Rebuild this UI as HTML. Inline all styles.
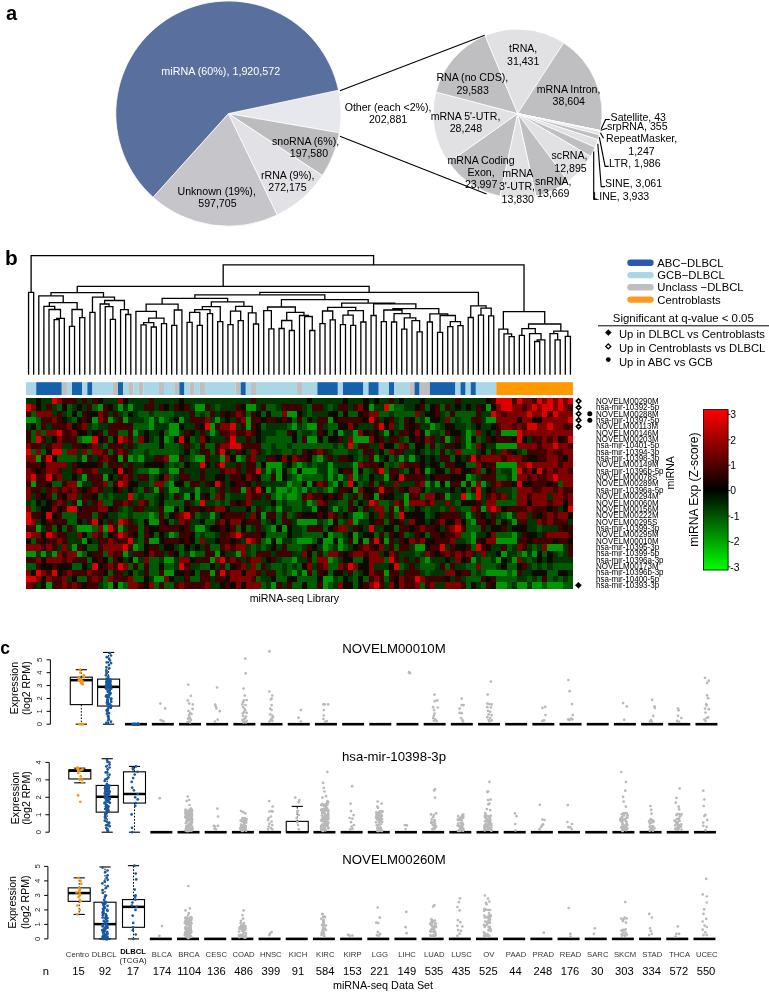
<!DOCTYPE html>
<html><head><meta charset="utf-8"><style>html,body{margin:0;padding:0;background:#fff;width:769px;height:992px;overflow:hidden}svg{display:block}</style></head><body>
<svg width="769" height="992" viewBox="0 0 769 992" font-family="Liberation Sans, Arial, Helvetica, sans-serif">
<rect width="769" height="992" fill="#fff"/>
<path d="M228.40,113.60 L338.54,90.19 A112.6,112.6 0 0 1 339.36,132.77 Z" fill="#e7e7ee" stroke="#fff" stroke-width="0.8" stroke-linejoin="round"/>
<path d="M228.40,113.60 L339.36,132.77 A112.6,112.6 0 0 1 322.40,175.58 Z" fill="#bcbcbe" stroke="#fff" stroke-width="0.8" stroke-linejoin="round"/>
<path d="M228.40,113.60 L322.40,175.58 A112.6,112.6 0 0 1 277.23,215.06 Z" fill="#e2e2e6" stroke="#fff" stroke-width="0.8" stroke-linejoin="round"/>
<path d="M228.40,113.60 L277.23,215.06 A112.6,112.6 0 0 1 153.06,197.28 Z" fill="#c6c6ca" stroke="#fff" stroke-width="0.8" stroke-linejoin="round"/>
<path d="M228.40,113.60 L153.06,197.28 A112.6,112.6 0 1 1 338.54,90.19 Z" fill="#59709f" stroke="#fff" stroke-width="0.8" stroke-linejoin="round"/>
<path d="M517.60,113.60 L484.99,35.65 A84.5,84.5 0 0 1 563.71,42.79 Z" fill="#e1e1e3" stroke="#fff" stroke-width="0.8" stroke-linejoin="round"/>
<path d="M517.60,113.60 L563.71,42.79 A84.5,84.5 0 0 1 600.38,130.55 Z" fill="#bfbfc1" stroke="#fff" stroke-width="0.8" stroke-linejoin="round"/>
<path d="M517.60,113.60 L600.38,130.55 A84.5,84.5 0 0 1 600.36,130.66 Z" fill="#e1e1e3" stroke="#fff" stroke-width="0.8" stroke-linejoin="round"/>
<path d="M517.60,113.60 L600.36,130.66 A84.5,84.5 0 0 1 600.17,131.57 Z" fill="#bfbfc1" stroke="#fff" stroke-width="0.8" stroke-linejoin="round"/>
<path d="M517.60,113.60 L600.17,131.57 A84.5,84.5 0 0 1 599.41,134.74 Z" fill="#e1e1e3" stroke="#fff" stroke-width="0.8" stroke-linejoin="round"/>
<path d="M517.60,113.60 L599.41,134.74 A84.5,84.5 0 0 1 597.96,139.73 Z" fill="#bfbfc1" stroke="#fff" stroke-width="0.8" stroke-linejoin="round"/>
<path d="M517.60,113.60 L597.96,139.73 A84.5,84.5 0 0 1 595.12,147.22 Z" fill="#e1e1e3" stroke="#fff" stroke-width="0.8" stroke-linejoin="round"/>
<path d="M517.60,113.60 L595.12,147.22 A84.5,84.5 0 0 1 590.46,156.39 Z" fill="#bfbfc1" stroke="#fff" stroke-width="0.8" stroke-linejoin="round"/>
<path d="M517.60,113.60 L590.46,156.39 A84.5,84.5 0 0 1 568.09,181.36 Z" fill="#e1e1e3" stroke="#fff" stroke-width="0.8" stroke-linejoin="round"/>
<path d="M517.60,113.60 L568.09,181.36 A84.5,84.5 0 0 1 535.80,196.12 Z" fill="#bfbfc1" stroke="#fff" stroke-width="0.8" stroke-linejoin="round"/>
<path d="M517.60,113.60 L535.80,196.12 A84.5,84.5 0 0 1 499.88,196.22 Z" fill="#e1e1e3" stroke="#fff" stroke-width="0.8" stroke-linejoin="round"/>
<path d="M517.60,113.60 L499.88,196.22 A84.5,84.5 0 0 1 448.65,162.45 Z" fill="#bfbfc1" stroke="#fff" stroke-width="0.8" stroke-linejoin="round"/>
<path d="M517.60,113.60 L448.65,162.45 A84.5,84.5 0 0 1 435.91,92.00 Z" fill="#e1e1e3" stroke="#fff" stroke-width="0.8" stroke-linejoin="round"/>
<path d="M517.60,113.60 L435.91,92.00 A84.5,84.5 0 0 1 484.99,35.65 Z" fill="#bfbfc1" stroke="#fff" stroke-width="0.8" stroke-linejoin="round"/>
<line x1="339.9" y1="90.7" x2="484.7" y2="35.3" stroke="#000" stroke-width="1.1"/>
<line x1="339.9" y1="136.3" x2="486.5" y2="194.0" stroke="#000" stroke-width="1.1"/>
<text x="6" y="20" font-size="20" text-anchor="start" fill="#000" font-weight="bold" >a</text>
<text x="220.8" y="74.8" font-size="10.75" text-anchor="middle" fill="#fff" font-weight="normal" >miRNA (60%), 1,920,572</text>
<text x="216.7" y="194.9" font-size="10.6" text-anchor="middle" fill="#000" font-weight="normal" >Unknown (19%),</text>
<text x="217.4" y="206.7" font-size="10.6" text-anchor="middle" fill="#000" font-weight="normal" >597,705</text>
<text x="287.8" y="179.3" font-size="10.6" text-anchor="middle" fill="#000" font-weight="normal" >rRNA (9%),</text>
<text x="287.5" y="191.3" font-size="10.6" text-anchor="middle" fill="#000" font-weight="normal" >272,175</text>
<text x="305.6" y="144.6" font-size="10.6" text-anchor="middle" fill="#000" font-weight="normal" >snoRNA (6%),</text>
<text x="308.9" y="156.8" font-size="10.6" text-anchor="middle" fill="#000" font-weight="normal" >197,580</text>
<text x="388.1" y="110.5" font-size="10.6" text-anchor="middle" fill="#000" font-weight="normal" >Other (each &lt;2%),</text>
<text x="388.1" y="123.1" font-size="10.6" text-anchor="middle" fill="#000" font-weight="normal" >202,881</text>
<text x="523.2" y="52.4" font-size="10.6" text-anchor="middle" fill="#000" font-weight="normal" >tRNA,</text>
<text x="523.2" y="64.7" font-size="10.6" text-anchor="middle" fill="#000" font-weight="normal" >31,431</text>
<text x="568.6" y="92.6" font-size="10.6" text-anchor="middle" fill="#000" font-weight="normal" >mRNA Intron,</text>
<text x="568.8" y="105.1" font-size="10.6" text-anchor="middle" fill="#000" font-weight="normal" >38,604</text>
<text x="472.3" y="81.1" font-size="10.6" text-anchor="middle" fill="#000" font-weight="normal" >RNA (no CDS),</text>
<text x="472.6" y="93.6" font-size="10.6" text-anchor="middle" fill="#000" font-weight="normal" >29,583</text>
<text x="465.5" y="119.6" font-size="10.6" text-anchor="middle" fill="#000" font-weight="normal" >mRNA 5'-UTR,</text>
<text x="465.9" y="131.8" font-size="10.6" text-anchor="middle" fill="#000" font-weight="normal" >28,248</text>
<text x="481.1" y="164.4" font-size="10.6" text-anchor="middle" fill="#000" font-weight="normal" >mRNA Coding</text>
<text x="481.1" y="175.7" font-size="10.6" text-anchor="middle" fill="#000" font-weight="normal" >Exon,</text>
<text x="481.1" y="188.1" font-size="10.6" text-anchor="middle" fill="#000" font-weight="normal" >23,997</text>
<text x="517.8" y="177.4" font-size="10.6" text-anchor="middle" fill="#000" font-weight="normal" >mRNA</text>
<text x="517.0" y="189.8" font-size="10.6" text-anchor="middle" fill="#000" font-weight="normal" >3'-UTR,</text>
<text x="517.8" y="202.9" font-size="10.6" text-anchor="middle" fill="#000" font-weight="normal" >13,830</text>
<text x="553.3" y="185.2" font-size="10.6" text-anchor="middle" fill="#000" font-weight="normal" >snRNA,</text>
<text x="553.3" y="197.3" font-size="10.6" text-anchor="middle" fill="#000" font-weight="normal" >13,669</text>
<text x="569.5" y="158.6" font-size="10.6" text-anchor="middle" fill="#000" font-weight="normal" >scRNA,</text>
<text x="570.5" y="171.6" font-size="10.6" text-anchor="middle" fill="#000" font-weight="normal" >12,895</text>
<text x="610.6" y="120.8" font-size="10.6" text-anchor="start" fill="#000" font-weight="normal" >Satellite, 43</text>
<text x="607" y="129.7" font-size="10.6" text-anchor="start" fill="#000" font-weight="normal" >srpRNA, 355</text>
<text x="606" y="142.2" font-size="10.6" text-anchor="start" fill="#000" font-weight="normal" >RepeatMasker,</text>
<text x="609" y="166.6" font-size="10.6" text-anchor="start" fill="#000" font-weight="normal" >LTR, 1,986</text>
<text x="605" y="187.4" font-size="10.6" text-anchor="start" fill="#000" font-weight="normal" >SINE, 3,061</text>
<text x="593.3" y="199.8" font-size="10.6" text-anchor="start" fill="#000" font-weight="normal" >LINE, 3,933</text>
<text x="641.5" y="154.6" font-size="10.6" text-anchor="middle" fill="#000" font-weight="normal" >1,247</text>
<polyline points="601.2,128.9 605.6,119.5 609.8,119.5" fill="none" stroke="#000" stroke-width="1.15"/>
<polyline points="600.7,130.2 607.1,128.3" fill="none" stroke="#000" stroke-width="1.15"/>
<polyline points="600.4,132.8 603.6,138.2" fill="none" stroke="#000" stroke-width="1.15"/>
<polyline points="599.3,137.1 605.1,166.3 608.7,166.3" fill="none" stroke="#000" stroke-width="1.15"/>
<polyline points="597.8,143.7 601.2,186.6 605.1,186.6" fill="none" stroke="#000" stroke-width="1.15"/>
<polyline points="593.7,151.5 593.7,199.1 596.8,199.1" fill="none" stroke="#000" stroke-width="1.15"/>
<path d="M28.56,374.00V292.30H33.67V374.00M54.12,374.00V319.60H59.23V374.00M56.67,319.60V318.30H64.34V374.00M49.00,374.00V309.50H60.51V318.30M43.89,374.00V306.30H54.76V309.50M69.45,374.00V326.40H74.56V374.00M79.68,374.00V317.60H84.79V374.00M72.01,326.40V309.50H82.23V317.60M49.32,306.30V302.70H77.12V309.50M38.78,374.00V295.90H63.22V302.70M89.90,374.00V312.40H95.01V374.00M110.35,374.00V319.30H115.46V374.00M105.24,374.00V306.60H112.90V319.30M100.12,374.00V304.00H109.07V306.60M125.68,374.00V314.50H130.80V374.00M120.57,374.00V309.70H128.24V314.50M104.60,304.00V300.50H124.41V309.70M92.46,312.40V297.20H114.50V300.50M51.00,295.90V292.60H103.48V297.20M141.02,374.00V324.90H146.13V374.00M151.24,374.00V327.00H156.36V374.00M143.58,324.90V322.70H153.80V327.00M161.47,374.00V323.60H166.58V374.00M148.69,322.70V318.10H164.02V323.60M135.91,374.00V311.30H156.36V318.10M171.69,374.00V325.30H176.80V374.00M174.25,325.30V310.00H181.92V374.00M146.13,311.30V304.10H178.08V310.00M187.03,374.00V322.30H192.14V374.00M197.25,374.00V325.30H202.36V374.00M189.58,322.30V312.30H199.81V325.30M207.48,374.00V313.60H212.59V374.00M194.70,312.30V309.70H210.03V313.60M217.70,374.00V321.60H222.81V374.00M202.36,309.70V306.70H220.26V321.60M227.92,374.00V324.60H233.04V374.00M238.15,374.00V320.70H243.26V374.00M230.48,324.60V311.20H240.70V320.70M253.48,374.00V324.00H258.60V374.00M248.37,374.00V312.90H256.04V324.00M235.59,311.20V306.40H252.21V312.90M211.31,306.70V301.90H243.90V306.40M162.11,304.10V298.30H227.60V301.90M268.82,374.00V328.80H273.93V374.00M263.71,374.00V310.60H271.38V328.80M279.04,374.00V328.50H284.16V374.00M289.27,374.00V330.50H294.38V374.00M281.60,328.50V320.50H291.82V330.50M309.72,374.00V330.50H314.83V374.00M304.60,374.00V316.50H312.27V330.50M299.49,374.00V315.50H308.44V316.50M286.71,320.50V312.30H303.97V315.50M267.54,310.60V307.00H295.34V312.30M319.94,374.00V323.60H325.05V374.00M330.16,374.00V319.80H335.28V374.00M322.50,323.60V311.00H332.72V319.80M340.39,374.00V324.60H345.50V374.00M350.61,374.00V325.30H355.72V374.00M342.94,324.60V315.20H353.17V325.30M360.84,374.00V322.00H365.95V374.00M348.06,315.20V310.60H363.39V322.00M327.61,311.00V307.40H355.72V310.60M371.06,374.00V315.50H376.17V374.00M381.28,374.00V321.60H386.40V374.00M391.51,374.00V322.00H396.62V374.00M401.73,374.00V329.20H406.84V374.00M417.07,374.00V331.80H422.18V374.00M411.96,374.00V320.70H419.62V331.80M404.29,329.20V317.80H415.79V320.70M394.06,322.00V313.60H410.04V317.80M383.84,321.60V310.00H402.05V313.60M427.29,374.00V322.00H432.40V374.00M437.52,374.00V332.40H442.63V374.00M447.74,374.00V326.60H452.85V374.00M457.96,374.00V325.70H463.08V374.00M450.30,326.60V321.60H460.52V325.70M440.07,332.40V315.50H455.41V321.60M429.85,322.00V313.80H447.74V315.50M392.95,310.00V308.70H438.79V313.80M373.62,315.50V303.80H415.87V308.70M341.67,307.40V303.20H394.74V303.80M281.44,307.00V299.60H368.20V303.20M194.86,298.30V294.90H324.82V299.60M468.19,374.00V317.50H473.30V374.00M478.41,374.00V315.20H483.52V374.00M488.64,374.00V315.80H493.75V374.00M480.97,315.20V308.10H491.19V315.80M470.74,317.50V305.80H486.08V308.10M259.84,294.90V292.40H478.41V305.80M77.24,292.60V286.40H369.13V292.40M509.08,374.00V336.60H514.20V374.00M503.97,374.00V333.90H511.64V336.60M498.86,374.00V329.20H507.81V333.90M519.31,374.00V335.40H524.42V374.00M534.64,374.00V341.50H539.76V374.00M537.20,341.50V339.80H544.87V374.00M529.53,374.00V333.60H541.03V339.80M521.86,335.40V328.60H535.28V333.60M555.09,374.00V339.80H560.20V374.00M549.98,374.00V333.60H557.65V339.80M565.32,374.00V336.30H570.43V374.00M553.81,333.60V331.20H567.87V336.30M528.57,328.60V324.00H560.84V331.20M503.33,329.20V311.70H544.71V324.00M223.18,286.40V264.80H524.02V311.70M31.11,292.30V255.60H373.60V264.80" fill="none" stroke="#000" stroke-width="1.3" stroke-linecap="square"/>
<rect x="26.00" y="382.2" width="10.22" height="12.8" fill="#a9d7e6"/>
<rect x="36.22" y="382.2" width="25.56" height="12.8" fill="#1561aa"/>
<rect x="61.78" y="382.2" width="5.11" height="12.8" fill="#bebebe"/>
<rect x="66.90" y="382.2" width="5.11" height="12.8" fill="#a9d7e6"/>
<rect x="72.01" y="382.2" width="10.22" height="12.8" fill="#1561aa"/>
<rect x="82.23" y="382.2" width="5.11" height="12.8" fill="#a9d7e6"/>
<rect x="87.34" y="382.2" width="5.11" height="12.8" fill="#1561aa"/>
<rect x="92.46" y="382.2" width="20.45" height="12.8" fill="#a9d7e6"/>
<rect x="112.90" y="382.2" width="5.11" height="12.8" fill="#bebebe"/>
<rect x="118.02" y="382.2" width="5.11" height="12.8" fill="#1561aa"/>
<rect x="123.13" y="382.2" width="5.11" height="12.8" fill="#a9d7e6"/>
<rect x="128.24" y="382.2" width="5.11" height="12.8" fill="#bebebe"/>
<rect x="133.35" y="382.2" width="5.11" height="12.8" fill="#a9d7e6"/>
<rect x="138.46" y="382.2" width="5.11" height="12.8" fill="#bebebe"/>
<rect x="143.58" y="382.2" width="15.34" height="12.8" fill="#a9d7e6"/>
<rect x="158.91" y="382.2" width="5.11" height="12.8" fill="#bebebe"/>
<rect x="164.02" y="382.2" width="10.22" height="12.8" fill="#a9d7e6"/>
<rect x="174.25" y="382.2" width="5.11" height="12.8" fill="#bebebe"/>
<rect x="179.36" y="382.2" width="5.11" height="12.8" fill="#1561aa"/>
<rect x="184.47" y="382.2" width="5.11" height="12.8" fill="#a9d7e6"/>
<rect x="189.58" y="382.2" width="5.11" height="12.8" fill="#bebebe"/>
<rect x="194.70" y="382.2" width="5.11" height="12.8" fill="#a9d7e6"/>
<rect x="199.81" y="382.2" width="5.11" height="12.8" fill="#bebebe"/>
<rect x="204.92" y="382.2" width="30.67" height="12.8" fill="#a9d7e6"/>
<rect x="235.59" y="382.2" width="5.11" height="12.8" fill="#bebebe"/>
<rect x="240.70" y="382.2" width="5.11" height="12.8" fill="#1561aa"/>
<rect x="245.82" y="382.2" width="5.11" height="12.8" fill="#a9d7e6"/>
<rect x="250.93" y="382.2" width="5.11" height="12.8" fill="#bebebe"/>
<rect x="256.04" y="382.2" width="40.90" height="12.8" fill="#a9d7e6"/>
<rect x="296.94" y="382.2" width="5.11" height="12.8" fill="#bebebe"/>
<rect x="302.05" y="382.2" width="15.34" height="12.8" fill="#a9d7e6"/>
<rect x="317.38" y="382.2" width="20.45" height="12.8" fill="#1561aa"/>
<rect x="337.83" y="382.2" width="5.11" height="12.8" fill="#a9d7e6"/>
<rect x="342.94" y="382.2" width="20.45" height="12.8" fill="#1561aa"/>
<rect x="363.39" y="382.2" width="5.11" height="12.8" fill="#a9d7e6"/>
<rect x="368.50" y="382.2" width="10.22" height="12.8" fill="#1561aa"/>
<rect x="378.73" y="382.2" width="10.22" height="12.8" fill="#a9d7e6"/>
<rect x="388.95" y="382.2" width="5.11" height="12.8" fill="#1561aa"/>
<rect x="394.06" y="382.2" width="15.34" height="12.8" fill="#a9d7e6"/>
<rect x="409.40" y="382.2" width="5.11" height="12.8" fill="#bebebe"/>
<rect x="414.51" y="382.2" width="5.11" height="12.8" fill="#1561aa"/>
<rect x="419.62" y="382.2" width="10.22" height="12.8" fill="#bebebe"/>
<rect x="429.85" y="382.2" width="25.56" height="12.8" fill="#1561aa"/>
<rect x="455.41" y="382.2" width="5.11" height="12.8" fill="#a9d7e6"/>
<rect x="460.52" y="382.2" width="5.11" height="12.8" fill="#1561aa"/>
<rect x="465.63" y="382.2" width="5.11" height="12.8" fill="#a9d7e6"/>
<rect x="470.74" y="382.2" width="5.11" height="12.8" fill="#1561aa"/>
<rect x="475.86" y="382.2" width="20.45" height="12.8" fill="#a9d7e6"/>
<rect x="496.30" y="382.2" width="76.68" height="12.8" fill="#ff9900"/>
<style>.R{fill:rgb(222,0,0)}.r{fill:rgb(128,0,0)}.d{fill:rgb(64,0,0)}.k{fill:rgb(14,8,0)}.h{fill:rgb(0,52,0)}.g{fill:rgb(0,90,0)}.G{fill:rgb(0,150,0)}</style>
<g shape-rendering="crispEdges"><rect x="26.00" y="398.00" width="10.27" height="6.41" class="h"/><rect x="36.22" y="398.00" width="5.16" height="6.41" class="k"/><rect x="41.34" y="398.00" width="10.27" height="6.41" class="h"/><rect x="51.56" y="398.00" width="5.16" height="6.41" class="R"/><rect x="56.67" y="398.00" width="5.16" height="6.41" class="r"/><rect x="61.78" y="398.00" width="15.39" height="6.41" class="d"/><rect x="77.12" y="398.00" width="5.16" height="6.41" class="h"/><rect x="82.23" y="398.00" width="5.16" height="6.41" class="d"/><rect x="87.34" y="398.00" width="5.16" height="6.41" class="h"/><rect x="92.46" y="398.00" width="5.16" height="6.41" class="d"/><rect x="97.57" y="398.00" width="5.16" height="6.41" class="k"/><rect x="102.68" y="398.00" width="15.39" height="6.41" class="h"/><rect x="118.02" y="398.00" width="5.16" height="6.41" class="r"/><rect x="123.13" y="398.00" width="5.16" height="6.41" class="k"/><rect x="128.24" y="398.00" width="20.50" height="6.41" class="h"/><rect x="148.69" y="398.00" width="5.16" height="6.41" class="d"/><rect x="153.80" y="398.00" width="25.61" height="6.41" class="h"/><rect x="179.36" y="398.00" width="5.16" height="6.41" class="k"/><rect x="184.47" y="398.00" width="66.51" height="6.41" class="h"/><rect x="250.93" y="398.00" width="5.16" height="6.41" class="d"/><rect x="256.04" y="398.00" width="51.17" height="6.41" class="h"/><rect x="307.16" y="398.00" width="5.16" height="6.41" class="k"/><rect x="312.27" y="398.00" width="30.72" height="6.41" class="h"/><rect x="342.94" y="398.00" width="5.16" height="6.41" class="k"/><rect x="348.06" y="398.00" width="15.39" height="6.41" class="h"/><rect x="363.39" y="398.00" width="5.16" height="6.41" class="k"/><rect x="368.50" y="398.00" width="5.16" height="6.41" class="h"/><rect x="373.62" y="398.00" width="5.16" height="6.41" class="k"/><rect x="378.73" y="398.00" width="10.27" height="6.41" class="h"/><rect x="388.95" y="398.00" width="5.16" height="6.41" class="d"/><rect x="394.06" y="398.00" width="5.16" height="6.41" class="h"/><rect x="399.18" y="398.00" width="5.16" height="6.41" class="k"/><rect x="404.29" y="398.00" width="15.39" height="6.41" class="h"/><rect x="419.62" y="398.00" width="5.16" height="6.41" class="k"/><rect x="424.74" y="398.00" width="30.72" height="6.41" class="h"/><rect x="455.41" y="398.00" width="5.16" height="6.41" class="d"/><rect x="460.52" y="398.00" width="25.61" height="6.41" class="h"/><rect x="486.08" y="398.00" width="5.16" height="6.41" class="k"/><rect x="491.19" y="398.00" width="5.16" height="6.41" class="d"/><rect x="496.30" y="398.00" width="15.39" height="6.41" class="R"/><rect x="511.64" y="398.00" width="5.16" height="6.41" class="d"/><rect x="516.75" y="398.00" width="5.16" height="6.41" class="R"/><rect x="521.86" y="398.00" width="10.27" height="6.41" class="r"/><rect x="532.09" y="398.00" width="5.16" height="6.41" class="d"/><rect x="537.20" y="398.00" width="5.16" height="6.41" class="R"/><rect x="542.31" y="398.00" width="5.16" height="6.41" class="r"/><rect x="547.42" y="398.00" width="5.16" height="6.41" class="R"/><rect x="552.54" y="398.00" width="5.16" height="6.41" class="r"/><rect x="557.65" y="398.00" width="5.16" height="6.41" class="R"/><rect x="562.76" y="398.00" width="5.16" height="6.41" class="r"/><rect x="567.87" y="398.00" width="5.16" height="6.41" class="R"/><rect x="26.00" y="404.36" width="5.16" height="6.41" class="R"/><rect x="31.11" y="404.36" width="5.16" height="6.41" class="r"/><rect x="36.22" y="404.36" width="5.16" height="6.41" class="k"/><rect x="41.34" y="404.36" width="5.16" height="6.41" class="h"/><rect x="46.45" y="404.36" width="5.16" height="6.41" class="d"/><rect x="51.56" y="404.36" width="5.16" height="6.41" class="h"/><rect x="56.67" y="404.36" width="5.16" height="6.41" class="g"/><rect x="61.78" y="404.36" width="5.16" height="6.41" class="k"/><rect x="66.90" y="404.36" width="5.16" height="6.41" class="g"/><rect x="72.01" y="404.36" width="5.16" height="6.41" class="h"/><rect x="77.12" y="404.36" width="5.16" height="6.41" class="k"/><rect x="82.23" y="404.36" width="5.16" height="6.41" class="h"/><rect x="87.34" y="404.36" width="5.16" height="6.41" class="d"/><rect x="92.46" y="404.36" width="5.16" height="6.41" class="g"/><rect x="97.57" y="404.36" width="5.16" height="6.41" class="G"/><rect x="102.68" y="404.36" width="5.16" height="6.41" class="d"/><rect x="107.79" y="404.36" width="5.16" height="6.41" class="k"/><rect x="112.90" y="404.36" width="5.16" height="6.41" class="h"/><rect x="118.02" y="404.36" width="5.16" height="6.41" class="G"/><rect x="123.13" y="404.36" width="5.16" height="6.41" class="h"/><rect x="128.24" y="404.36" width="5.16" height="6.41" class="G"/><rect x="133.35" y="404.36" width="10.27" height="6.41" class="h"/><rect x="143.58" y="404.36" width="10.27" height="6.41" class="d"/><rect x="153.80" y="404.36" width="5.16" height="6.41" class="h"/><rect x="158.91" y="404.36" width="5.16" height="6.41" class="d"/><rect x="164.02" y="404.36" width="5.16" height="6.41" class="k"/><rect x="169.14" y="404.36" width="5.16" height="6.41" class="h"/><rect x="174.25" y="404.36" width="5.16" height="6.41" class="d"/><rect x="179.36" y="404.36" width="5.16" height="6.41" class="k"/><rect x="184.47" y="404.36" width="5.16" height="6.41" class="d"/><rect x="189.58" y="404.36" width="5.16" height="6.41" class="h"/><rect x="194.70" y="404.36" width="10.27" height="6.41" class="G"/><rect x="204.92" y="404.36" width="5.16" height="6.41" class="d"/><rect x="210.03" y="404.36" width="5.16" height="6.41" class="h"/><rect x="215.14" y="404.36" width="5.16" height="6.41" class="g"/><rect x="220.26" y="404.36" width="15.39" height="6.41" class="h"/><rect x="235.59" y="404.36" width="5.16" height="6.41" class="d"/><rect x="240.70" y="404.36" width="5.16" height="6.41" class="k"/><rect x="245.82" y="404.36" width="10.27" height="6.41" class="G"/><rect x="256.04" y="404.36" width="5.16" height="6.41" class="h"/><rect x="261.15" y="404.36" width="5.16" height="6.41" class="d"/><rect x="266.26" y="404.36" width="10.27" height="6.41" class="g"/><rect x="276.49" y="404.36" width="5.16" height="6.41" class="h"/><rect x="281.60" y="404.36" width="20.50" height="6.41" class="d"/><rect x="302.05" y="404.36" width="5.16" height="6.41" class="h"/><rect x="307.16" y="404.36" width="5.16" height="6.41" class="g"/><rect x="312.27" y="404.36" width="10.27" height="6.41" class="d"/><rect x="322.50" y="404.36" width="5.16" height="6.41" class="h"/><rect x="327.61" y="404.36" width="5.16" height="6.41" class="g"/><rect x="332.72" y="404.36" width="5.16" height="6.41" class="h"/><rect x="337.83" y="404.36" width="10.27" height="6.41" class="d"/><rect x="348.06" y="404.36" width="5.16" height="6.41" class="h"/><rect x="353.17" y="404.36" width="5.16" height="6.41" class="d"/><rect x="358.28" y="404.36" width="5.16" height="6.41" class="r"/><rect x="363.39" y="404.36" width="5.16" height="6.41" class="k"/><rect x="368.50" y="404.36" width="5.16" height="6.41" class="G"/><rect x="373.62" y="404.36" width="10.27" height="6.41" class="h"/><rect x="383.84" y="404.36" width="5.16" height="6.41" class="R"/><rect x="388.95" y="404.36" width="5.16" height="6.41" class="G"/><rect x="394.06" y="404.36" width="10.27" height="6.41" class="g"/><rect x="404.29" y="404.36" width="10.27" height="6.41" class="h"/><rect x="414.51" y="404.36" width="5.16" height="6.41" class="k"/><rect x="419.62" y="404.36" width="5.16" height="6.41" class="d"/><rect x="424.74" y="404.36" width="5.16" height="6.41" class="g"/><rect x="429.85" y="404.36" width="5.16" height="6.41" class="k"/><rect x="434.96" y="404.36" width="5.16" height="6.41" class="d"/><rect x="440.07" y="404.36" width="5.16" height="6.41" class="g"/><rect x="445.18" y="404.36" width="5.16" height="6.41" class="d"/><rect x="450.30" y="404.36" width="5.16" height="6.41" class="h"/><rect x="455.41" y="404.36" width="5.16" height="6.41" class="k"/><rect x="460.52" y="404.36" width="5.16" height="6.41" class="h"/><rect x="465.63" y="404.36" width="5.16" height="6.41" class="k"/><rect x="470.74" y="404.36" width="5.16" height="6.41" class="h"/><rect x="475.86" y="404.36" width="5.16" height="6.41" class="d"/><rect x="480.97" y="404.36" width="5.16" height="6.41" class="k"/><rect x="486.08" y="404.36" width="5.16" height="6.41" class="G"/><rect x="491.19" y="404.36" width="5.16" height="6.41" class="k"/><rect x="496.30" y="404.36" width="5.16" height="6.41" class="r"/><rect x="501.42" y="404.36" width="10.27" height="6.41" class="R"/><rect x="511.64" y="404.36" width="10.27" height="6.41" class="r"/><rect x="521.86" y="404.36" width="5.16" height="6.41" class="d"/><rect x="526.98" y="404.36" width="5.16" height="6.41" class="r"/><rect x="532.09" y="404.36" width="5.16" height="6.41" class="R"/><rect x="537.20" y="404.36" width="5.16" height="6.41" class="r"/><rect x="542.31" y="404.36" width="10.27" height="6.41" class="R"/><rect x="552.54" y="404.36" width="5.16" height="6.41" class="r"/><rect x="557.65" y="404.36" width="5.16" height="6.41" class="R"/><rect x="562.76" y="404.36" width="5.16" height="6.41" class="r"/><rect x="567.87" y="404.36" width="5.16" height="6.41" class="d"/><rect x="26.00" y="410.72" width="5.16" height="6.41" class="d"/><rect x="31.11" y="410.72" width="5.16" height="6.41" class="g"/><rect x="36.22" y="410.72" width="15.39" height="6.41" class="r"/><rect x="51.56" y="410.72" width="5.16" height="6.41" class="h"/><rect x="56.67" y="410.72" width="5.16" height="6.41" class="d"/><rect x="61.78" y="410.72" width="5.16" height="6.41" class="h"/><rect x="66.90" y="410.72" width="5.16" height="6.41" class="g"/><rect x="72.01" y="410.72" width="5.16" height="6.41" class="k"/><rect x="77.12" y="410.72" width="5.16" height="6.41" class="g"/><rect x="82.23" y="410.72" width="5.16" height="6.41" class="d"/><rect x="87.34" y="410.72" width="10.27" height="6.41" class="k"/><rect x="97.57" y="410.72" width="5.16" height="6.41" class="r"/><rect x="102.68" y="410.72" width="5.16" height="6.41" class="d"/><rect x="107.79" y="410.72" width="5.16" height="6.41" class="h"/><rect x="112.90" y="410.72" width="5.16" height="6.41" class="d"/><rect x="118.02" y="410.72" width="5.16" height="6.41" class="h"/><rect x="123.13" y="410.72" width="5.16" height="6.41" class="g"/><rect x="128.24" y="410.72" width="5.16" height="6.41" class="k"/><rect x="133.35" y="410.72" width="5.16" height="6.41" class="h"/><rect x="138.46" y="410.72" width="10.27" height="6.41" class="g"/><rect x="148.69" y="410.72" width="5.16" height="6.41" class="h"/><rect x="153.80" y="410.72" width="20.50" height="6.41" class="g"/><rect x="174.25" y="410.72" width="15.39" height="6.41" class="h"/><rect x="189.58" y="410.72" width="5.16" height="6.41" class="d"/><rect x="194.70" y="410.72" width="5.16" height="6.41" class="g"/><rect x="199.81" y="410.72" width="5.16" height="6.41" class="h"/><rect x="204.92" y="410.72" width="5.16" height="6.41" class="g"/><rect x="210.03" y="410.72" width="5.16" height="6.41" class="d"/><rect x="215.14" y="410.72" width="5.16" height="6.41" class="h"/><rect x="220.26" y="410.72" width="5.16" height="6.41" class="d"/><rect x="225.37" y="410.72" width="5.16" height="6.41" class="k"/><rect x="230.48" y="410.72" width="5.16" height="6.41" class="d"/><rect x="235.59" y="410.72" width="5.16" height="6.41" class="r"/><rect x="240.70" y="410.72" width="5.16" height="6.41" class="d"/><rect x="245.82" y="410.72" width="5.16" height="6.41" class="g"/><rect x="250.93" y="410.72" width="5.16" height="6.41" class="d"/><rect x="256.04" y="410.72" width="5.16" height="6.41" class="k"/><rect x="261.15" y="410.72" width="5.16" height="6.41" class="g"/><rect x="266.26" y="410.72" width="5.16" height="6.41" class="k"/><rect x="271.38" y="410.72" width="10.27" height="6.41" class="g"/><rect x="281.60" y="410.72" width="5.16" height="6.41" class="r"/><rect x="286.71" y="410.72" width="10.27" height="6.41" class="G"/><rect x="296.94" y="410.72" width="5.16" height="6.41" class="k"/><rect x="302.05" y="410.72" width="5.16" height="6.41" class="h"/><rect x="307.16" y="410.72" width="5.16" height="6.41" class="g"/><rect x="312.27" y="410.72" width="15.39" height="6.41" class="h"/><rect x="327.61" y="410.72" width="10.27" height="6.41" class="k"/><rect x="337.83" y="410.72" width="5.16" height="6.41" class="g"/><rect x="342.94" y="410.72" width="5.16" height="6.41" class="k"/><rect x="348.06" y="410.72" width="10.27" height="6.41" class="g"/><rect x="358.28" y="410.72" width="5.16" height="6.41" class="k"/><rect x="363.39" y="410.72" width="5.16" height="6.41" class="d"/><rect x="368.50" y="410.72" width="10.27" height="6.41" class="r"/><rect x="378.73" y="410.72" width="10.27" height="6.41" class="g"/><rect x="388.95" y="410.72" width="5.16" height="6.41" class="h"/><rect x="394.06" y="410.72" width="20.50" height="6.41" class="g"/><rect x="414.51" y="410.72" width="5.16" height="6.41" class="r"/><rect x="419.62" y="410.72" width="5.16" height="6.41" class="h"/><rect x="424.74" y="410.72" width="10.27" height="6.41" class="k"/><rect x="434.96" y="410.72" width="5.16" height="6.41" class="d"/><rect x="440.07" y="410.72" width="5.16" height="6.41" class="h"/><rect x="445.18" y="410.72" width="5.16" height="6.41" class="g"/><rect x="450.30" y="410.72" width="5.16" height="6.41" class="d"/><rect x="455.41" y="410.72" width="20.50" height="6.41" class="g"/><rect x="475.86" y="410.72" width="5.16" height="6.41" class="d"/><rect x="480.97" y="410.72" width="10.27" height="6.41" class="h"/><rect x="491.19" y="410.72" width="5.16" height="6.41" class="R"/><rect x="496.30" y="410.72" width="5.16" height="6.41" class="r"/><rect x="501.42" y="410.72" width="5.16" height="6.41" class="d"/><rect x="506.53" y="410.72" width="20.50" height="6.41" class="r"/><rect x="526.98" y="410.72" width="5.16" height="6.41" class="R"/><rect x="532.09" y="410.72" width="10.27" height="6.41" class="r"/><rect x="542.31" y="410.72" width="5.16" height="6.41" class="R"/><rect x="547.42" y="410.72" width="5.16" height="6.41" class="d"/><rect x="552.54" y="410.72" width="5.16" height="6.41" class="R"/><rect x="557.65" y="410.72" width="15.39" height="6.41" class="r"/><rect x="26.00" y="417.08" width="10.27" height="6.41" class="G"/><rect x="36.22" y="417.08" width="5.16" height="6.41" class="g"/><rect x="41.34" y="417.08" width="10.27" height="6.41" class="d"/><rect x="51.56" y="417.08" width="5.16" height="6.41" class="r"/><rect x="56.67" y="417.08" width="5.16" height="6.41" class="d"/><rect x="61.78" y="417.08" width="5.16" height="6.41" class="k"/><rect x="66.90" y="417.08" width="5.16" height="6.41" class="h"/><rect x="72.01" y="417.08" width="5.16" height="6.41" class="g"/><rect x="77.12" y="417.08" width="5.16" height="6.41" class="k"/><rect x="82.23" y="417.08" width="5.16" height="6.41" class="d"/><rect x="87.34" y="417.08" width="5.16" height="6.41" class="k"/><rect x="92.46" y="417.08" width="5.16" height="6.41" class="G"/><rect x="97.57" y="417.08" width="5.16" height="6.41" class="r"/><rect x="102.68" y="417.08" width="5.16" height="6.41" class="d"/><rect x="107.79" y="417.08" width="5.16" height="6.41" class="G"/><rect x="112.90" y="417.08" width="5.16" height="6.41" class="h"/><rect x="118.02" y="417.08" width="5.16" height="6.41" class="d"/><rect x="123.13" y="417.08" width="5.16" height="6.41" class="G"/><rect x="128.24" y="417.08" width="15.39" height="6.41" class="h"/><rect x="143.58" y="417.08" width="5.16" height="6.41" class="g"/><rect x="148.69" y="417.08" width="5.16" height="6.41" class="G"/><rect x="153.80" y="417.08" width="5.16" height="6.41" class="h"/><rect x="158.91" y="417.08" width="5.16" height="6.41" class="G"/><rect x="164.02" y="417.08" width="5.16" height="6.41" class="g"/><rect x="169.14" y="417.08" width="5.16" height="6.41" class="h"/><rect x="174.25" y="417.08" width="5.16" height="6.41" class="k"/><rect x="179.36" y="417.08" width="5.16" height="6.41" class="G"/><rect x="184.47" y="417.08" width="5.16" height="6.41" class="h"/><rect x="189.58" y="417.08" width="15.39" height="6.41" class="d"/><rect x="204.92" y="417.08" width="5.16" height="6.41" class="r"/><rect x="210.03" y="417.08" width="5.16" height="6.41" class="h"/><rect x="215.14" y="417.08" width="5.16" height="6.41" class="G"/><rect x="220.26" y="417.08" width="5.16" height="6.41" class="h"/><rect x="225.37" y="417.08" width="5.16" height="6.41" class="k"/><rect x="230.48" y="417.08" width="5.16" height="6.41" class="h"/><rect x="235.59" y="417.08" width="5.16" height="6.41" class="d"/><rect x="240.70" y="417.08" width="5.16" height="6.41" class="r"/><rect x="245.82" y="417.08" width="5.16" height="6.41" class="G"/><rect x="250.93" y="417.08" width="10.27" height="6.41" class="d"/><rect x="261.15" y="417.08" width="5.16" height="6.41" class="k"/><rect x="266.26" y="417.08" width="10.27" height="6.41" class="d"/><rect x="276.49" y="417.08" width="5.16" height="6.41" class="k"/><rect x="281.60" y="417.08" width="5.16" height="6.41" class="d"/><rect x="286.71" y="417.08" width="5.16" height="6.41" class="k"/><rect x="291.82" y="417.08" width="5.16" height="6.41" class="g"/><rect x="296.94" y="417.08" width="5.16" height="6.41" class="d"/><rect x="302.05" y="417.08" width="5.16" height="6.41" class="g"/><rect x="307.16" y="417.08" width="5.16" height="6.41" class="k"/><rect x="312.27" y="417.08" width="5.16" height="6.41" class="h"/><rect x="317.38" y="417.08" width="10.27" height="6.41" class="d"/><rect x="327.61" y="417.08" width="5.16" height="6.41" class="G"/><rect x="332.72" y="417.08" width="5.16" height="6.41" class="k"/><rect x="337.83" y="417.08" width="25.61" height="6.41" class="d"/><rect x="363.39" y="417.08" width="5.16" height="6.41" class="k"/><rect x="368.50" y="417.08" width="5.16" height="6.41" class="R"/><rect x="373.62" y="417.08" width="5.16" height="6.41" class="d"/><rect x="378.73" y="417.08" width="5.16" height="6.41" class="h"/><rect x="383.84" y="417.08" width="5.16" height="6.41" class="k"/><rect x="388.95" y="417.08" width="5.16" height="6.41" class="d"/><rect x="394.06" y="417.08" width="5.16" height="6.41" class="h"/><rect x="399.18" y="417.08" width="5.16" height="6.41" class="g"/><rect x="404.29" y="417.08" width="5.16" height="6.41" class="d"/><rect x="409.40" y="417.08" width="5.16" height="6.41" class="k"/><rect x="414.51" y="417.08" width="5.16" height="6.41" class="g"/><rect x="419.62" y="417.08" width="5.16" height="6.41" class="h"/><rect x="424.74" y="417.08" width="5.16" height="6.41" class="G"/><rect x="429.85" y="417.08" width="10.27" height="6.41" class="k"/><rect x="440.07" y="417.08" width="5.16" height="6.41" class="h"/><rect x="445.18" y="417.08" width="5.16" height="6.41" class="r"/><rect x="450.30" y="417.08" width="5.16" height="6.41" class="g"/><rect x="455.41" y="417.08" width="5.16" height="6.41" class="h"/><rect x="460.52" y="417.08" width="10.27" height="6.41" class="g"/><rect x="470.74" y="417.08" width="10.27" height="6.41" class="d"/><rect x="480.97" y="417.08" width="5.16" height="6.41" class="h"/><rect x="486.08" y="417.08" width="10.27" height="6.41" class="G"/><rect x="496.30" y="417.08" width="20.50" height="6.41" class="r"/><rect x="516.75" y="417.08" width="5.16" height="6.41" class="k"/><rect x="521.86" y="417.08" width="10.27" height="6.41" class="r"/><rect x="532.09" y="417.08" width="10.27" height="6.41" class="k"/><rect x="542.31" y="417.08" width="25.61" height="6.41" class="r"/><rect x="567.87" y="417.08" width="5.16" height="6.41" class="R"/><rect x="26.00" y="423.44" width="5.16" height="6.41" class="h"/><rect x="31.11" y="423.44" width="5.16" height="6.41" class="k"/><rect x="36.22" y="423.44" width="5.16" height="6.41" class="g"/><rect x="41.34" y="423.44" width="5.16" height="6.41" class="d"/><rect x="46.45" y="423.44" width="5.16" height="6.41" class="h"/><rect x="51.56" y="423.44" width="15.39" height="6.41" class="d"/><rect x="66.90" y="423.44" width="5.16" height="6.41" class="r"/><rect x="72.01" y="423.44" width="5.16" height="6.41" class="k"/><rect x="77.12" y="423.44" width="5.16" height="6.41" class="d"/><rect x="82.23" y="423.44" width="5.16" height="6.41" class="r"/><rect x="87.34" y="423.44" width="5.16" height="6.41" class="h"/><rect x="92.46" y="423.44" width="5.16" height="6.41" class="g"/><rect x="97.57" y="423.44" width="10.27" height="6.41" class="h"/><rect x="107.79" y="423.44" width="25.61" height="6.41" class="d"/><rect x="133.35" y="423.44" width="15.39" height="6.41" class="g"/><rect x="148.69" y="423.44" width="5.16" height="6.41" class="G"/><rect x="153.80" y="423.44" width="15.39" height="6.41" class="h"/><rect x="169.14" y="423.44" width="10.27" height="6.41" class="G"/><rect x="179.36" y="423.44" width="5.16" height="6.41" class="k"/><rect x="184.47" y="423.44" width="10.27" height="6.41" class="h"/><rect x="194.70" y="423.44" width="5.16" height="6.41" class="d"/><rect x="199.81" y="423.44" width="5.16" height="6.41" class="k"/><rect x="204.92" y="423.44" width="5.16" height="6.41" class="R"/><rect x="210.03" y="423.44" width="5.16" height="6.41" class="G"/><rect x="215.14" y="423.44" width="5.16" height="6.41" class="d"/><rect x="220.26" y="423.44" width="10.27" height="6.41" class="r"/><rect x="230.48" y="423.44" width="5.16" height="6.41" class="R"/><rect x="235.59" y="423.44" width="5.16" height="6.41" class="h"/><rect x="240.70" y="423.44" width="5.16" height="6.41" class="d"/><rect x="245.82" y="423.44" width="5.16" height="6.41" class="G"/><rect x="250.93" y="423.44" width="5.16" height="6.41" class="d"/><rect x="256.04" y="423.44" width="5.16" height="6.41" class="k"/><rect x="261.15" y="423.44" width="5.16" height="6.41" class="g"/><rect x="266.26" y="423.44" width="20.50" height="6.41" class="h"/><rect x="286.71" y="423.44" width="5.16" height="6.41" class="g"/><rect x="291.82" y="423.44" width="5.16" height="6.41" class="G"/><rect x="296.94" y="423.44" width="5.16" height="6.41" class="h"/><rect x="302.05" y="423.44" width="5.16" height="6.41" class="g"/><rect x="307.16" y="423.44" width="10.27" height="6.41" class="G"/><rect x="317.38" y="423.44" width="5.16" height="6.41" class="d"/><rect x="322.50" y="423.44" width="5.16" height="6.41" class="h"/><rect x="327.61" y="423.44" width="10.27" height="6.41" class="g"/><rect x="337.83" y="423.44" width="10.27" height="6.41" class="k"/><rect x="348.06" y="423.44" width="5.16" height="6.41" class="r"/><rect x="353.17" y="423.44" width="5.16" height="6.41" class="k"/><rect x="358.28" y="423.44" width="15.39" height="6.41" class="h"/><rect x="373.62" y="423.44" width="5.16" height="6.41" class="d"/><rect x="378.73" y="423.44" width="5.16" height="6.41" class="R"/><rect x="383.84" y="423.44" width="5.16" height="6.41" class="k"/><rect x="388.95" y="423.44" width="5.16" height="6.41" class="r"/><rect x="394.06" y="423.44" width="5.16" height="6.41" class="h"/><rect x="399.18" y="423.44" width="5.16" height="6.41" class="g"/><rect x="404.29" y="423.44" width="5.16" height="6.41" class="d"/><rect x="409.40" y="423.44" width="5.16" height="6.41" class="k"/><rect x="414.51" y="423.44" width="5.16" height="6.41" class="d"/><rect x="419.62" y="423.44" width="10.27" height="6.41" class="h"/><rect x="429.85" y="423.44" width="5.16" height="6.41" class="G"/><rect x="434.96" y="423.44" width="5.16" height="6.41" class="g"/><rect x="440.07" y="423.44" width="5.16" height="6.41" class="h"/><rect x="445.18" y="423.44" width="10.27" height="6.41" class="k"/><rect x="455.41" y="423.44" width="10.27" height="6.41" class="h"/><rect x="465.63" y="423.44" width="5.16" height="6.41" class="g"/><rect x="470.74" y="423.44" width="5.16" height="6.41" class="h"/><rect x="475.86" y="423.44" width="5.16" height="6.41" class="k"/><rect x="480.97" y="423.44" width="10.27" height="6.41" class="h"/><rect x="491.19" y="423.44" width="5.16" height="6.41" class="k"/><rect x="496.30" y="423.44" width="5.16" height="6.41" class="d"/><rect x="501.42" y="423.44" width="10.27" height="6.41" class="r"/><rect x="511.64" y="423.44" width="5.16" height="6.41" class="d"/><rect x="516.75" y="423.44" width="5.16" height="6.41" class="r"/><rect x="521.86" y="423.44" width="5.16" height="6.41" class="d"/><rect x="526.98" y="423.44" width="10.27" height="6.41" class="R"/><rect x="537.20" y="423.44" width="10.27" height="6.41" class="r"/><rect x="547.42" y="423.44" width="5.16" height="6.41" class="R"/><rect x="552.54" y="423.44" width="10.27" height="6.41" class="r"/><rect x="562.76" y="423.44" width="10.27" height="6.41" class="d"/><rect x="26.00" y="429.80" width="5.16" height="6.41" class="d"/><rect x="31.11" y="429.80" width="5.16" height="6.41" class="g"/><rect x="36.22" y="429.80" width="5.16" height="6.41" class="r"/><rect x="41.34" y="429.80" width="5.16" height="6.41" class="g"/><rect x="46.45" y="429.80" width="10.27" height="6.41" class="r"/><rect x="56.67" y="429.80" width="5.16" height="6.41" class="R"/><rect x="61.78" y="429.80" width="10.27" height="6.41" class="d"/><rect x="72.01" y="429.80" width="5.16" height="6.41" class="r"/><rect x="77.12" y="429.80" width="10.27" height="6.41" class="k"/><rect x="87.34" y="429.80" width="5.16" height="6.41" class="h"/><rect x="92.46" y="429.80" width="5.16" height="6.41" class="k"/><rect x="97.57" y="429.80" width="5.16" height="6.41" class="d"/><rect x="102.68" y="429.80" width="5.16" height="6.41" class="g"/><rect x="107.79" y="429.80" width="10.27" height="6.41" class="d"/><rect x="118.02" y="429.80" width="10.27" height="6.41" class="g"/><rect x="128.24" y="429.80" width="5.16" height="6.41" class="d"/><rect x="133.35" y="429.80" width="5.16" height="6.41" class="G"/><rect x="138.46" y="429.80" width="5.16" height="6.41" class="h"/><rect x="143.58" y="429.80" width="5.16" height="6.41" class="k"/><rect x="148.69" y="429.80" width="10.27" height="6.41" class="h"/><rect x="158.91" y="429.80" width="5.16" height="6.41" class="k"/><rect x="164.02" y="429.80" width="5.16" height="6.41" class="g"/><rect x="169.14" y="429.80" width="10.27" height="6.41" class="G"/><rect x="179.36" y="429.80" width="5.16" height="6.41" class="h"/><rect x="184.47" y="429.80" width="5.16" height="6.41" class="d"/><rect x="189.58" y="429.80" width="5.16" height="6.41" class="k"/><rect x="194.70" y="429.80" width="5.16" height="6.41" class="h"/><rect x="199.81" y="429.80" width="5.16" height="6.41" class="d"/><rect x="204.92" y="429.80" width="5.16" height="6.41" class="h"/><rect x="210.03" y="429.80" width="5.16" height="6.41" class="G"/><rect x="215.14" y="429.80" width="5.16" height="6.41" class="h"/><rect x="220.26" y="429.80" width="10.27" height="6.41" class="d"/><rect x="230.48" y="429.80" width="5.16" height="6.41" class="r"/><rect x="235.59" y="429.80" width="10.27" height="6.41" class="d"/><rect x="245.82" y="429.80" width="5.16" height="6.41" class="r"/><rect x="250.93" y="429.80" width="5.16" height="6.41" class="d"/><rect x="256.04" y="429.80" width="5.16" height="6.41" class="k"/><rect x="261.15" y="429.80" width="15.39" height="6.41" class="h"/><rect x="276.49" y="429.80" width="10.27" height="6.41" class="g"/><rect x="286.71" y="429.80" width="5.16" height="6.41" class="d"/><rect x="291.82" y="429.80" width="5.16" height="6.41" class="k"/><rect x="296.94" y="429.80" width="5.16" height="6.41" class="g"/><rect x="302.05" y="429.80" width="10.27" height="6.41" class="h"/><rect x="312.27" y="429.80" width="5.16" height="6.41" class="g"/><rect x="317.38" y="429.80" width="5.16" height="6.41" class="d"/><rect x="322.50" y="429.80" width="5.16" height="6.41" class="k"/><rect x="327.61" y="429.80" width="5.16" height="6.41" class="g"/><rect x="332.72" y="429.80" width="5.16" height="6.41" class="k"/><rect x="337.83" y="429.80" width="5.16" height="6.41" class="G"/><rect x="342.94" y="429.80" width="10.27" height="6.41" class="h"/><rect x="353.17" y="429.80" width="5.16" height="6.41" class="G"/><rect x="358.28" y="429.80" width="5.16" height="6.41" class="r"/><rect x="363.39" y="429.80" width="5.16" height="6.41" class="k"/><rect x="368.50" y="429.80" width="5.16" height="6.41" class="d"/><rect x="373.62" y="429.80" width="5.16" height="6.41" class="k"/><rect x="378.73" y="429.80" width="5.16" height="6.41" class="h"/><rect x="383.84" y="429.80" width="5.16" height="6.41" class="G"/><rect x="388.95" y="429.80" width="5.16" height="6.41" class="k"/><rect x="394.06" y="429.80" width="5.16" height="6.41" class="h"/><rect x="399.18" y="429.80" width="10.27" height="6.41" class="d"/><rect x="409.40" y="429.80" width="5.16" height="6.41" class="k"/><rect x="414.51" y="429.80" width="5.16" height="6.41" class="r"/><rect x="419.62" y="429.80" width="5.16" height="6.41" class="k"/><rect x="424.74" y="429.80" width="5.16" height="6.41" class="G"/><rect x="429.85" y="429.80" width="10.27" height="6.41" class="h"/><rect x="440.07" y="429.80" width="5.16" height="6.41" class="g"/><rect x="445.18" y="429.80" width="5.16" height="6.41" class="d"/><rect x="450.30" y="429.80" width="10.27" height="6.41" class="k"/><rect x="460.52" y="429.80" width="5.16" height="6.41" class="h"/><rect x="465.63" y="429.80" width="5.16" height="6.41" class="G"/><rect x="470.74" y="429.80" width="5.16" height="6.41" class="g"/><rect x="475.86" y="429.80" width="5.16" height="6.41" class="r"/><rect x="480.97" y="429.80" width="5.16" height="6.41" class="h"/><rect x="486.08" y="429.80" width="5.16" height="6.41" class="k"/><rect x="491.19" y="429.80" width="5.16" height="6.41" class="h"/><rect x="496.30" y="429.80" width="5.16" height="6.41" class="d"/><rect x="501.42" y="429.80" width="15.39" height="6.41" class="G"/><rect x="516.75" y="429.80" width="5.16" height="6.41" class="R"/><rect x="521.86" y="429.80" width="51.17" height="6.41" class="r"/><rect x="26.00" y="436.16" width="5.16" height="6.41" class="d"/><rect x="31.11" y="436.16" width="5.16" height="6.41" class="g"/><rect x="36.22" y="436.16" width="5.16" height="6.41" class="R"/><rect x="41.34" y="436.16" width="5.16" height="6.41" class="d"/><rect x="46.45" y="436.16" width="5.16" height="6.41" class="h"/><rect x="51.56" y="436.16" width="5.16" height="6.41" class="k"/><rect x="56.67" y="436.16" width="5.16" height="6.41" class="r"/><rect x="61.78" y="436.16" width="15.39" height="6.41" class="d"/><rect x="77.12" y="436.16" width="5.16" height="6.41" class="g"/><rect x="82.23" y="436.16" width="10.27" height="6.41" class="G"/><rect x="92.46" y="436.16" width="5.16" height="6.41" class="R"/><rect x="97.57" y="436.16" width="5.16" height="6.41" class="k"/><rect x="102.68" y="436.16" width="5.16" height="6.41" class="d"/><rect x="107.79" y="436.16" width="5.16" height="6.41" class="g"/><rect x="112.90" y="436.16" width="5.16" height="6.41" class="k"/><rect x="118.02" y="436.16" width="5.16" height="6.41" class="R"/><rect x="123.13" y="436.16" width="5.16" height="6.41" class="r"/><rect x="128.24" y="436.16" width="5.16" height="6.41" class="d"/><rect x="133.35" y="436.16" width="5.16" height="6.41" class="g"/><rect x="138.46" y="436.16" width="5.16" height="6.41" class="r"/><rect x="143.58" y="436.16" width="5.16" height="6.41" class="k"/><rect x="148.69" y="436.16" width="5.16" height="6.41" class="h"/><rect x="153.80" y="436.16" width="5.16" height="6.41" class="g"/><rect x="158.91" y="436.16" width="5.16" height="6.41" class="k"/><rect x="164.02" y="436.16" width="5.16" height="6.41" class="G"/><rect x="169.14" y="436.16" width="5.16" height="6.41" class="g"/><rect x="174.25" y="436.16" width="5.16" height="6.41" class="k"/><rect x="179.36" y="436.16" width="5.16" height="6.41" class="R"/><rect x="184.47" y="436.16" width="5.16" height="6.41" class="k"/><rect x="189.58" y="436.16" width="5.16" height="6.41" class="g"/><rect x="194.70" y="436.16" width="5.16" height="6.41" class="h"/><rect x="199.81" y="436.16" width="5.16" height="6.41" class="r"/><rect x="204.92" y="436.16" width="5.16" height="6.41" class="k"/><rect x="210.03" y="436.16" width="15.39" height="6.41" class="h"/><rect x="225.37" y="436.16" width="5.16" height="6.41" class="d"/><rect x="230.48" y="436.16" width="5.16" height="6.41" class="R"/><rect x="235.59" y="436.16" width="10.27" height="6.41" class="h"/><rect x="245.82" y="436.16" width="5.16" height="6.41" class="d"/><rect x="250.93" y="436.16" width="5.16" height="6.41" class="h"/><rect x="256.04" y="436.16" width="5.16" height="6.41" class="k"/><rect x="261.15" y="436.16" width="5.16" height="6.41" class="h"/><rect x="266.26" y="436.16" width="25.61" height="6.41" class="g"/><rect x="291.82" y="436.16" width="5.16" height="6.41" class="k"/><rect x="296.94" y="436.16" width="5.16" height="6.41" class="g"/><rect x="302.05" y="436.16" width="5.16" height="6.41" class="d"/><rect x="307.16" y="436.16" width="10.27" height="6.41" class="G"/><rect x="317.38" y="436.16" width="5.16" height="6.41" class="k"/><rect x="322.50" y="436.16" width="5.16" height="6.41" class="g"/><rect x="327.61" y="436.16" width="10.27" height="6.41" class="k"/><rect x="337.83" y="436.16" width="5.16" height="6.41" class="d"/><rect x="342.94" y="436.16" width="5.16" height="6.41" class="h"/><rect x="348.06" y="436.16" width="5.16" height="6.41" class="r"/><rect x="353.17" y="436.16" width="15.39" height="6.41" class="G"/><rect x="368.50" y="436.16" width="5.16" height="6.41" class="r"/><rect x="373.62" y="436.16" width="5.16" height="6.41" class="k"/><rect x="378.73" y="436.16" width="5.16" height="6.41" class="d"/><rect x="383.84" y="436.16" width="5.16" height="6.41" class="h"/><rect x="388.95" y="436.16" width="10.27" height="6.41" class="d"/><rect x="399.18" y="436.16" width="5.16" height="6.41" class="h"/><rect x="404.29" y="436.16" width="5.16" height="6.41" class="g"/><rect x="409.40" y="436.16" width="5.16" height="6.41" class="k"/><rect x="414.51" y="436.16" width="5.16" height="6.41" class="d"/><rect x="419.62" y="436.16" width="5.16" height="6.41" class="k"/><rect x="424.74" y="436.16" width="5.16" height="6.41" class="r"/><rect x="429.85" y="436.16" width="5.16" height="6.41" class="d"/><rect x="434.96" y="436.16" width="5.16" height="6.41" class="h"/><rect x="440.07" y="436.16" width="5.16" height="6.41" class="d"/><rect x="445.18" y="436.16" width="5.16" height="6.41" class="G"/><rect x="450.30" y="436.16" width="5.16" height="6.41" class="h"/><rect x="455.41" y="436.16" width="5.16" height="6.41" class="d"/><rect x="460.52" y="436.16" width="5.16" height="6.41" class="h"/><rect x="465.63" y="436.16" width="5.16" height="6.41" class="G"/><rect x="470.74" y="436.16" width="5.16" height="6.41" class="k"/><rect x="475.86" y="436.16" width="5.16" height="6.41" class="g"/><rect x="480.97" y="436.16" width="5.16" height="6.41" class="h"/><rect x="486.08" y="436.16" width="5.16" height="6.41" class="d"/><rect x="491.19" y="436.16" width="5.16" height="6.41" class="k"/><rect x="496.30" y="436.16" width="15.39" height="6.41" class="d"/><rect x="511.64" y="436.16" width="5.16" height="6.41" class="k"/><rect x="516.75" y="436.16" width="5.16" height="6.41" class="R"/><rect x="521.86" y="436.16" width="5.16" height="6.41" class="k"/><rect x="526.98" y="436.16" width="5.16" height="6.41" class="h"/><rect x="532.09" y="436.16" width="10.27" height="6.41" class="d"/><rect x="542.31" y="436.16" width="5.16" height="6.41" class="r"/><rect x="547.42" y="436.16" width="5.16" height="6.41" class="d"/><rect x="552.54" y="436.16" width="5.16" height="6.41" class="r"/><rect x="557.65" y="436.16" width="5.16" height="6.41" class="k"/><rect x="562.76" y="436.16" width="5.16" height="6.41" class="d"/><rect x="567.87" y="436.16" width="5.16" height="6.41" class="R"/><rect x="26.00" y="442.52" width="5.16" height="6.41" class="r"/><rect x="31.11" y="442.52" width="10.27" height="6.41" class="d"/><rect x="41.34" y="442.52" width="5.16" height="6.41" class="h"/><rect x="46.45" y="442.52" width="5.16" height="6.41" class="d"/><rect x="51.56" y="442.52" width="10.27" height="6.41" class="r"/><rect x="61.78" y="442.52" width="10.27" height="6.41" class="h"/><rect x="72.01" y="442.52" width="10.27" height="6.41" class="d"/><rect x="82.23" y="442.52" width="5.16" height="6.41" class="k"/><rect x="87.34" y="442.52" width="5.16" height="6.41" class="d"/><rect x="92.46" y="442.52" width="5.16" height="6.41" class="r"/><rect x="97.57" y="442.52" width="5.16" height="6.41" class="h"/><rect x="102.68" y="442.52" width="5.16" height="6.41" class="g"/><rect x="107.79" y="442.52" width="15.39" height="6.41" class="d"/><rect x="123.13" y="442.52" width="5.16" height="6.41" class="h"/><rect x="128.24" y="442.52" width="5.16" height="6.41" class="d"/><rect x="133.35" y="442.52" width="5.16" height="6.41" class="h"/><rect x="138.46" y="442.52" width="20.50" height="6.41" class="g"/><rect x="158.91" y="442.52" width="5.16" height="6.41" class="k"/><rect x="164.02" y="442.52" width="15.39" height="6.41" class="g"/><rect x="179.36" y="442.52" width="5.16" height="6.41" class="h"/><rect x="184.47" y="442.52" width="5.16" height="6.41" class="d"/><rect x="189.58" y="442.52" width="5.16" height="6.41" class="h"/><rect x="194.70" y="442.52" width="5.16" height="6.41" class="g"/><rect x="199.81" y="442.52" width="5.16" height="6.41" class="d"/><rect x="204.92" y="442.52" width="10.27" height="6.41" class="g"/><rect x="215.14" y="442.52" width="5.16" height="6.41" class="d"/><rect x="220.26" y="442.52" width="10.27" height="6.41" class="r"/><rect x="230.48" y="442.52" width="10.27" height="6.41" class="R"/><rect x="240.70" y="442.52" width="20.50" height="6.41" class="d"/><rect x="261.15" y="442.52" width="10.27" height="6.41" class="g"/><rect x="271.38" y="442.52" width="5.16" height="6.41" class="h"/><rect x="276.49" y="442.52" width="10.27" height="6.41" class="g"/><rect x="286.71" y="442.52" width="5.16" height="6.41" class="h"/><rect x="291.82" y="442.52" width="40.95" height="6.41" class="g"/><rect x="332.72" y="442.52" width="5.16" height="6.41" class="h"/><rect x="337.83" y="442.52" width="5.16" height="6.41" class="g"/><rect x="342.94" y="442.52" width="5.16" height="6.41" class="h"/><rect x="348.06" y="442.52" width="5.16" height="6.41" class="R"/><rect x="353.17" y="442.52" width="5.16" height="6.41" class="g"/><rect x="358.28" y="442.52" width="10.27" height="6.41" class="d"/><rect x="368.50" y="442.52" width="10.27" height="6.41" class="h"/><rect x="378.73" y="442.52" width="5.16" height="6.41" class="r"/><rect x="383.84" y="442.52" width="10.27" height="6.41" class="k"/><rect x="394.06" y="442.52" width="5.16" height="6.41" class="g"/><rect x="399.18" y="442.52" width="5.16" height="6.41" class="r"/><rect x="404.29" y="442.52" width="5.16" height="6.41" class="d"/><rect x="409.40" y="442.52" width="5.16" height="6.41" class="g"/><rect x="414.51" y="442.52" width="10.27" height="6.41" class="k"/><rect x="424.74" y="442.52" width="5.16" height="6.41" class="g"/><rect x="429.85" y="442.52" width="5.16" height="6.41" class="d"/><rect x="434.96" y="442.52" width="5.16" height="6.41" class="g"/><rect x="440.07" y="442.52" width="5.16" height="6.41" class="h"/><rect x="445.18" y="442.52" width="10.27" height="6.41" class="d"/><rect x="455.41" y="442.52" width="5.16" height="6.41" class="k"/><rect x="460.52" y="442.52" width="5.16" height="6.41" class="h"/><rect x="465.63" y="442.52" width="5.16" height="6.41" class="G"/><rect x="470.74" y="442.52" width="5.16" height="6.41" class="g"/><rect x="475.86" y="442.52" width="5.16" height="6.41" class="r"/><rect x="480.97" y="442.52" width="5.16" height="6.41" class="k"/><rect x="486.08" y="442.52" width="10.27" height="6.41" class="h"/><rect x="496.30" y="442.52" width="20.50" height="6.41" class="G"/><rect x="516.75" y="442.52" width="20.50" height="6.41" class="r"/><rect x="537.20" y="442.52" width="5.16" height="6.41" class="d"/><rect x="542.31" y="442.52" width="10.27" height="6.41" class="r"/><rect x="552.54" y="442.52" width="5.16" height="6.41" class="R"/><rect x="557.65" y="442.52" width="10.27" height="6.41" class="r"/><rect x="567.87" y="442.52" width="5.16" height="6.41" class="d"/><rect x="26.00" y="448.88" width="5.16" height="6.41" class="R"/><rect x="31.11" y="448.88" width="5.16" height="6.41" class="g"/><rect x="36.22" y="448.88" width="5.16" height="6.41" class="r"/><rect x="41.34" y="448.88" width="5.16" height="6.41" class="g"/><rect x="46.45" y="448.88" width="5.16" height="6.41" class="k"/><rect x="51.56" y="448.88" width="10.27" height="6.41" class="R"/><rect x="61.78" y="448.88" width="5.16" height="6.41" class="g"/><rect x="66.90" y="448.88" width="10.27" height="6.41" class="r"/><rect x="77.12" y="448.88" width="5.16" height="6.41" class="h"/><rect x="82.23" y="448.88" width="5.16" height="6.41" class="r"/><rect x="87.34" y="448.88" width="5.16" height="6.41" class="g"/><rect x="92.46" y="448.88" width="10.27" height="6.41" class="r"/><rect x="102.68" y="448.88" width="5.16" height="6.41" class="d"/><rect x="107.79" y="448.88" width="5.16" height="6.41" class="g"/><rect x="112.90" y="448.88" width="5.16" height="6.41" class="d"/><rect x="118.02" y="448.88" width="5.16" height="6.41" class="r"/><rect x="123.13" y="448.88" width="5.16" height="6.41" class="d"/><rect x="128.24" y="448.88" width="5.16" height="6.41" class="h"/><rect x="133.35" y="448.88" width="10.27" height="6.41" class="g"/><rect x="143.58" y="448.88" width="5.16" height="6.41" class="h"/><rect x="148.69" y="448.88" width="30.72" height="6.41" class="g"/><rect x="179.36" y="448.88" width="5.16" height="6.41" class="h"/><rect x="184.47" y="448.88" width="5.16" height="6.41" class="k"/><rect x="189.58" y="448.88" width="5.16" height="6.41" class="g"/><rect x="194.70" y="448.88" width="5.16" height="6.41" class="h"/><rect x="199.81" y="448.88" width="10.27" height="6.41" class="d"/><rect x="210.03" y="448.88" width="5.16" height="6.41" class="g"/><rect x="215.14" y="448.88" width="5.16" height="6.41" class="d"/><rect x="220.26" y="448.88" width="5.16" height="6.41" class="R"/><rect x="225.37" y="448.88" width="5.16" height="6.41" class="k"/><rect x="230.48" y="448.88" width="5.16" height="6.41" class="h"/><rect x="235.59" y="448.88" width="5.16" height="6.41" class="d"/><rect x="240.70" y="448.88" width="5.16" height="6.41" class="k"/><rect x="245.82" y="448.88" width="5.16" height="6.41" class="h"/><rect x="250.93" y="448.88" width="5.16" height="6.41" class="r"/><rect x="256.04" y="448.88" width="5.16" height="6.41" class="d"/><rect x="261.15" y="448.88" width="5.16" height="6.41" class="h"/><rect x="266.26" y="448.88" width="5.16" height="6.41" class="g"/><rect x="271.38" y="448.88" width="10.27" height="6.41" class="h"/><rect x="281.60" y="448.88" width="10.27" height="6.41" class="g"/><rect x="291.82" y="448.88" width="5.16" height="6.41" class="h"/><rect x="296.94" y="448.88" width="5.16" height="6.41" class="g"/><rect x="302.05" y="448.88" width="5.16" height="6.41" class="d"/><rect x="307.16" y="448.88" width="5.16" height="6.41" class="k"/><rect x="312.27" y="448.88" width="5.16" height="6.41" class="d"/><rect x="317.38" y="448.88" width="5.16" height="6.41" class="r"/><rect x="322.50" y="448.88" width="5.16" height="6.41" class="d"/><rect x="327.61" y="448.88" width="5.16" height="6.41" class="h"/><rect x="332.72" y="448.88" width="15.39" height="6.41" class="g"/><rect x="348.06" y="448.88" width="10.27" height="6.41" class="h"/><rect x="358.28" y="448.88" width="5.16" height="6.41" class="g"/><rect x="363.39" y="448.88" width="10.27" height="6.41" class="d"/><rect x="373.62" y="448.88" width="5.16" height="6.41" class="h"/><rect x="378.73" y="448.88" width="5.16" height="6.41" class="k"/><rect x="383.84" y="448.88" width="5.16" height="6.41" class="g"/><rect x="388.95" y="448.88" width="5.16" height="6.41" class="r"/><rect x="394.06" y="448.88" width="10.27" height="6.41" class="d"/><rect x="404.29" y="448.88" width="10.27" height="6.41" class="h"/><rect x="414.51" y="448.88" width="5.16" height="6.41" class="k"/><rect x="419.62" y="448.88" width="5.16" height="6.41" class="h"/><rect x="424.74" y="448.88" width="5.16" height="6.41" class="g"/><rect x="429.85" y="448.88" width="5.16" height="6.41" class="h"/><rect x="434.96" y="448.88" width="5.16" height="6.41" class="g"/><rect x="440.07" y="448.88" width="5.16" height="6.41" class="d"/><rect x="445.18" y="448.88" width="5.16" height="6.41" class="g"/><rect x="450.30" y="448.88" width="5.16" height="6.41" class="h"/><rect x="455.41" y="448.88" width="5.16" height="6.41" class="r"/><rect x="460.52" y="448.88" width="15.39" height="6.41" class="g"/><rect x="475.86" y="448.88" width="5.16" height="6.41" class="h"/><rect x="480.97" y="448.88" width="5.16" height="6.41" class="k"/><rect x="486.08" y="448.88" width="5.16" height="6.41" class="g"/><rect x="491.19" y="448.88" width="5.16" height="6.41" class="d"/><rect x="496.30" y="448.88" width="5.16" height="6.41" class="h"/><rect x="501.42" y="448.88" width="5.16" height="6.41" class="r"/><rect x="506.53" y="448.88" width="5.16" height="6.41" class="d"/><rect x="511.64" y="448.88" width="5.16" height="6.41" class="k"/><rect x="516.75" y="448.88" width="5.16" height="6.41" class="h"/><rect x="521.86" y="448.88" width="5.16" height="6.41" class="g"/><rect x="526.98" y="448.88" width="20.50" height="6.41" class="d"/><rect x="547.42" y="448.88" width="5.16" height="6.41" class="r"/><rect x="552.54" y="448.88" width="10.27" height="6.41" class="d"/><rect x="562.76" y="448.88" width="10.27" height="6.41" class="r"/><rect x="26.00" y="455.24" width="10.27" height="6.41" class="r"/><rect x="36.22" y="455.24" width="5.16" height="6.41" class="G"/><rect x="41.34" y="455.24" width="5.16" height="6.41" class="d"/><rect x="46.45" y="455.24" width="5.16" height="6.41" class="R"/><rect x="51.56" y="455.24" width="5.16" height="6.41" class="k"/><rect x="56.67" y="455.24" width="20.50" height="6.41" class="g"/><rect x="77.12" y="455.24" width="5.16" height="6.41" class="h"/><rect x="82.23" y="455.24" width="5.16" height="6.41" class="G"/><rect x="87.34" y="455.24" width="5.16" height="6.41" class="d"/><rect x="92.46" y="455.24" width="5.16" height="6.41" class="h"/><rect x="97.57" y="455.24" width="5.16" height="6.41" class="d"/><rect x="102.68" y="455.24" width="5.16" height="6.41" class="r"/><rect x="107.79" y="455.24" width="5.16" height="6.41" class="d"/><rect x="112.90" y="455.24" width="5.16" height="6.41" class="k"/><rect x="118.02" y="455.24" width="5.16" height="6.41" class="G"/><rect x="123.13" y="455.24" width="5.16" height="6.41" class="d"/><rect x="128.24" y="455.24" width="5.16" height="6.41" class="G"/><rect x="133.35" y="455.24" width="5.16" height="6.41" class="g"/><rect x="138.46" y="455.24" width="5.16" height="6.41" class="G"/><rect x="143.58" y="455.24" width="10.27" height="6.41" class="h"/><rect x="153.80" y="455.24" width="10.27" height="6.41" class="d"/><rect x="164.02" y="455.24" width="5.16" height="6.41" class="r"/><rect x="169.14" y="455.24" width="10.27" height="6.41" class="G"/><rect x="179.36" y="455.24" width="5.16" height="6.41" class="d"/><rect x="184.47" y="455.24" width="5.16" height="6.41" class="h"/><rect x="189.58" y="455.24" width="5.16" height="6.41" class="g"/><rect x="194.70" y="455.24" width="10.27" height="6.41" class="G"/><rect x="204.92" y="455.24" width="5.16" height="6.41" class="d"/><rect x="210.03" y="455.24" width="10.27" height="6.41" class="h"/><rect x="220.26" y="455.24" width="5.16" height="6.41" class="G"/><rect x="225.37" y="455.24" width="5.16" height="6.41" class="r"/><rect x="230.48" y="455.24" width="5.16" height="6.41" class="k"/><rect x="235.59" y="455.24" width="5.16" height="6.41" class="G"/><rect x="240.70" y="455.24" width="5.16" height="6.41" class="g"/><rect x="245.82" y="455.24" width="5.16" height="6.41" class="d"/><rect x="250.93" y="455.24" width="5.16" height="6.41" class="r"/><rect x="256.04" y="455.24" width="10.27" height="6.41" class="h"/><rect x="266.26" y="455.24" width="10.27" height="6.41" class="d"/><rect x="276.49" y="455.24" width="5.16" height="6.41" class="k"/><rect x="281.60" y="455.24" width="5.16" height="6.41" class="r"/><rect x="286.71" y="455.24" width="5.16" height="6.41" class="k"/><rect x="291.82" y="455.24" width="5.16" height="6.41" class="r"/><rect x="296.94" y="455.24" width="10.27" height="6.41" class="d"/><rect x="307.16" y="455.24" width="5.16" height="6.41" class="k"/><rect x="312.27" y="455.24" width="5.16" height="6.41" class="g"/><rect x="317.38" y="455.24" width="5.16" height="6.41" class="G"/><rect x="322.50" y="455.24" width="5.16" height="6.41" class="h"/><rect x="327.61" y="455.24" width="5.16" height="6.41" class="d"/><rect x="332.72" y="455.24" width="5.16" height="6.41" class="h"/><rect x="337.83" y="455.24" width="10.27" height="6.41" class="d"/><rect x="348.06" y="455.24" width="5.16" height="6.41" class="k"/><rect x="353.17" y="455.24" width="5.16" height="6.41" class="h"/><rect x="358.28" y="455.24" width="5.16" height="6.41" class="g"/><rect x="363.39" y="455.24" width="5.16" height="6.41" class="h"/><rect x="368.50" y="455.24" width="5.16" height="6.41" class="d"/><rect x="373.62" y="455.24" width="5.16" height="6.41" class="G"/><rect x="378.73" y="455.24" width="5.16" height="6.41" class="h"/><rect x="383.84" y="455.24" width="5.16" height="6.41" class="k"/><rect x="388.95" y="455.24" width="5.16" height="6.41" class="g"/><rect x="394.06" y="455.24" width="5.16" height="6.41" class="h"/><rect x="399.18" y="455.24" width="5.16" height="6.41" class="G"/><rect x="404.29" y="455.24" width="5.16" height="6.41" class="h"/><rect x="409.40" y="455.24" width="5.16" height="6.41" class="G"/><rect x="414.51" y="455.24" width="5.16" height="6.41" class="h"/><rect x="419.62" y="455.24" width="5.16" height="6.41" class="k"/><rect x="424.74" y="455.24" width="5.16" height="6.41" class="h"/><rect x="429.85" y="455.24" width="5.16" height="6.41" class="k"/><rect x="434.96" y="455.24" width="5.16" height="6.41" class="h"/><rect x="440.07" y="455.24" width="10.27" height="6.41" class="d"/><rect x="450.30" y="455.24" width="5.16" height="6.41" class="g"/><rect x="455.41" y="455.24" width="5.16" height="6.41" class="k"/><rect x="460.52" y="455.24" width="5.16" height="6.41" class="h"/><rect x="465.63" y="455.24" width="5.16" height="6.41" class="d"/><rect x="470.74" y="455.24" width="5.16" height="6.41" class="R"/><rect x="475.86" y="455.24" width="5.16" height="6.41" class="d"/><rect x="480.97" y="455.24" width="20.50" height="6.41" class="r"/><rect x="501.42" y="455.24" width="5.16" height="6.41" class="d"/><rect x="506.53" y="455.24" width="15.39" height="6.41" class="r"/><rect x="521.86" y="455.24" width="5.16" height="6.41" class="d"/><rect x="526.98" y="455.24" width="10.27" height="6.41" class="k"/><rect x="537.20" y="455.24" width="10.27" height="6.41" class="d"/><rect x="547.42" y="455.24" width="10.27" height="6.41" class="r"/><rect x="557.65" y="455.24" width="5.16" height="6.41" class="d"/><rect x="562.76" y="455.24" width="5.16" height="6.41" class="k"/><rect x="567.87" y="455.24" width="5.16" height="6.41" class="r"/><rect x="26.00" y="461.60" width="15.39" height="6.41" class="d"/><rect x="41.34" y="461.60" width="5.16" height="6.41" class="k"/><rect x="46.45" y="461.60" width="20.50" height="6.41" class="r"/><rect x="66.90" y="461.60" width="5.16" height="6.41" class="h"/><rect x="72.01" y="461.60" width="5.16" height="6.41" class="d"/><rect x="77.12" y="461.60" width="20.50" height="6.41" class="k"/><rect x="97.57" y="461.60" width="5.16" height="6.41" class="d"/><rect x="102.68" y="461.60" width="5.16" height="6.41" class="g"/><rect x="107.79" y="461.60" width="15.39" height="6.41" class="d"/><rect x="123.13" y="461.60" width="5.16" height="6.41" class="h"/><rect x="128.24" y="461.60" width="5.16" height="6.41" class="d"/><rect x="133.35" y="461.60" width="10.27" height="6.41" class="h"/><rect x="143.58" y="461.60" width="20.50" height="6.41" class="k"/><rect x="164.02" y="461.60" width="5.16" height="6.41" class="h"/><rect x="169.14" y="461.60" width="5.16" height="6.41" class="g"/><rect x="174.25" y="461.60" width="5.16" height="6.41" class="h"/><rect x="179.36" y="461.60" width="5.16" height="6.41" class="g"/><rect x="184.47" y="461.60" width="5.16" height="6.41" class="k"/><rect x="189.58" y="461.60" width="10.27" height="6.41" class="h"/><rect x="199.81" y="461.60" width="5.16" height="6.41" class="R"/><rect x="204.92" y="461.60" width="5.16" height="6.41" class="k"/><rect x="210.03" y="461.60" width="5.16" height="6.41" class="h"/><rect x="215.14" y="461.60" width="5.16" height="6.41" class="d"/><rect x="220.26" y="461.60" width="5.16" height="6.41" class="R"/><rect x="225.37" y="461.60" width="10.27" height="6.41" class="h"/><rect x="235.59" y="461.60" width="5.16" height="6.41" class="d"/><rect x="240.70" y="461.60" width="5.16" height="6.41" class="h"/><rect x="245.82" y="461.60" width="10.27" height="6.41" class="d"/><rect x="256.04" y="461.60" width="5.16" height="6.41" class="g"/><rect x="261.15" y="461.60" width="5.16" height="6.41" class="k"/><rect x="266.26" y="461.60" width="15.39" height="6.41" class="G"/><rect x="281.60" y="461.60" width="5.16" height="6.41" class="h"/><rect x="286.71" y="461.60" width="5.16" height="6.41" class="k"/><rect x="291.82" y="461.60" width="5.16" height="6.41" class="g"/><rect x="296.94" y="461.60" width="5.16" height="6.41" class="G"/><rect x="302.05" y="461.60" width="5.16" height="6.41" class="g"/><rect x="307.16" y="461.60" width="5.16" height="6.41" class="h"/><rect x="312.27" y="461.60" width="5.16" height="6.41" class="g"/><rect x="317.38" y="461.60" width="10.27" height="6.41" class="h"/><rect x="327.61" y="461.60" width="5.16" height="6.41" class="G"/><rect x="332.72" y="461.60" width="20.50" height="6.41" class="h"/><rect x="353.17" y="461.60" width="5.16" height="6.41" class="G"/><rect x="358.28" y="461.60" width="5.16" height="6.41" class="r"/><rect x="363.39" y="461.60" width="15.39" height="6.41" class="d"/><rect x="378.73" y="461.60" width="5.16" height="6.41" class="k"/><rect x="383.84" y="461.60" width="5.16" height="6.41" class="g"/><rect x="388.95" y="461.60" width="5.16" height="6.41" class="h"/><rect x="394.06" y="461.60" width="5.16" height="6.41" class="g"/><rect x="399.18" y="461.60" width="5.16" height="6.41" class="r"/><rect x="404.29" y="461.60" width="15.39" height="6.41" class="d"/><rect x="419.62" y="461.60" width="5.16" height="6.41" class="k"/><rect x="424.74" y="461.60" width="5.16" height="6.41" class="h"/><rect x="429.85" y="461.60" width="10.27" height="6.41" class="k"/><rect x="440.07" y="461.60" width="5.16" height="6.41" class="g"/><rect x="445.18" y="461.60" width="10.27" height="6.41" class="d"/><rect x="455.41" y="461.60" width="10.27" height="6.41" class="k"/><rect x="465.63" y="461.60" width="10.27" height="6.41" class="g"/><rect x="475.86" y="461.60" width="5.16" height="6.41" class="r"/><rect x="480.97" y="461.60" width="5.16" height="6.41" class="k"/><rect x="486.08" y="461.60" width="10.27" height="6.41" class="d"/><rect x="496.30" y="461.60" width="20.50" height="6.41" class="G"/><rect x="516.75" y="461.60" width="10.27" height="6.41" class="r"/><rect x="526.98" y="461.60" width="5.16" height="6.41" class="R"/><rect x="532.09" y="461.60" width="25.61" height="6.41" class="r"/><rect x="557.65" y="461.60" width="5.16" height="6.41" class="d"/><rect x="562.76" y="461.60" width="10.27" height="6.41" class="r"/><rect x="26.00" y="467.96" width="5.16" height="6.41" class="r"/><rect x="31.11" y="467.96" width="5.16" height="6.41" class="d"/><rect x="36.22" y="467.96" width="5.16" height="6.41" class="k"/><rect x="41.34" y="467.96" width="5.16" height="6.41" class="d"/><rect x="46.45" y="467.96" width="10.27" height="6.41" class="r"/><rect x="56.67" y="467.96" width="5.16" height="6.41" class="d"/><rect x="61.78" y="467.96" width="10.27" height="6.41" class="h"/><rect x="72.01" y="467.96" width="5.16" height="6.41" class="d"/><rect x="77.12" y="467.96" width="5.16" height="6.41" class="r"/><rect x="82.23" y="467.96" width="10.27" height="6.41" class="d"/><rect x="92.46" y="467.96" width="5.16" height="6.41" class="r"/><rect x="97.57" y="467.96" width="15.39" height="6.41" class="h"/><rect x="112.90" y="467.96" width="5.16" height="6.41" class="k"/><rect x="118.02" y="467.96" width="5.16" height="6.41" class="R"/><rect x="123.13" y="467.96" width="5.16" height="6.41" class="k"/><rect x="128.24" y="467.96" width="5.16" height="6.41" class="d"/><rect x="133.35" y="467.96" width="5.16" height="6.41" class="h"/><rect x="138.46" y="467.96" width="10.27" height="6.41" class="g"/><rect x="148.69" y="467.96" width="10.27" height="6.41" class="G"/><rect x="158.91" y="467.96" width="10.27" height="6.41" class="h"/><rect x="169.14" y="467.96" width="10.27" height="6.41" class="G"/><rect x="179.36" y="467.96" width="5.16" height="6.41" class="d"/><rect x="184.47" y="467.96" width="15.39" height="6.41" class="h"/><rect x="199.81" y="467.96" width="5.16" height="6.41" class="d"/><rect x="204.92" y="467.96" width="15.39" height="6.41" class="h"/><rect x="220.26" y="467.96" width="5.16" height="6.41" class="d"/><rect x="225.37" y="467.96" width="10.27" height="6.41" class="r"/><rect x="235.59" y="467.96" width="5.16" height="6.41" class="d"/><rect x="240.70" y="467.96" width="5.16" height="6.41" class="h"/><rect x="245.82" y="467.96" width="10.27" height="6.41" class="d"/><rect x="256.04" y="467.96" width="5.16" height="6.41" class="R"/><rect x="261.15" y="467.96" width="5.16" height="6.41" class="h"/><rect x="266.26" y="467.96" width="5.16" height="6.41" class="G"/><rect x="271.38" y="467.96" width="5.16" height="6.41" class="h"/><rect x="276.49" y="467.96" width="5.16" height="6.41" class="G"/><rect x="281.60" y="467.96" width="5.16" height="6.41" class="k"/><rect x="286.71" y="467.96" width="5.16" height="6.41" class="g"/><rect x="291.82" y="467.96" width="5.16" height="6.41" class="G"/><rect x="296.94" y="467.96" width="5.16" height="6.41" class="k"/><rect x="302.05" y="467.96" width="15.39" height="6.41" class="G"/><rect x="317.38" y="467.96" width="10.27" height="6.41" class="h"/><rect x="327.61" y="467.96" width="5.16" height="6.41" class="G"/><rect x="332.72" y="467.96" width="5.16" height="6.41" class="g"/><rect x="337.83" y="467.96" width="5.16" height="6.41" class="k"/><rect x="342.94" y="467.96" width="10.27" height="6.41" class="d"/><rect x="353.17" y="467.96" width="5.16" height="6.41" class="G"/><rect x="358.28" y="467.96" width="5.16" height="6.41" class="k"/><rect x="363.39" y="467.96" width="5.16" height="6.41" class="g"/><rect x="368.50" y="467.96" width="5.16" height="6.41" class="h"/><rect x="373.62" y="467.96" width="5.16" height="6.41" class="d"/><rect x="378.73" y="467.96" width="5.16" height="6.41" class="R"/><rect x="383.84" y="467.96" width="5.16" height="6.41" class="g"/><rect x="388.95" y="467.96" width="10.27" height="6.41" class="d"/><rect x="399.18" y="467.96" width="5.16" height="6.41" class="h"/><rect x="404.29" y="467.96" width="5.16" height="6.41" class="g"/><rect x="409.40" y="467.96" width="5.16" height="6.41" class="k"/><rect x="414.51" y="467.96" width="5.16" height="6.41" class="r"/><rect x="419.62" y="467.96" width="5.16" height="6.41" class="k"/><rect x="424.74" y="467.96" width="5.16" height="6.41" class="G"/><rect x="429.85" y="467.96" width="5.16" height="6.41" class="h"/><rect x="434.96" y="467.96" width="10.27" height="6.41" class="k"/><rect x="445.18" y="467.96" width="5.16" height="6.41" class="g"/><rect x="450.30" y="467.96" width="5.16" height="6.41" class="d"/><rect x="455.41" y="467.96" width="5.16" height="6.41" class="r"/><rect x="460.52" y="467.96" width="10.27" height="6.41" class="k"/><rect x="470.74" y="467.96" width="5.16" height="6.41" class="d"/><rect x="475.86" y="467.96" width="5.16" height="6.41" class="r"/><rect x="480.97" y="467.96" width="5.16" height="6.41" class="g"/><rect x="486.08" y="467.96" width="5.16" height="6.41" class="k"/><rect x="491.19" y="467.96" width="5.16" height="6.41" class="d"/><rect x="496.30" y="467.96" width="5.16" height="6.41" class="g"/><rect x="501.42" y="467.96" width="10.27" height="6.41" class="h"/><rect x="511.64" y="467.96" width="5.16" height="6.41" class="G"/><rect x="516.75" y="467.96" width="5.16" height="6.41" class="R"/><rect x="521.86" y="467.96" width="5.16" height="6.41" class="d"/><rect x="526.98" y="467.96" width="5.16" height="6.41" class="r"/><rect x="532.09" y="467.96" width="5.16" height="6.41" class="k"/><rect x="537.20" y="467.96" width="5.16" height="6.41" class="R"/><rect x="542.31" y="467.96" width="5.16" height="6.41" class="d"/><rect x="547.42" y="467.96" width="5.16" height="6.41" class="r"/><rect x="552.54" y="467.96" width="5.16" height="6.41" class="d"/><rect x="557.65" y="467.96" width="10.27" height="6.41" class="r"/><rect x="567.87" y="467.96" width="5.16" height="6.41" class="d"/><rect x="26.00" y="474.32" width="5.16" height="6.41" class="r"/><rect x="31.11" y="474.32" width="5.16" height="6.41" class="R"/><rect x="36.22" y="474.32" width="10.27" height="6.41" class="d"/><rect x="46.45" y="474.32" width="5.16" height="6.41" class="R"/><rect x="51.56" y="474.32" width="5.16" height="6.41" class="d"/><rect x="56.67" y="474.32" width="5.16" height="6.41" class="r"/><rect x="61.78" y="474.32" width="10.27" height="6.41" class="h"/><rect x="72.01" y="474.32" width="5.16" height="6.41" class="k"/><rect x="77.12" y="474.32" width="5.16" height="6.41" class="h"/><rect x="82.23" y="474.32" width="5.16" height="6.41" class="G"/><rect x="87.34" y="474.32" width="15.39" height="6.41" class="d"/><rect x="102.68" y="474.32" width="5.16" height="6.41" class="G"/><rect x="107.79" y="474.32" width="5.16" height="6.41" class="k"/><rect x="112.90" y="474.32" width="5.16" height="6.41" class="h"/><rect x="118.02" y="474.32" width="5.16" height="6.41" class="d"/><rect x="123.13" y="474.32" width="5.16" height="6.41" class="r"/><rect x="128.24" y="474.32" width="5.16" height="6.41" class="d"/><rect x="133.35" y="474.32" width="5.16" height="6.41" class="h"/><rect x="138.46" y="474.32" width="10.27" height="6.41" class="d"/><rect x="148.69" y="474.32" width="5.16" height="6.41" class="g"/><rect x="153.80" y="474.32" width="5.16" height="6.41" class="h"/><rect x="158.91" y="474.32" width="5.16" height="6.41" class="k"/><rect x="164.02" y="474.32" width="5.16" height="6.41" class="r"/><rect x="169.14" y="474.32" width="5.16" height="6.41" class="g"/><rect x="174.25" y="474.32" width="5.16" height="6.41" class="h"/><rect x="179.36" y="474.32" width="10.27" height="6.41" class="d"/><rect x="189.58" y="474.32" width="10.27" height="6.41" class="h"/><rect x="199.81" y="474.32" width="5.16" height="6.41" class="d"/><rect x="204.92" y="474.32" width="10.27" height="6.41" class="h"/><rect x="215.14" y="474.32" width="10.27" height="6.41" class="k"/><rect x="225.37" y="474.32" width="5.16" height="6.41" class="h"/><rect x="230.48" y="474.32" width="10.27" height="6.41" class="d"/><rect x="240.70" y="474.32" width="5.16" height="6.41" class="k"/><rect x="245.82" y="474.32" width="5.16" height="6.41" class="r"/><rect x="250.93" y="474.32" width="5.16" height="6.41" class="d"/><rect x="256.04" y="474.32" width="5.16" height="6.41" class="k"/><rect x="261.15" y="474.32" width="10.27" height="6.41" class="g"/><rect x="271.38" y="474.32" width="5.16" height="6.41" class="d"/><rect x="276.49" y="474.32" width="5.16" height="6.41" class="G"/><rect x="281.60" y="474.32" width="5.16" height="6.41" class="k"/><rect x="286.71" y="474.32" width="5.16" height="6.41" class="h"/><rect x="291.82" y="474.32" width="5.16" height="6.41" class="g"/><rect x="296.94" y="474.32" width="5.16" height="6.41" class="G"/><rect x="302.05" y="474.32" width="20.50" height="6.41" class="g"/><rect x="322.50" y="474.32" width="5.16" height="6.41" class="h"/><rect x="327.61" y="474.32" width="5.16" height="6.41" class="G"/><rect x="332.72" y="474.32" width="5.16" height="6.41" class="h"/><rect x="337.83" y="474.32" width="5.16" height="6.41" class="G"/><rect x="342.94" y="474.32" width="5.16" height="6.41" class="h"/><rect x="348.06" y="474.32" width="5.16" height="6.41" class="r"/><rect x="353.17" y="474.32" width="5.16" height="6.41" class="G"/><rect x="358.28" y="474.32" width="5.16" height="6.41" class="h"/><rect x="363.39" y="474.32" width="5.16" height="6.41" class="g"/><rect x="368.50" y="474.32" width="5.16" height="6.41" class="k"/><rect x="373.62" y="474.32" width="10.27" height="6.41" class="h"/><rect x="383.84" y="474.32" width="5.16" height="6.41" class="G"/><rect x="388.95" y="474.32" width="5.16" height="6.41" class="d"/><rect x="394.06" y="474.32" width="5.16" height="6.41" class="k"/><rect x="399.18" y="474.32" width="5.16" height="6.41" class="R"/><rect x="404.29" y="474.32" width="20.50" height="6.41" class="d"/><rect x="424.74" y="474.32" width="5.16" height="6.41" class="h"/><rect x="429.85" y="474.32" width="5.16" height="6.41" class="k"/><rect x="434.96" y="474.32" width="15.39" height="6.41" class="d"/><rect x="450.30" y="474.32" width="15.39" height="6.41" class="k"/><rect x="465.63" y="474.32" width="5.16" height="6.41" class="G"/><rect x="470.74" y="474.32" width="5.16" height="6.41" class="g"/><rect x="475.86" y="474.32" width="5.16" height="6.41" class="h"/><rect x="480.97" y="474.32" width="15.39" height="6.41" class="d"/><rect x="496.30" y="474.32" width="10.27" height="6.41" class="g"/><rect x="506.53" y="474.32" width="5.16" height="6.41" class="h"/><rect x="511.64" y="474.32" width="5.16" height="6.41" class="G"/><rect x="516.75" y="474.32" width="10.27" height="6.41" class="r"/><rect x="526.98" y="474.32" width="5.16" height="6.41" class="d"/><rect x="532.09" y="474.32" width="5.16" height="6.41" class="r"/><rect x="537.20" y="474.32" width="10.27" height="6.41" class="d"/><rect x="547.42" y="474.32" width="5.16" height="6.41" class="r"/><rect x="552.54" y="474.32" width="5.16" height="6.41" class="R"/><rect x="557.65" y="474.32" width="15.39" height="6.41" class="r"/><rect x="26.00" y="480.68" width="5.16" height="6.41" class="d"/><rect x="31.11" y="480.68" width="5.16" height="6.41" class="G"/><rect x="36.22" y="480.68" width="10.27" height="6.41" class="d"/><rect x="46.45" y="480.68" width="5.16" height="6.41" class="k"/><rect x="51.56" y="480.68" width="10.27" height="6.41" class="g"/><rect x="61.78" y="480.68" width="5.16" height="6.41" class="d"/><rect x="66.90" y="480.68" width="10.27" height="6.41" class="r"/><rect x="77.12" y="480.68" width="5.16" height="6.41" class="G"/><rect x="82.23" y="480.68" width="10.27" height="6.41" class="h"/><rect x="92.46" y="480.68" width="10.27" height="6.41" class="d"/><rect x="102.68" y="480.68" width="5.16" height="6.41" class="r"/><rect x="107.79" y="480.68" width="5.16" height="6.41" class="g"/><rect x="112.90" y="480.68" width="5.16" height="6.41" class="d"/><rect x="118.02" y="480.68" width="5.16" height="6.41" class="R"/><rect x="123.13" y="480.68" width="5.16" height="6.41" class="r"/><rect x="128.24" y="480.68" width="10.27" height="6.41" class="k"/><rect x="138.46" y="480.68" width="10.27" height="6.41" class="h"/><rect x="148.69" y="480.68" width="5.16" height="6.41" class="g"/><rect x="153.80" y="480.68" width="10.27" height="6.41" class="r"/><rect x="164.02" y="480.68" width="5.16" height="6.41" class="g"/><rect x="169.14" y="480.68" width="5.16" height="6.41" class="G"/><rect x="174.25" y="480.68" width="10.27" height="6.41" class="k"/><rect x="184.47" y="480.68" width="5.16" height="6.41" class="g"/><rect x="189.58" y="480.68" width="10.27" height="6.41" class="d"/><rect x="199.81" y="480.68" width="5.16" height="6.41" class="h"/><rect x="204.92" y="480.68" width="5.16" height="6.41" class="d"/><rect x="210.03" y="480.68" width="5.16" height="6.41" class="k"/><rect x="215.14" y="480.68" width="5.16" height="6.41" class="R"/><rect x="220.26" y="480.68" width="5.16" height="6.41" class="d"/><rect x="225.37" y="480.68" width="5.16" height="6.41" class="h"/><rect x="230.48" y="480.68" width="5.16" height="6.41" class="k"/><rect x="235.59" y="480.68" width="10.27" height="6.41" class="d"/><rect x="245.82" y="480.68" width="5.16" height="6.41" class="k"/><rect x="250.93" y="480.68" width="5.16" height="6.41" class="h"/><rect x="256.04" y="480.68" width="5.16" height="6.41" class="d"/><rect x="261.15" y="480.68" width="25.61" height="6.41" class="h"/><rect x="286.71" y="480.68" width="5.16" height="6.41" class="G"/><rect x="291.82" y="480.68" width="10.27" height="6.41" class="g"/><rect x="302.05" y="480.68" width="5.16" height="6.41" class="k"/><rect x="307.16" y="480.68" width="5.16" height="6.41" class="G"/><rect x="312.27" y="480.68" width="5.16" height="6.41" class="k"/><rect x="317.38" y="480.68" width="5.16" height="6.41" class="r"/><rect x="322.50" y="480.68" width="5.16" height="6.41" class="d"/><rect x="327.61" y="480.68" width="5.16" height="6.41" class="g"/><rect x="332.72" y="480.68" width="5.16" height="6.41" class="G"/><rect x="337.83" y="480.68" width="5.16" height="6.41" class="k"/><rect x="342.94" y="480.68" width="5.16" height="6.41" class="g"/><rect x="348.06" y="480.68" width="5.16" height="6.41" class="R"/><rect x="353.17" y="480.68" width="5.16" height="6.41" class="k"/><rect x="358.28" y="480.68" width="5.16" height="6.41" class="g"/><rect x="363.39" y="480.68" width="5.16" height="6.41" class="h"/><rect x="368.50" y="480.68" width="5.16" height="6.41" class="d"/><rect x="373.62" y="480.68" width="5.16" height="6.41" class="g"/><rect x="378.73" y="480.68" width="5.16" height="6.41" class="d"/><rect x="383.84" y="480.68" width="10.27" height="6.41" class="h"/><rect x="394.06" y="480.68" width="5.16" height="6.41" class="r"/><rect x="399.18" y="480.68" width="15.39" height="6.41" class="h"/><rect x="414.51" y="480.68" width="5.16" height="6.41" class="d"/><rect x="419.62" y="480.68" width="5.16" height="6.41" class="r"/><rect x="424.74" y="480.68" width="5.16" height="6.41" class="G"/><rect x="429.85" y="480.68" width="5.16" height="6.41" class="h"/><rect x="434.96" y="480.68" width="5.16" height="6.41" class="G"/><rect x="440.07" y="480.68" width="5.16" height="6.41" class="k"/><rect x="445.18" y="480.68" width="5.16" height="6.41" class="G"/><rect x="450.30" y="480.68" width="10.27" height="6.41" class="d"/><rect x="460.52" y="480.68" width="5.16" height="6.41" class="G"/><rect x="465.63" y="480.68" width="5.16" height="6.41" class="d"/><rect x="470.74" y="480.68" width="5.16" height="6.41" class="G"/><rect x="475.86" y="480.68" width="5.16" height="6.41" class="r"/><rect x="480.97" y="480.68" width="5.16" height="6.41" class="G"/><rect x="486.08" y="480.68" width="5.16" height="6.41" class="h"/><rect x="491.19" y="480.68" width="5.16" height="6.41" class="d"/><rect x="496.30" y="480.68" width="5.16" height="6.41" class="r"/><rect x="501.42" y="480.68" width="10.27" height="6.41" class="d"/><rect x="511.64" y="480.68" width="5.16" height="6.41" class="k"/><rect x="516.75" y="480.68" width="5.16" height="6.41" class="R"/><rect x="521.86" y="480.68" width="10.27" height="6.41" class="k"/><rect x="532.09" y="480.68" width="15.39" height="6.41" class="d"/><rect x="547.42" y="480.68" width="5.16" height="6.41" class="k"/><rect x="552.54" y="480.68" width="5.16" height="6.41" class="d"/><rect x="557.65" y="480.68" width="5.16" height="6.41" class="g"/><rect x="562.76" y="480.68" width="10.27" height="6.41" class="r"/><rect x="26.00" y="487.04" width="5.16" height="6.41" class="r"/><rect x="31.11" y="487.04" width="10.27" height="6.41" class="d"/><rect x="41.34" y="487.04" width="5.16" height="6.41" class="h"/><rect x="46.45" y="487.04" width="5.16" height="6.41" class="d"/><rect x="51.56" y="487.04" width="5.16" height="6.41" class="r"/><rect x="56.67" y="487.04" width="5.16" height="6.41" class="d"/><rect x="61.78" y="487.04" width="5.16" height="6.41" class="r"/><rect x="66.90" y="487.04" width="5.16" height="6.41" class="d"/><rect x="72.01" y="487.04" width="5.16" height="6.41" class="r"/><rect x="77.12" y="487.04" width="5.16" height="6.41" class="d"/><rect x="82.23" y="487.04" width="5.16" height="6.41" class="k"/><rect x="87.34" y="487.04" width="5.16" height="6.41" class="d"/><rect x="92.46" y="487.04" width="5.16" height="6.41" class="r"/><rect x="97.57" y="487.04" width="5.16" height="6.41" class="d"/><rect x="102.68" y="487.04" width="10.27" height="6.41" class="h"/><rect x="112.90" y="487.04" width="5.16" height="6.41" class="k"/><rect x="118.02" y="487.04" width="5.16" height="6.41" class="d"/><rect x="123.13" y="487.04" width="5.16" height="6.41" class="h"/><rect x="128.24" y="487.04" width="5.16" height="6.41" class="k"/><rect x="133.35" y="487.04" width="5.16" height="6.41" class="h"/><rect x="138.46" y="487.04" width="5.16" height="6.41" class="g"/><rect x="143.58" y="487.04" width="5.16" height="6.41" class="d"/><rect x="148.69" y="487.04" width="5.16" height="6.41" class="h"/><rect x="153.80" y="487.04" width="5.16" height="6.41" class="G"/><rect x="158.91" y="487.04" width="5.16" height="6.41" class="d"/><rect x="164.02" y="487.04" width="5.16" height="6.41" class="h"/><rect x="169.14" y="487.04" width="10.27" height="6.41" class="G"/><rect x="179.36" y="487.04" width="15.39" height="6.41" class="h"/><rect x="194.70" y="487.04" width="5.16" height="6.41" class="G"/><rect x="199.81" y="487.04" width="10.27" height="6.41" class="h"/><rect x="210.03" y="487.04" width="5.16" height="6.41" class="g"/><rect x="215.14" y="487.04" width="5.16" height="6.41" class="h"/><rect x="220.26" y="487.04" width="5.16" height="6.41" class="d"/><rect x="225.37" y="487.04" width="5.16" height="6.41" class="h"/><rect x="230.48" y="487.04" width="10.27" height="6.41" class="d"/><rect x="240.70" y="487.04" width="5.16" height="6.41" class="G"/><rect x="245.82" y="487.04" width="5.16" height="6.41" class="r"/><rect x="250.93" y="487.04" width="5.16" height="6.41" class="d"/><rect x="256.04" y="487.04" width="5.16" height="6.41" class="R"/><rect x="261.15" y="487.04" width="5.16" height="6.41" class="k"/><rect x="266.26" y="487.04" width="5.16" height="6.41" class="G"/><rect x="271.38" y="487.04" width="5.16" height="6.41" class="h"/><rect x="276.49" y="487.04" width="10.27" height="6.41" class="G"/><rect x="286.71" y="487.04" width="5.16" height="6.41" class="g"/><rect x="291.82" y="487.04" width="5.16" height="6.41" class="G"/><rect x="296.94" y="487.04" width="5.16" height="6.41" class="g"/><rect x="302.05" y="487.04" width="5.16" height="6.41" class="G"/><rect x="307.16" y="487.04" width="5.16" height="6.41" class="h"/><rect x="312.27" y="487.04" width="5.16" height="6.41" class="g"/><rect x="317.38" y="487.04" width="5.16" height="6.41" class="h"/><rect x="322.50" y="487.04" width="5.16" height="6.41" class="g"/><rect x="327.61" y="487.04" width="5.16" height="6.41" class="G"/><rect x="332.72" y="487.04" width="5.16" height="6.41" class="h"/><rect x="337.83" y="487.04" width="10.27" height="6.41" class="d"/><rect x="348.06" y="487.04" width="5.16" height="6.41" class="k"/><rect x="353.17" y="487.04" width="5.16" height="6.41" class="G"/><rect x="358.28" y="487.04" width="5.16" height="6.41" class="r"/><rect x="363.39" y="487.04" width="10.27" height="6.41" class="k"/><rect x="373.62" y="487.04" width="5.16" height="6.41" class="d"/><rect x="378.73" y="487.04" width="5.16" height="6.41" class="R"/><rect x="383.84" y="487.04" width="10.27" height="6.41" class="d"/><rect x="394.06" y="487.04" width="5.16" height="6.41" class="h"/><rect x="399.18" y="487.04" width="5.16" height="6.41" class="d"/><rect x="404.29" y="487.04" width="5.16" height="6.41" class="k"/><rect x="409.40" y="487.04" width="10.27" height="6.41" class="r"/><rect x="419.62" y="487.04" width="5.16" height="6.41" class="k"/><rect x="424.74" y="487.04" width="5.16" height="6.41" class="g"/><rect x="429.85" y="487.04" width="20.50" height="6.41" class="h"/><rect x="450.30" y="487.04" width="5.16" height="6.41" class="k"/><rect x="455.41" y="487.04" width="5.16" height="6.41" class="h"/><rect x="460.52" y="487.04" width="5.16" height="6.41" class="k"/><rect x="465.63" y="487.04" width="5.16" height="6.41" class="g"/><rect x="470.74" y="487.04" width="5.16" height="6.41" class="d"/><rect x="475.86" y="487.04" width="5.16" height="6.41" class="R"/><rect x="480.97" y="487.04" width="5.16" height="6.41" class="h"/><rect x="486.08" y="487.04" width="5.16" height="6.41" class="k"/><rect x="491.19" y="487.04" width="5.16" height="6.41" class="d"/><rect x="496.30" y="487.04" width="15.39" height="6.41" class="h"/><rect x="511.64" y="487.04" width="5.16" height="6.41" class="g"/><rect x="516.75" y="487.04" width="15.39" height="6.41" class="r"/><rect x="532.09" y="487.04" width="10.27" height="6.41" class="d"/><rect x="542.31" y="487.04" width="10.27" height="6.41" class="r"/><rect x="552.54" y="487.04" width="5.16" height="6.41" class="d"/><rect x="557.65" y="487.04" width="5.16" height="6.41" class="r"/><rect x="562.76" y="487.04" width="10.27" height="6.41" class="d"/><rect x="26.00" y="493.40" width="5.16" height="6.41" class="r"/><rect x="31.11" y="493.40" width="5.16" height="6.41" class="h"/><rect x="36.22" y="493.40" width="5.16" height="6.41" class="d"/><rect x="41.34" y="493.40" width="5.16" height="6.41" class="k"/><rect x="46.45" y="493.40" width="5.16" height="6.41" class="d"/><rect x="51.56" y="493.40" width="5.16" height="6.41" class="g"/><rect x="56.67" y="493.40" width="5.16" height="6.41" class="d"/><rect x="61.78" y="493.40" width="5.16" height="6.41" class="k"/><rect x="66.90" y="493.40" width="10.27" height="6.41" class="r"/><rect x="77.12" y="493.40" width="5.16" height="6.41" class="h"/><rect x="82.23" y="493.40" width="10.27" height="6.41" class="d"/><rect x="92.46" y="493.40" width="5.16" height="6.41" class="k"/><rect x="97.57" y="493.40" width="5.16" height="6.41" class="g"/><rect x="102.68" y="493.40" width="5.16" height="6.41" class="h"/><rect x="107.79" y="493.40" width="5.16" height="6.41" class="g"/><rect x="112.90" y="493.40" width="15.39" height="6.41" class="h"/><rect x="128.24" y="493.40" width="5.16" height="6.41" class="R"/><rect x="133.35" y="493.40" width="5.16" height="6.41" class="g"/><rect x="138.46" y="493.40" width="5.16" height="6.41" class="h"/><rect x="143.58" y="493.40" width="10.27" height="6.41" class="g"/><rect x="153.80" y="493.40" width="5.16" height="6.41" class="h"/><rect x="158.91" y="493.40" width="5.16" height="6.41" class="k"/><rect x="164.02" y="493.40" width="5.16" height="6.41" class="h"/><rect x="169.14" y="493.40" width="5.16" height="6.41" class="g"/><rect x="174.25" y="493.40" width="5.16" height="6.41" class="d"/><rect x="179.36" y="493.40" width="5.16" height="6.41" class="h"/><rect x="184.47" y="493.40" width="5.16" height="6.41" class="G"/><rect x="189.58" y="493.40" width="5.16" height="6.41" class="k"/><rect x="194.70" y="493.40" width="5.16" height="6.41" class="G"/><rect x="199.81" y="493.40" width="5.16" height="6.41" class="d"/><rect x="204.92" y="493.40" width="5.16" height="6.41" class="k"/><rect x="210.03" y="493.40" width="5.16" height="6.41" class="g"/><rect x="215.14" y="493.40" width="5.16" height="6.41" class="r"/><rect x="220.26" y="493.40" width="5.16" height="6.41" class="d"/><rect x="225.37" y="493.40" width="5.16" height="6.41" class="g"/><rect x="230.48" y="493.40" width="15.39" height="6.41" class="h"/><rect x="245.82" y="493.40" width="5.16" height="6.41" class="r"/><rect x="250.93" y="493.40" width="10.27" height="6.41" class="d"/><rect x="261.15" y="493.40" width="5.16" height="6.41" class="h"/><rect x="266.26" y="493.40" width="5.16" height="6.41" class="d"/><rect x="271.38" y="493.40" width="5.16" height="6.41" class="g"/><rect x="276.49" y="493.40" width="5.16" height="6.41" class="G"/><rect x="281.60" y="493.40" width="5.16" height="6.41" class="g"/><rect x="286.71" y="493.40" width="10.27" height="6.41" class="G"/><rect x="296.94" y="493.40" width="5.16" height="6.41" class="g"/><rect x="302.05" y="493.40" width="5.16" height="6.41" class="d"/><rect x="307.16" y="493.40" width="5.16" height="6.41" class="r"/><rect x="312.27" y="493.40" width="10.27" height="6.41" class="d"/><rect x="322.50" y="493.40" width="5.16" height="6.41" class="k"/><rect x="327.61" y="493.40" width="5.16" height="6.41" class="d"/><rect x="332.72" y="493.40" width="5.16" height="6.41" class="k"/><rect x="337.83" y="493.40" width="5.16" height="6.41" class="d"/><rect x="342.94" y="493.40" width="5.16" height="6.41" class="g"/><rect x="348.06" y="493.40" width="5.16" height="6.41" class="h"/><rect x="353.17" y="493.40" width="5.16" height="6.41" class="d"/><rect x="358.28" y="493.40" width="5.16" height="6.41" class="g"/><rect x="363.39" y="493.40" width="5.16" height="6.41" class="d"/><rect x="368.50" y="493.40" width="5.16" height="6.41" class="k"/><rect x="373.62" y="493.40" width="5.16" height="6.41" class="G"/><rect x="378.73" y="493.40" width="5.16" height="6.41" class="d"/><rect x="383.84" y="493.40" width="10.27" height="6.41" class="k"/><rect x="394.06" y="493.40" width="10.27" height="6.41" class="h"/><rect x="404.29" y="493.40" width="5.16" height="6.41" class="G"/><rect x="409.40" y="493.40" width="10.27" height="6.41" class="d"/><rect x="419.62" y="493.40" width="5.16" height="6.41" class="g"/><rect x="424.74" y="493.40" width="10.27" height="6.41" class="r"/><rect x="434.96" y="493.40" width="5.16" height="6.41" class="k"/><rect x="440.07" y="493.40" width="5.16" height="6.41" class="d"/><rect x="445.18" y="493.40" width="5.16" height="6.41" class="G"/><rect x="450.30" y="493.40" width="10.27" height="6.41" class="h"/><rect x="460.52" y="493.40" width="5.16" height="6.41" class="R"/><rect x="465.63" y="493.40" width="5.16" height="6.41" class="G"/><rect x="470.74" y="493.40" width="5.16" height="6.41" class="g"/><rect x="475.86" y="493.40" width="5.16" height="6.41" class="R"/><rect x="480.97" y="493.40" width="5.16" height="6.41" class="h"/><rect x="486.08" y="493.40" width="5.16" height="6.41" class="d"/><rect x="491.19" y="493.40" width="5.16" height="6.41" class="r"/><rect x="496.30" y="493.40" width="5.16" height="6.41" class="d"/><rect x="501.42" y="493.40" width="5.16" height="6.41" class="r"/><rect x="506.53" y="493.40" width="5.16" height="6.41" class="h"/><rect x="511.64" y="493.40" width="5.16" height="6.41" class="g"/><rect x="516.75" y="493.40" width="10.27" height="6.41" class="r"/><rect x="526.98" y="493.40" width="5.16" height="6.41" class="d"/><rect x="532.09" y="493.40" width="15.39" height="6.41" class="r"/><rect x="547.42" y="493.40" width="5.16" height="6.41" class="h"/><rect x="552.54" y="493.40" width="10.27" height="6.41" class="r"/><rect x="562.76" y="493.40" width="5.16" height="6.41" class="d"/><rect x="567.87" y="493.40" width="5.16" height="6.41" class="r"/><rect x="26.00" y="499.76" width="5.16" height="6.41" class="h"/><rect x="31.11" y="499.76" width="5.16" height="6.41" class="g"/><rect x="36.22" y="499.76" width="5.16" height="6.41" class="k"/><rect x="41.34" y="499.76" width="5.16" height="6.41" class="h"/><rect x="46.45" y="499.76" width="5.16" height="6.41" class="k"/><rect x="51.56" y="499.76" width="5.16" height="6.41" class="d"/><rect x="56.67" y="499.76" width="5.16" height="6.41" class="r"/><rect x="61.78" y="499.76" width="5.16" height="6.41" class="d"/><rect x="66.90" y="499.76" width="5.16" height="6.41" class="h"/><rect x="72.01" y="499.76" width="5.16" height="6.41" class="d"/><rect x="77.12" y="499.76" width="5.16" height="6.41" class="G"/><rect x="82.23" y="499.76" width="5.16" height="6.41" class="d"/><rect x="87.34" y="499.76" width="5.16" height="6.41" class="h"/><rect x="92.46" y="499.76" width="5.16" height="6.41" class="d"/><rect x="97.57" y="499.76" width="5.16" height="6.41" class="r"/><rect x="102.68" y="499.76" width="10.27" height="6.41" class="g"/><rect x="112.90" y="499.76" width="10.27" height="6.41" class="d"/><rect x="123.13" y="499.76" width="5.16" height="6.41" class="r"/><rect x="128.24" y="499.76" width="5.16" height="6.41" class="d"/><rect x="133.35" y="499.76" width="5.16" height="6.41" class="h"/><rect x="138.46" y="499.76" width="5.16" height="6.41" class="r"/><rect x="143.58" y="499.76" width="5.16" height="6.41" class="d"/><rect x="148.69" y="499.76" width="5.16" height="6.41" class="g"/><rect x="153.80" y="499.76" width="5.16" height="6.41" class="h"/><rect x="158.91" y="499.76" width="5.16" height="6.41" class="k"/><rect x="164.02" y="499.76" width="20.50" height="6.41" class="g"/><rect x="184.47" y="499.76" width="5.16" height="6.41" class="d"/><rect x="189.58" y="499.76" width="5.16" height="6.41" class="h"/><rect x="194.70" y="499.76" width="5.16" height="6.41" class="g"/><rect x="199.81" y="499.76" width="5.16" height="6.41" class="R"/><rect x="204.92" y="499.76" width="10.27" height="6.41" class="h"/><rect x="215.14" y="499.76" width="5.16" height="6.41" class="g"/><rect x="220.26" y="499.76" width="5.16" height="6.41" class="h"/><rect x="225.37" y="499.76" width="5.16" height="6.41" class="g"/><rect x="230.48" y="499.76" width="5.16" height="6.41" class="d"/><rect x="235.59" y="499.76" width="5.16" height="6.41" class="k"/><rect x="240.70" y="499.76" width="5.16" height="6.41" class="d"/><rect x="245.82" y="499.76" width="5.16" height="6.41" class="r"/><rect x="250.93" y="499.76" width="20.50" height="6.41" class="h"/><rect x="271.38" y="499.76" width="5.16" height="6.41" class="k"/><rect x="276.49" y="499.76" width="5.16" height="6.41" class="g"/><rect x="281.60" y="499.76" width="5.16" height="6.41" class="h"/><rect x="286.71" y="499.76" width="15.39" height="6.41" class="g"/><rect x="302.05" y="499.76" width="5.16" height="6.41" class="h"/><rect x="307.16" y="499.76" width="5.16" height="6.41" class="G"/><rect x="312.27" y="499.76" width="5.16" height="6.41" class="g"/><rect x="317.38" y="499.76" width="5.16" height="6.41" class="r"/><rect x="322.50" y="499.76" width="5.16" height="6.41" class="d"/><rect x="327.61" y="499.76" width="10.27" height="6.41" class="h"/><rect x="337.83" y="499.76" width="10.27" height="6.41" class="g"/><rect x="348.06" y="499.76" width="5.16" height="6.41" class="d"/><rect x="353.17" y="499.76" width="5.16" height="6.41" class="g"/><rect x="358.28" y="499.76" width="5.16" height="6.41" class="k"/><rect x="363.39" y="499.76" width="5.16" height="6.41" class="h"/><rect x="368.50" y="499.76" width="5.16" height="6.41" class="R"/><rect x="373.62" y="499.76" width="5.16" height="6.41" class="r"/><rect x="378.73" y="499.76" width="10.27" height="6.41" class="g"/><rect x="388.95" y="499.76" width="5.16" height="6.41" class="h"/><rect x="394.06" y="499.76" width="5.16" height="6.41" class="r"/><rect x="399.18" y="499.76" width="5.16" height="6.41" class="d"/><rect x="404.29" y="499.76" width="5.16" height="6.41" class="G"/><rect x="409.40" y="499.76" width="15.39" height="6.41" class="r"/><rect x="424.74" y="499.76" width="5.16" height="6.41" class="d"/><rect x="429.85" y="499.76" width="5.16" height="6.41" class="r"/><rect x="434.96" y="499.76" width="10.27" height="6.41" class="h"/><rect x="445.18" y="499.76" width="5.16" height="6.41" class="r"/><rect x="450.30" y="499.76" width="5.16" height="6.41" class="h"/><rect x="455.41" y="499.76" width="5.16" height="6.41" class="g"/><rect x="460.52" y="499.76" width="15.39" height="6.41" class="k"/><rect x="475.86" y="499.76" width="5.16" height="6.41" class="d"/><rect x="480.97" y="499.76" width="5.16" height="6.41" class="h"/><rect x="486.08" y="499.76" width="10.27" height="6.41" class="r"/><rect x="496.30" y="499.76" width="20.50" height="6.41" class="g"/><rect x="516.75" y="499.76" width="10.27" height="6.41" class="r"/><rect x="526.98" y="499.76" width="5.16" height="6.41" class="k"/><rect x="532.09" y="499.76" width="15.39" height="6.41" class="r"/><rect x="547.42" y="499.76" width="5.16" height="6.41" class="d"/><rect x="552.54" y="499.76" width="10.27" height="6.41" class="r"/><rect x="562.76" y="499.76" width="5.16" height="6.41" class="k"/><rect x="567.87" y="499.76" width="5.16" height="6.41" class="r"/><rect x="26.00" y="506.12" width="5.16" height="6.41" class="r"/><rect x="31.11" y="506.12" width="5.16" height="6.41" class="g"/><rect x="36.22" y="506.12" width="5.16" height="6.41" class="h"/><rect x="41.34" y="506.12" width="10.27" height="6.41" class="k"/><rect x="51.56" y="506.12" width="5.16" height="6.41" class="r"/><rect x="56.67" y="506.12" width="5.16" height="6.41" class="k"/><rect x="61.78" y="506.12" width="5.16" height="6.41" class="d"/><rect x="66.90" y="506.12" width="10.27" height="6.41" class="R"/><rect x="77.12" y="506.12" width="5.16" height="6.41" class="k"/><rect x="82.23" y="506.12" width="15.39" height="6.41" class="d"/><rect x="97.57" y="506.12" width="10.27" height="6.41" class="r"/><rect x="107.79" y="506.12" width="5.16" height="6.41" class="k"/><rect x="112.90" y="506.12" width="5.16" height="6.41" class="d"/><rect x="118.02" y="506.12" width="5.16" height="6.41" class="h"/><rect x="123.13" y="506.12" width="5.16" height="6.41" class="g"/><rect x="128.24" y="506.12" width="5.16" height="6.41" class="h"/><rect x="133.35" y="506.12" width="10.27" height="6.41" class="d"/><rect x="143.58" y="506.12" width="15.39" height="6.41" class="h"/><rect x="158.91" y="506.12" width="5.16" height="6.41" class="d"/><rect x="164.02" y="506.12" width="10.27" height="6.41" class="G"/><rect x="174.25" y="506.12" width="5.16" height="6.41" class="k"/><rect x="179.36" y="506.12" width="5.16" height="6.41" class="g"/><rect x="184.47" y="506.12" width="5.16" height="6.41" class="k"/><rect x="189.58" y="506.12" width="10.27" height="6.41" class="d"/><rect x="199.81" y="506.12" width="5.16" height="6.41" class="k"/><rect x="204.92" y="506.12" width="10.27" height="6.41" class="d"/><rect x="215.14" y="506.12" width="10.27" height="6.41" class="r"/><rect x="225.37" y="506.12" width="5.16" height="6.41" class="k"/><rect x="230.48" y="506.12" width="15.39" height="6.41" class="h"/><rect x="245.82" y="506.12" width="5.16" height="6.41" class="k"/><rect x="250.93" y="506.12" width="5.16" height="6.41" class="g"/><rect x="256.04" y="506.12" width="5.16" height="6.41" class="d"/><rect x="261.15" y="506.12" width="5.16" height="6.41" class="h"/><rect x="266.26" y="506.12" width="5.16" height="6.41" class="g"/><rect x="271.38" y="506.12" width="5.16" height="6.41" class="h"/><rect x="276.49" y="506.12" width="5.16" height="6.41" class="G"/><rect x="281.60" y="506.12" width="10.27" height="6.41" class="h"/><rect x="291.82" y="506.12" width="10.27" height="6.41" class="g"/><rect x="302.05" y="506.12" width="10.27" height="6.41" class="h"/><rect x="312.27" y="506.12" width="5.16" height="6.41" class="G"/><rect x="317.38" y="506.12" width="10.27" height="6.41" class="k"/><rect x="327.61" y="506.12" width="5.16" height="6.41" class="h"/><rect x="332.72" y="506.12" width="5.16" height="6.41" class="G"/><rect x="337.83" y="506.12" width="5.16" height="6.41" class="h"/><rect x="342.94" y="506.12" width="5.16" height="6.41" class="g"/><rect x="348.06" y="506.12" width="5.16" height="6.41" class="d"/><rect x="353.17" y="506.12" width="5.16" height="6.41" class="k"/><rect x="358.28" y="506.12" width="5.16" height="6.41" class="g"/><rect x="363.39" y="506.12" width="5.16" height="6.41" class="d"/><rect x="368.50" y="506.12" width="5.16" height="6.41" class="h"/><rect x="373.62" y="506.12" width="10.27" height="6.41" class="r"/><rect x="383.84" y="506.12" width="5.16" height="6.41" class="g"/><rect x="388.95" y="506.12" width="5.16" height="6.41" class="d"/><rect x="394.06" y="506.12" width="5.16" height="6.41" class="G"/><rect x="399.18" y="506.12" width="5.16" height="6.41" class="d"/><rect x="404.29" y="506.12" width="5.16" height="6.41" class="g"/><rect x="409.40" y="506.12" width="5.16" height="6.41" class="h"/><rect x="414.51" y="506.12" width="5.16" height="6.41" class="k"/><rect x="419.62" y="506.12" width="5.16" height="6.41" class="h"/><rect x="424.74" y="506.12" width="5.16" height="6.41" class="g"/><rect x="429.85" y="506.12" width="10.27" height="6.41" class="h"/><rect x="440.07" y="506.12" width="5.16" height="6.41" class="g"/><rect x="445.18" y="506.12" width="5.16" height="6.41" class="h"/><rect x="450.30" y="506.12" width="5.16" height="6.41" class="r"/><rect x="455.41" y="506.12" width="5.16" height="6.41" class="h"/><rect x="460.52" y="506.12" width="10.27" height="6.41" class="g"/><rect x="470.74" y="506.12" width="5.16" height="6.41" class="r"/><rect x="475.86" y="506.12" width="5.16" height="6.41" class="d"/><rect x="480.97" y="506.12" width="5.16" height="6.41" class="G"/><rect x="486.08" y="506.12" width="5.16" height="6.41" class="r"/><rect x="491.19" y="506.12" width="5.16" height="6.41" class="R"/><rect x="496.30" y="506.12" width="5.16" height="6.41" class="r"/><rect x="501.42" y="506.12" width="5.16" height="6.41" class="k"/><rect x="506.53" y="506.12" width="20.50" height="6.41" class="d"/><rect x="526.98" y="506.12" width="5.16" height="6.41" class="r"/><rect x="532.09" y="506.12" width="15.39" height="6.41" class="d"/><rect x="547.42" y="506.12" width="5.16" height="6.41" class="k"/><rect x="552.54" y="506.12" width="5.16" height="6.41" class="d"/><rect x="557.65" y="506.12" width="5.16" height="6.41" class="h"/><rect x="562.76" y="506.12" width="5.16" height="6.41" class="k"/><rect x="567.87" y="506.12" width="5.16" height="6.41" class="R"/><rect x="26.00" y="512.48" width="5.16" height="6.41" class="R"/><rect x="31.11" y="512.48" width="10.27" height="6.41" class="d"/><rect x="41.34" y="512.48" width="5.16" height="6.41" class="k"/><rect x="46.45" y="512.48" width="5.16" height="6.41" class="R"/><rect x="51.56" y="512.48" width="5.16" height="6.41" class="k"/><rect x="56.67" y="512.48" width="5.16" height="6.41" class="d"/><rect x="61.78" y="512.48" width="15.39" height="6.41" class="g"/><rect x="77.12" y="512.48" width="15.39" height="6.41" class="d"/><rect x="92.46" y="512.48" width="5.16" height="6.41" class="g"/><rect x="97.57" y="512.48" width="5.16" height="6.41" class="d"/><rect x="102.68" y="512.48" width="5.16" height="6.41" class="k"/><rect x="107.79" y="512.48" width="10.27" height="6.41" class="h"/><rect x="118.02" y="512.48" width="10.27" height="6.41" class="g"/><rect x="128.24" y="512.48" width="5.16" height="6.41" class="h"/><rect x="133.35" y="512.48" width="15.39" height="6.41" class="g"/><rect x="148.69" y="512.48" width="5.16" height="6.41" class="G"/><rect x="153.80" y="512.48" width="5.16" height="6.41" class="g"/><rect x="158.91" y="512.48" width="5.16" height="6.41" class="d"/><rect x="164.02" y="512.48" width="5.16" height="6.41" class="g"/><rect x="169.14" y="512.48" width="5.16" height="6.41" class="k"/><rect x="174.25" y="512.48" width="5.16" height="6.41" class="d"/><rect x="179.36" y="512.48" width="5.16" height="6.41" class="r"/><rect x="184.47" y="512.48" width="5.16" height="6.41" class="R"/><rect x="189.58" y="512.48" width="5.16" height="6.41" class="d"/><rect x="194.70" y="512.48" width="5.16" height="6.41" class="g"/><rect x="199.81" y="512.48" width="10.27" height="6.41" class="h"/><rect x="210.03" y="512.48" width="5.16" height="6.41" class="G"/><rect x="215.14" y="512.48" width="5.16" height="6.41" class="h"/><rect x="220.26" y="512.48" width="5.16" height="6.41" class="k"/><rect x="225.37" y="512.48" width="20.50" height="6.41" class="d"/><rect x="245.82" y="512.48" width="5.16" height="6.41" class="h"/><rect x="250.93" y="512.48" width="5.16" height="6.41" class="r"/><rect x="256.04" y="512.48" width="5.16" height="6.41" class="k"/><rect x="261.15" y="512.48" width="5.16" height="6.41" class="G"/><rect x="266.26" y="512.48" width="10.27" height="6.41" class="d"/><rect x="276.49" y="512.48" width="5.16" height="6.41" class="g"/><rect x="281.60" y="512.48" width="5.16" height="6.41" class="d"/><rect x="286.71" y="512.48" width="5.16" height="6.41" class="g"/><rect x="291.82" y="512.48" width="5.16" height="6.41" class="h"/><rect x="296.94" y="512.48" width="5.16" height="6.41" class="d"/><rect x="302.05" y="512.48" width="15.39" height="6.41" class="k"/><rect x="317.38" y="512.48" width="5.16" height="6.41" class="d"/><rect x="322.50" y="512.48" width="5.16" height="6.41" class="k"/><rect x="327.61" y="512.48" width="5.16" height="6.41" class="r"/><rect x="332.72" y="512.48" width="5.16" height="6.41" class="d"/><rect x="337.83" y="512.48" width="5.16" height="6.41" class="h"/><rect x="342.94" y="512.48" width="5.16" height="6.41" class="k"/><rect x="348.06" y="512.48" width="5.16" height="6.41" class="h"/><rect x="353.17" y="512.48" width="10.27" height="6.41" class="G"/><rect x="363.39" y="512.48" width="5.16" height="6.41" class="g"/><rect x="368.50" y="512.48" width="5.16" height="6.41" class="k"/><rect x="373.62" y="512.48" width="5.16" height="6.41" class="h"/><rect x="378.73" y="512.48" width="5.16" height="6.41" class="r"/><rect x="383.84" y="512.48" width="5.16" height="6.41" class="h"/><rect x="388.95" y="512.48" width="5.16" height="6.41" class="d"/><rect x="394.06" y="512.48" width="5.16" height="6.41" class="g"/><rect x="399.18" y="512.48" width="5.16" height="6.41" class="R"/><rect x="404.29" y="512.48" width="20.50" height="6.41" class="k"/><rect x="424.74" y="512.48" width="5.16" height="6.41" class="g"/><rect x="429.85" y="512.48" width="5.16" height="6.41" class="h"/><rect x="434.96" y="512.48" width="5.16" height="6.41" class="k"/><rect x="440.07" y="512.48" width="20.50" height="6.41" class="d"/><rect x="460.52" y="512.48" width="5.16" height="6.41" class="h"/><rect x="465.63" y="512.48" width="5.16" height="6.41" class="G"/><rect x="470.74" y="512.48" width="5.16" height="6.41" class="h"/><rect x="475.86" y="512.48" width="5.16" height="6.41" class="d"/><rect x="480.97" y="512.48" width="5.16" height="6.41" class="k"/><rect x="486.08" y="512.48" width="5.16" height="6.41" class="h"/><rect x="491.19" y="512.48" width="5.16" height="6.41" class="d"/><rect x="496.30" y="512.48" width="5.16" height="6.41" class="h"/><rect x="501.42" y="512.48" width="5.16" height="6.41" class="g"/><rect x="506.53" y="512.48" width="5.16" height="6.41" class="G"/><rect x="511.64" y="512.48" width="5.16" height="6.41" class="h"/><rect x="516.75" y="512.48" width="10.27" height="6.41" class="r"/><rect x="526.98" y="512.48" width="5.16" height="6.41" class="h"/><rect x="532.09" y="512.48" width="5.16" height="6.41" class="d"/><rect x="537.20" y="512.48" width="5.16" height="6.41" class="k"/><rect x="542.31" y="512.48" width="5.16" height="6.41" class="d"/><rect x="547.42" y="512.48" width="5.16" height="6.41" class="r"/><rect x="552.54" y="512.48" width="5.16" height="6.41" class="d"/><rect x="557.65" y="512.48" width="10.27" height="6.41" class="r"/><rect x="567.87" y="512.48" width="5.16" height="6.41" class="k"/><rect x="26.00" y="518.84" width="5.16" height="6.41" class="R"/><rect x="31.11" y="518.84" width="5.16" height="6.41" class="r"/><rect x="36.22" y="518.84" width="5.16" height="6.41" class="h"/><rect x="41.34" y="518.84" width="5.16" height="6.41" class="k"/><rect x="46.45" y="518.84" width="20.50" height="6.41" class="d"/><rect x="66.90" y="518.84" width="10.27" height="6.41" class="g"/><rect x="77.12" y="518.84" width="5.16" height="6.41" class="k"/><rect x="82.23" y="518.84" width="5.16" height="6.41" class="h"/><rect x="87.34" y="518.84" width="5.16" height="6.41" class="d"/><rect x="92.46" y="518.84" width="5.16" height="6.41" class="R"/><rect x="97.57" y="518.84" width="5.16" height="6.41" class="k"/><rect x="102.68" y="518.84" width="5.16" height="6.41" class="h"/><rect x="107.79" y="518.84" width="5.16" height="6.41" class="d"/><rect x="112.90" y="518.84" width="5.16" height="6.41" class="h"/><rect x="118.02" y="518.84" width="5.16" height="6.41" class="R"/><rect x="123.13" y="518.84" width="5.16" height="6.41" class="r"/><rect x="128.24" y="518.84" width="5.16" height="6.41" class="d"/><rect x="133.35" y="518.84" width="5.16" height="6.41" class="h"/><rect x="138.46" y="518.84" width="5.16" height="6.41" class="g"/><rect x="143.58" y="518.84" width="5.16" height="6.41" class="k"/><rect x="148.69" y="518.84" width="10.27" height="6.41" class="G"/><rect x="158.91" y="518.84" width="5.16" height="6.41" class="d"/><rect x="164.02" y="518.84" width="5.16" height="6.41" class="k"/><rect x="169.14" y="518.84" width="5.16" height="6.41" class="g"/><rect x="174.25" y="518.84" width="5.16" height="6.41" class="h"/><rect x="179.36" y="518.84" width="5.16" height="6.41" class="r"/><rect x="184.47" y="518.84" width="5.16" height="6.41" class="d"/><rect x="189.58" y="518.84" width="10.27" height="6.41" class="h"/><rect x="199.81" y="518.84" width="5.16" height="6.41" class="k"/><rect x="204.92" y="518.84" width="10.27" height="6.41" class="g"/><rect x="215.14" y="518.84" width="5.16" height="6.41" class="d"/><rect x="220.26" y="518.84" width="5.16" height="6.41" class="r"/><rect x="225.37" y="518.84" width="5.16" height="6.41" class="k"/><rect x="230.48" y="518.84" width="10.27" height="6.41" class="r"/><rect x="240.70" y="518.84" width="5.16" height="6.41" class="k"/><rect x="245.82" y="518.84" width="15.39" height="6.41" class="d"/><rect x="261.15" y="518.84" width="5.16" height="6.41" class="g"/><rect x="266.26" y="518.84" width="5.16" height="6.41" class="h"/><rect x="271.38" y="518.84" width="5.16" height="6.41" class="k"/><rect x="276.49" y="518.84" width="5.16" height="6.41" class="g"/><rect x="281.60" y="518.84" width="10.27" height="6.41" class="d"/><rect x="291.82" y="518.84" width="5.16" height="6.41" class="h"/><rect x="296.94" y="518.84" width="20.50" height="6.41" class="G"/><rect x="317.38" y="518.84" width="5.16" height="6.41" class="h"/><rect x="322.50" y="518.84" width="5.16" height="6.41" class="g"/><rect x="327.61" y="518.84" width="5.16" height="6.41" class="G"/><rect x="332.72" y="518.84" width="5.16" height="6.41" class="k"/><rect x="337.83" y="518.84" width="5.16" height="6.41" class="g"/><rect x="342.94" y="518.84" width="5.16" height="6.41" class="h"/><rect x="348.06" y="518.84" width="5.16" height="6.41" class="r"/><rect x="353.17" y="518.84" width="5.16" height="6.41" class="G"/><rect x="358.28" y="518.84" width="10.27" height="6.41" class="h"/><rect x="368.50" y="518.84" width="5.16" height="6.41" class="k"/><rect x="373.62" y="518.84" width="10.27" height="6.41" class="d"/><rect x="383.84" y="518.84" width="5.16" height="6.41" class="g"/><rect x="388.95" y="518.84" width="5.16" height="6.41" class="d"/><rect x="394.06" y="518.84" width="5.16" height="6.41" class="k"/><rect x="399.18" y="518.84" width="5.16" height="6.41" class="d"/><rect x="404.29" y="518.84" width="5.16" height="6.41" class="h"/><rect x="409.40" y="518.84" width="5.16" height="6.41" class="r"/><rect x="414.51" y="518.84" width="10.27" height="6.41" class="k"/><rect x="424.74" y="518.84" width="5.16" height="6.41" class="h"/><rect x="429.85" y="518.84" width="5.16" height="6.41" class="k"/><rect x="434.96" y="518.84" width="5.16" height="6.41" class="d"/><rect x="440.07" y="518.84" width="5.16" height="6.41" class="r"/><rect x="445.18" y="518.84" width="10.27" height="6.41" class="k"/><rect x="455.41" y="518.84" width="5.16" height="6.41" class="r"/><rect x="460.52" y="518.84" width="5.16" height="6.41" class="k"/><rect x="465.63" y="518.84" width="5.16" height="6.41" class="g"/><rect x="470.74" y="518.84" width="5.16" height="6.41" class="G"/><rect x="475.86" y="518.84" width="10.27" height="6.41" class="d"/><rect x="486.08" y="518.84" width="5.16" height="6.41" class="k"/><rect x="491.19" y="518.84" width="5.16" height="6.41" class="d"/><rect x="496.30" y="518.84" width="5.16" height="6.41" class="g"/><rect x="501.42" y="518.84" width="5.16" height="6.41" class="k"/><rect x="506.53" y="518.84" width="5.16" height="6.41" class="h"/><rect x="511.64" y="518.84" width="5.16" height="6.41" class="G"/><rect x="516.75" y="518.84" width="10.27" height="6.41" class="d"/><rect x="526.98" y="518.84" width="10.27" height="6.41" class="h"/><rect x="537.20" y="518.84" width="5.16" height="6.41" class="r"/><rect x="542.31" y="518.84" width="5.16" height="6.41" class="d"/><rect x="547.42" y="518.84" width="5.16" height="6.41" class="r"/><rect x="552.54" y="518.84" width="15.39" height="6.41" class="d"/><rect x="567.87" y="518.84" width="5.16" height="6.41" class="h"/><rect x="26.00" y="525.20" width="10.27" height="6.41" class="d"/><rect x="36.22" y="525.20" width="5.16" height="6.41" class="G"/><rect x="41.34" y="525.20" width="5.16" height="6.41" class="h"/><rect x="46.45" y="525.20" width="5.16" height="6.41" class="d"/><rect x="51.56" y="525.20" width="5.16" height="6.41" class="g"/><rect x="56.67" y="525.20" width="5.16" height="6.41" class="k"/><rect x="61.78" y="525.20" width="5.16" height="6.41" class="g"/><rect x="66.90" y="525.20" width="5.16" height="6.41" class="d"/><rect x="72.01" y="525.20" width="5.16" height="6.41" class="h"/><rect x="77.12" y="525.20" width="15.39" height="6.41" class="G"/><rect x="92.46" y="525.20" width="5.16" height="6.41" class="g"/><rect x="97.57" y="525.20" width="5.16" height="6.41" class="r"/><rect x="102.68" y="525.20" width="5.16" height="6.41" class="G"/><rect x="107.79" y="525.20" width="5.16" height="6.41" class="R"/><rect x="112.90" y="525.20" width="5.16" height="6.41" class="d"/><rect x="118.02" y="525.20" width="5.16" height="6.41" class="G"/><rect x="123.13" y="525.20" width="5.16" height="6.41" class="h"/><rect x="128.24" y="525.20" width="10.27" height="6.41" class="d"/><rect x="138.46" y="525.20" width="5.16" height="6.41" class="g"/><rect x="143.58" y="525.20" width="5.16" height="6.41" class="d"/><rect x="148.69" y="525.20" width="10.27" height="6.41" class="k"/><rect x="158.91" y="525.20" width="20.50" height="6.41" class="d"/><rect x="179.36" y="525.20" width="5.16" height="6.41" class="k"/><rect x="184.47" y="525.20" width="5.16" height="6.41" class="d"/><rect x="189.58" y="525.20" width="5.16" height="6.41" class="h"/><rect x="194.70" y="525.20" width="10.27" height="6.41" class="G"/><rect x="204.92" y="525.20" width="5.16" height="6.41" class="h"/><rect x="210.03" y="525.20" width="10.27" height="6.41" class="k"/><rect x="220.26" y="525.20" width="5.16" height="6.41" class="d"/><rect x="225.37" y="525.20" width="5.16" height="6.41" class="k"/><rect x="230.48" y="525.20" width="5.16" height="6.41" class="d"/><rect x="235.59" y="525.20" width="5.16" height="6.41" class="g"/><rect x="240.70" y="525.20" width="5.16" height="6.41" class="k"/><rect x="245.82" y="525.20" width="5.16" height="6.41" class="g"/><rect x="250.93" y="525.20" width="5.16" height="6.41" class="h"/><rect x="256.04" y="525.20" width="5.16" height="6.41" class="d"/><rect x="261.15" y="525.20" width="5.16" height="6.41" class="h"/><rect x="266.26" y="525.20" width="5.16" height="6.41" class="g"/><rect x="271.38" y="525.20" width="5.16" height="6.41" class="G"/><rect x="276.49" y="525.20" width="5.16" height="6.41" class="k"/><rect x="281.60" y="525.20" width="5.16" height="6.41" class="G"/><rect x="286.71" y="525.20" width="5.16" height="6.41" class="k"/><rect x="291.82" y="525.20" width="10.27" height="6.41" class="h"/><rect x="302.05" y="525.20" width="5.16" height="6.41" class="g"/><rect x="307.16" y="525.20" width="15.39" height="6.41" class="d"/><rect x="322.50" y="525.20" width="5.16" height="6.41" class="g"/><rect x="327.61" y="525.20" width="5.16" height="6.41" class="k"/><rect x="332.72" y="525.20" width="5.16" height="6.41" class="d"/><rect x="337.83" y="525.20" width="10.27" height="6.41" class="r"/><rect x="348.06" y="525.20" width="5.16" height="6.41" class="h"/><rect x="353.17" y="525.20" width="5.16" height="6.41" class="d"/><rect x="358.28" y="525.20" width="5.16" height="6.41" class="k"/><rect x="363.39" y="525.20" width="5.16" height="6.41" class="h"/><rect x="368.50" y="525.20" width="5.16" height="6.41" class="R"/><rect x="373.62" y="525.20" width="10.27" height="6.41" class="h"/><rect x="383.84" y="525.20" width="10.27" height="6.41" class="k"/><rect x="394.06" y="525.20" width="5.16" height="6.41" class="g"/><rect x="399.18" y="525.20" width="10.27" height="6.41" class="d"/><rect x="409.40" y="525.20" width="5.16" height="6.41" class="k"/><rect x="414.51" y="525.20" width="5.16" height="6.41" class="d"/><rect x="419.62" y="525.20" width="5.16" height="6.41" class="r"/><rect x="424.74" y="525.20" width="10.27" height="6.41" class="d"/><rect x="434.96" y="525.20" width="5.16" height="6.41" class="k"/><rect x="440.07" y="525.20" width="5.16" height="6.41" class="h"/><rect x="445.18" y="525.20" width="5.16" height="6.41" class="d"/><rect x="450.30" y="525.20" width="5.16" height="6.41" class="r"/><rect x="455.41" y="525.20" width="5.16" height="6.41" class="R"/><rect x="460.52" y="525.20" width="5.16" height="6.41" class="d"/><rect x="465.63" y="525.20" width="15.39" height="6.41" class="g"/><rect x="480.97" y="525.20" width="5.16" height="6.41" class="d"/><rect x="486.08" y="525.20" width="5.16" height="6.41" class="h"/><rect x="491.19" y="525.20" width="10.27" height="6.41" class="k"/><rect x="501.42" y="525.20" width="5.16" height="6.41" class="d"/><rect x="506.53" y="525.20" width="5.16" height="6.41" class="h"/><rect x="511.64" y="525.20" width="15.39" height="6.41" class="k"/><rect x="526.98" y="525.20" width="10.27" height="6.41" class="h"/><rect x="537.20" y="525.20" width="5.16" height="6.41" class="g"/><rect x="542.31" y="525.20" width="15.39" height="6.41" class="h"/><rect x="557.65" y="525.20" width="5.16" height="6.41" class="d"/><rect x="562.76" y="525.20" width="5.16" height="6.41" class="k"/><rect x="567.87" y="525.20" width="5.16" height="6.41" class="d"/><rect x="26.00" y="531.56" width="5.16" height="6.41" class="R"/><rect x="31.11" y="531.56" width="10.27" height="6.41" class="r"/><rect x="41.34" y="531.56" width="5.16" height="6.41" class="k"/><rect x="46.45" y="531.56" width="5.16" height="6.41" class="R"/><rect x="51.56" y="531.56" width="5.16" height="6.41" class="r"/><rect x="56.67" y="531.56" width="10.27" height="6.41" class="d"/><rect x="66.90" y="531.56" width="10.27" height="6.41" class="h"/><rect x="77.12" y="531.56" width="5.16" height="6.41" class="r"/><rect x="82.23" y="531.56" width="5.16" height="6.41" class="k"/><rect x="87.34" y="531.56" width="5.16" height="6.41" class="g"/><rect x="92.46" y="531.56" width="5.16" height="6.41" class="r"/><rect x="97.57" y="531.56" width="5.16" height="6.41" class="d"/><rect x="102.68" y="531.56" width="5.16" height="6.41" class="g"/><rect x="107.79" y="531.56" width="5.16" height="6.41" class="k"/><rect x="112.90" y="531.56" width="5.16" height="6.41" class="d"/><rect x="118.02" y="531.56" width="5.16" height="6.41" class="R"/><rect x="123.13" y="531.56" width="5.16" height="6.41" class="r"/><rect x="128.24" y="531.56" width="5.16" height="6.41" class="d"/><rect x="133.35" y="531.56" width="5.16" height="6.41" class="k"/><rect x="138.46" y="531.56" width="5.16" height="6.41" class="g"/><rect x="143.58" y="531.56" width="5.16" height="6.41" class="d"/><rect x="148.69" y="531.56" width="5.16" height="6.41" class="k"/><rect x="153.80" y="531.56" width="5.16" height="6.41" class="g"/><rect x="158.91" y="531.56" width="5.16" height="6.41" class="k"/><rect x="164.02" y="531.56" width="5.16" height="6.41" class="h"/><rect x="169.14" y="531.56" width="5.16" height="6.41" class="G"/><rect x="174.25" y="531.56" width="5.16" height="6.41" class="g"/><rect x="179.36" y="531.56" width="10.27" height="6.41" class="d"/><rect x="189.58" y="531.56" width="5.16" height="6.41" class="k"/><rect x="194.70" y="531.56" width="5.16" height="6.41" class="g"/><rect x="199.81" y="531.56" width="5.16" height="6.41" class="h"/><rect x="204.92" y="531.56" width="10.27" height="6.41" class="g"/><rect x="215.14" y="531.56" width="5.16" height="6.41" class="h"/><rect x="220.26" y="531.56" width="10.27" height="6.41" class="d"/><rect x="230.48" y="531.56" width="5.16" height="6.41" class="r"/><rect x="235.59" y="531.56" width="5.16" height="6.41" class="R"/><rect x="240.70" y="531.56" width="20.50" height="6.41" class="d"/><rect x="261.15" y="531.56" width="5.16" height="6.41" class="k"/><rect x="266.26" y="531.56" width="20.50" height="6.41" class="g"/><rect x="286.71" y="531.56" width="5.16" height="6.41" class="k"/><rect x="291.82" y="531.56" width="10.27" height="6.41" class="h"/><rect x="302.05" y="531.56" width="20.50" height="6.41" class="g"/><rect x="322.50" y="531.56" width="5.16" height="6.41" class="k"/><rect x="327.61" y="531.56" width="5.16" height="6.41" class="G"/><rect x="332.72" y="531.56" width="10.27" height="6.41" class="g"/><rect x="342.94" y="531.56" width="5.16" height="6.41" class="h"/><rect x="348.06" y="531.56" width="5.16" height="6.41" class="k"/><rect x="353.17" y="531.56" width="5.16" height="6.41" class="G"/><rect x="358.28" y="531.56" width="5.16" height="6.41" class="h"/><rect x="363.39" y="531.56" width="10.27" height="6.41" class="k"/><rect x="373.62" y="531.56" width="5.16" height="6.41" class="g"/><rect x="378.73" y="531.56" width="5.16" height="6.41" class="d"/><rect x="383.84" y="531.56" width="5.16" height="6.41" class="g"/><rect x="388.95" y="531.56" width="5.16" height="6.41" class="d"/><rect x="394.06" y="531.56" width="5.16" height="6.41" class="k"/><rect x="399.18" y="531.56" width="5.16" height="6.41" class="d"/><rect x="404.29" y="531.56" width="5.16" height="6.41" class="g"/><rect x="409.40" y="531.56" width="5.16" height="6.41" class="h"/><rect x="414.51" y="531.56" width="5.16" height="6.41" class="d"/><rect x="419.62" y="531.56" width="5.16" height="6.41" class="k"/><rect x="424.74" y="531.56" width="5.16" height="6.41" class="g"/><rect x="429.85" y="531.56" width="10.27" height="6.41" class="d"/><rect x="440.07" y="531.56" width="5.16" height="6.41" class="k"/><rect x="445.18" y="531.56" width="10.27" height="6.41" class="d"/><rect x="455.41" y="531.56" width="5.16" height="6.41" class="r"/><rect x="460.52" y="531.56" width="10.27" height="6.41" class="g"/><rect x="470.74" y="531.56" width="5.16" height="6.41" class="G"/><rect x="475.86" y="531.56" width="10.27" height="6.41" class="h"/><rect x="486.08" y="531.56" width="5.16" height="6.41" class="k"/><rect x="491.19" y="531.56" width="5.16" height="6.41" class="r"/><rect x="496.30" y="531.56" width="15.39" height="6.41" class="g"/><rect x="511.64" y="531.56" width="5.16" height="6.41" class="G"/><rect x="516.75" y="531.56" width="5.16" height="6.41" class="h"/><rect x="521.86" y="531.56" width="5.16" height="6.41" class="d"/><rect x="526.98" y="531.56" width="10.27" height="6.41" class="k"/><rect x="537.20" y="531.56" width="5.16" height="6.41" class="h"/><rect x="542.31" y="531.56" width="5.16" height="6.41" class="d"/><rect x="547.42" y="531.56" width="20.50" height="6.41" class="r"/><rect x="567.87" y="531.56" width="5.16" height="6.41" class="d"/><rect x="26.00" y="537.92" width="5.16" height="6.41" class="k"/><rect x="31.11" y="537.92" width="5.16" height="6.41" class="g"/><rect x="36.22" y="537.92" width="5.16" height="6.41" class="d"/><rect x="41.34" y="537.92" width="5.16" height="6.41" class="k"/><rect x="46.45" y="537.92" width="10.27" height="6.41" class="d"/><rect x="56.67" y="537.92" width="5.16" height="6.41" class="r"/><rect x="61.78" y="537.92" width="5.16" height="6.41" class="d"/><rect x="66.90" y="537.92" width="15.39" height="6.41" class="h"/><rect x="82.23" y="537.92" width="5.16" height="6.41" class="G"/><rect x="87.34" y="537.92" width="5.16" height="6.41" class="k"/><rect x="92.46" y="537.92" width="5.16" height="6.41" class="h"/><rect x="97.57" y="537.92" width="10.27" height="6.41" class="d"/><rect x="107.79" y="537.92" width="5.16" height="6.41" class="r"/><rect x="112.90" y="537.92" width="15.39" height="6.41" class="d"/><rect x="128.24" y="537.92" width="5.16" height="6.41" class="R"/><rect x="133.35" y="537.92" width="5.16" height="6.41" class="h"/><rect x="138.46" y="537.92" width="5.16" height="6.41" class="g"/><rect x="143.58" y="537.92" width="5.16" height="6.41" class="d"/><rect x="148.69" y="537.92" width="10.27" height="6.41" class="G"/><rect x="158.91" y="537.92" width="5.16" height="6.41" class="k"/><rect x="164.02" y="537.92" width="15.39" height="6.41" class="d"/><rect x="179.36" y="537.92" width="5.16" height="6.41" class="k"/><rect x="184.47" y="537.92" width="5.16" height="6.41" class="d"/><rect x="189.58" y="537.92" width="5.16" height="6.41" class="k"/><rect x="194.70" y="537.92" width="5.16" height="6.41" class="g"/><rect x="199.81" y="537.92" width="5.16" height="6.41" class="r"/><rect x="204.92" y="537.92" width="10.27" height="6.41" class="h"/><rect x="215.14" y="537.92" width="5.16" height="6.41" class="k"/><rect x="220.26" y="537.92" width="10.27" height="6.41" class="d"/><rect x="230.48" y="537.92" width="5.16" height="6.41" class="k"/><rect x="235.59" y="537.92" width="5.16" height="6.41" class="d"/><rect x="240.70" y="537.92" width="5.16" height="6.41" class="h"/><rect x="245.82" y="537.92" width="5.16" height="6.41" class="R"/><rect x="250.93" y="537.92" width="5.16" height="6.41" class="r"/><rect x="256.04" y="537.92" width="5.16" height="6.41" class="d"/><rect x="261.15" y="537.92" width="5.16" height="6.41" class="g"/><rect x="266.26" y="537.92" width="5.16" height="6.41" class="G"/><rect x="271.38" y="537.92" width="5.16" height="6.41" class="k"/><rect x="276.49" y="537.92" width="5.16" height="6.41" class="G"/><rect x="281.60" y="537.92" width="10.27" height="6.41" class="h"/><rect x="291.82" y="537.92" width="5.16" height="6.41" class="g"/><rect x="296.94" y="537.92" width="15.39" height="6.41" class="G"/><rect x="312.27" y="537.92" width="5.16" height="6.41" class="g"/><rect x="317.38" y="537.92" width="5.16" height="6.41" class="k"/><rect x="322.50" y="537.92" width="10.27" height="6.41" class="G"/><rect x="332.72" y="537.92" width="5.16" height="6.41" class="k"/><rect x="337.83" y="537.92" width="5.16" height="6.41" class="G"/><rect x="342.94" y="537.92" width="5.16" height="6.41" class="h"/><rect x="348.06" y="537.92" width="5.16" height="6.41" class="d"/><rect x="353.17" y="537.92" width="5.16" height="6.41" class="G"/><rect x="358.28" y="537.92" width="5.16" height="6.41" class="k"/><rect x="363.39" y="537.92" width="5.16" height="6.41" class="G"/><rect x="368.50" y="537.92" width="5.16" height="6.41" class="d"/><rect x="373.62" y="537.92" width="5.16" height="6.41" class="R"/><rect x="378.73" y="537.92" width="5.16" height="6.41" class="k"/><rect x="383.84" y="537.92" width="5.16" height="6.41" class="G"/><rect x="388.95" y="537.92" width="5.16" height="6.41" class="d"/><rect x="394.06" y="537.92" width="5.16" height="6.41" class="h"/><rect x="399.18" y="537.92" width="5.16" height="6.41" class="d"/><rect x="404.29" y="537.92" width="5.16" height="6.41" class="k"/><rect x="409.40" y="537.92" width="5.16" height="6.41" class="r"/><rect x="414.51" y="537.92" width="5.16" height="6.41" class="d"/><rect x="419.62" y="537.92" width="5.16" height="6.41" class="r"/><rect x="424.74" y="537.92" width="10.27" height="6.41" class="k"/><rect x="434.96" y="537.92" width="15.39" height="6.41" class="d"/><rect x="450.30" y="537.92" width="5.16" height="6.41" class="r"/><rect x="455.41" y="537.92" width="10.27" height="6.41" class="h"/><rect x="465.63" y="537.92" width="5.16" height="6.41" class="g"/><rect x="470.74" y="537.92" width="5.16" height="6.41" class="G"/><rect x="475.86" y="537.92" width="5.16" height="6.41" class="d"/><rect x="480.97" y="537.92" width="5.16" height="6.41" class="k"/><rect x="486.08" y="537.92" width="10.27" height="6.41" class="r"/><rect x="496.30" y="537.92" width="20.50" height="6.41" class="G"/><rect x="516.75" y="537.92" width="10.27" height="6.41" class="d"/><rect x="526.98" y="537.92" width="5.16" height="6.41" class="k"/><rect x="532.09" y="537.92" width="20.50" height="6.41" class="d"/><rect x="552.54" y="537.92" width="5.16" height="6.41" class="k"/><rect x="557.65" y="537.92" width="10.27" height="6.41" class="d"/><rect x="567.87" y="537.92" width="5.16" height="6.41" class="k"/><rect x="26.00" y="544.28" width="15.39" height="6.41" class="r"/><rect x="41.34" y="544.28" width="5.16" height="6.41" class="d"/><rect x="46.45" y="544.28" width="5.16" height="6.41" class="r"/><rect x="51.56" y="544.28" width="5.16" height="6.41" class="d"/><rect x="56.67" y="544.28" width="5.16" height="6.41" class="h"/><rect x="61.78" y="544.28" width="5.16" height="6.41" class="r"/><rect x="66.90" y="544.28" width="5.16" height="6.41" class="h"/><rect x="72.01" y="544.28" width="5.16" height="6.41" class="G"/><rect x="77.12" y="544.28" width="5.16" height="6.41" class="d"/><rect x="82.23" y="544.28" width="5.16" height="6.41" class="k"/><rect x="87.34" y="544.28" width="10.27" height="6.41" class="g"/><rect x="97.57" y="544.28" width="5.16" height="6.41" class="d"/><rect x="102.68" y="544.28" width="20.50" height="6.41" class="r"/><rect x="123.13" y="544.28" width="5.16" height="6.41" class="R"/><rect x="128.24" y="544.28" width="5.16" height="6.41" class="d"/><rect x="133.35" y="544.28" width="5.16" height="6.41" class="G"/><rect x="138.46" y="544.28" width="5.16" height="6.41" class="g"/><rect x="143.58" y="544.28" width="5.16" height="6.41" class="k"/><rect x="148.69" y="544.28" width="10.27" height="6.41" class="d"/><rect x="158.91" y="544.28" width="5.16" height="6.41" class="h"/><rect x="164.02" y="544.28" width="10.27" height="6.41" class="k"/><rect x="174.25" y="544.28" width="5.16" height="6.41" class="h"/><rect x="179.36" y="544.28" width="5.16" height="6.41" class="g"/><rect x="184.47" y="544.28" width="5.16" height="6.41" class="k"/><rect x="189.58" y="544.28" width="5.16" height="6.41" class="h"/><rect x="194.70" y="544.28" width="5.16" height="6.41" class="k"/><rect x="199.81" y="544.28" width="5.16" height="6.41" class="h"/><rect x="204.92" y="544.28" width="5.16" height="6.41" class="d"/><rect x="210.03" y="544.28" width="10.27" height="6.41" class="g"/><rect x="220.26" y="544.28" width="5.16" height="6.41" class="d"/><rect x="225.37" y="544.28" width="5.16" height="6.41" class="r"/><rect x="230.48" y="544.28" width="5.16" height="6.41" class="d"/><rect x="235.59" y="544.28" width="10.27" height="6.41" class="r"/><rect x="245.82" y="544.28" width="5.16" height="6.41" class="h"/><rect x="250.93" y="544.28" width="5.16" height="6.41" class="g"/><rect x="256.04" y="544.28" width="5.16" height="6.41" class="h"/><rect x="261.15" y="544.28" width="5.16" height="6.41" class="g"/><rect x="266.26" y="544.28" width="5.16" height="6.41" class="h"/><rect x="271.38" y="544.28" width="5.16" height="6.41" class="k"/><rect x="276.49" y="544.28" width="5.16" height="6.41" class="h"/><rect x="281.60" y="544.28" width="5.16" height="6.41" class="d"/><rect x="286.71" y="544.28" width="15.39" height="6.41" class="g"/><rect x="302.05" y="544.28" width="5.16" height="6.41" class="h"/><rect x="307.16" y="544.28" width="5.16" height="6.41" class="d"/><rect x="312.27" y="544.28" width="5.16" height="6.41" class="k"/><rect x="317.38" y="544.28" width="5.16" height="6.41" class="h"/><rect x="322.50" y="544.28" width="5.16" height="6.41" class="G"/><rect x="327.61" y="544.28" width="5.16" height="6.41" class="g"/><rect x="332.72" y="544.28" width="5.16" height="6.41" class="h"/><rect x="337.83" y="544.28" width="5.16" height="6.41" class="G"/><rect x="342.94" y="544.28" width="5.16" height="6.41" class="g"/><rect x="348.06" y="544.28" width="5.16" height="6.41" class="h"/><rect x="353.17" y="544.28" width="5.16" height="6.41" class="k"/><rect x="358.28" y="544.28" width="5.16" height="6.41" class="d"/><rect x="363.39" y="544.28" width="5.16" height="6.41" class="r"/><rect x="368.50" y="544.28" width="5.16" height="6.41" class="d"/><rect x="373.62" y="544.28" width="5.16" height="6.41" class="k"/><rect x="378.73" y="544.28" width="5.16" height="6.41" class="r"/><rect x="383.84" y="544.28" width="5.16" height="6.41" class="h"/><rect x="388.95" y="544.28" width="5.16" height="6.41" class="d"/><rect x="394.06" y="544.28" width="5.16" height="6.41" class="g"/><rect x="399.18" y="544.28" width="10.27" height="6.41" class="d"/><rect x="409.40" y="544.28" width="5.16" height="6.41" class="h"/><rect x="414.51" y="544.28" width="10.27" height="6.41" class="G"/><rect x="424.74" y="544.28" width="5.16" height="6.41" class="k"/><rect x="429.85" y="544.28" width="10.27" height="6.41" class="d"/><rect x="440.07" y="544.28" width="5.16" height="6.41" class="R"/><rect x="445.18" y="544.28" width="5.16" height="6.41" class="h"/><rect x="450.30" y="544.28" width="5.16" height="6.41" class="d"/><rect x="455.41" y="544.28" width="10.27" height="6.41" class="k"/><rect x="465.63" y="544.28" width="5.16" height="6.41" class="d"/><rect x="470.74" y="544.28" width="5.16" height="6.41" class="g"/><rect x="475.86" y="544.28" width="5.16" height="6.41" class="R"/><rect x="480.97" y="544.28" width="5.16" height="6.41" class="d"/><rect x="486.08" y="544.28" width="5.16" height="6.41" class="k"/><rect x="491.19" y="544.28" width="10.27" height="6.41" class="h"/><rect x="501.42" y="544.28" width="5.16" height="6.41" class="d"/><rect x="506.53" y="544.28" width="5.16" height="6.41" class="g"/><rect x="511.64" y="544.28" width="5.16" height="6.41" class="h"/><rect x="516.75" y="544.28" width="5.16" height="6.41" class="r"/><rect x="521.86" y="544.28" width="5.16" height="6.41" class="d"/><rect x="526.98" y="544.28" width="5.16" height="6.41" class="h"/><rect x="532.09" y="544.28" width="5.16" height="6.41" class="g"/><rect x="537.20" y="544.28" width="5.16" height="6.41" class="h"/><rect x="542.31" y="544.28" width="5.16" height="6.41" class="r"/><rect x="547.42" y="544.28" width="15.39" height="6.41" class="G"/><rect x="562.76" y="544.28" width="5.16" height="6.41" class="h"/><rect x="567.87" y="544.28" width="5.16" height="6.41" class="d"/><rect x="26.00" y="550.64" width="10.27" height="6.41" class="G"/><rect x="36.22" y="550.64" width="5.16" height="6.41" class="h"/><rect x="41.34" y="550.64" width="5.16" height="6.41" class="G"/><rect x="46.45" y="550.64" width="5.16" height="6.41" class="h"/><rect x="51.56" y="550.64" width="5.16" height="6.41" class="G"/><rect x="56.67" y="550.64" width="5.16" height="6.41" class="r"/><rect x="61.78" y="550.64" width="5.16" height="6.41" class="d"/><rect x="66.90" y="550.64" width="10.27" height="6.41" class="r"/><rect x="77.12" y="550.64" width="5.16" height="6.41" class="G"/><rect x="82.23" y="550.64" width="5.16" height="6.41" class="g"/><rect x="87.34" y="550.64" width="5.16" height="6.41" class="k"/><rect x="92.46" y="550.64" width="10.27" height="6.41" class="d"/><rect x="102.68" y="550.64" width="5.16" height="6.41" class="g"/><rect x="107.79" y="550.64" width="5.16" height="6.41" class="r"/><rect x="112.90" y="550.64" width="10.27" height="6.41" class="d"/><rect x="123.13" y="550.64" width="5.16" height="6.41" class="G"/><rect x="128.24" y="550.64" width="5.16" height="6.41" class="h"/><rect x="133.35" y="550.64" width="10.27" height="6.41" class="d"/><rect x="143.58" y="550.64" width="5.16" height="6.41" class="k"/><rect x="148.69" y="550.64" width="5.16" height="6.41" class="r"/><rect x="153.80" y="550.64" width="10.27" height="6.41" class="d"/><rect x="164.02" y="550.64" width="5.16" height="6.41" class="h"/><rect x="169.14" y="550.64" width="5.16" height="6.41" class="d"/><rect x="174.25" y="550.64" width="5.16" height="6.41" class="k"/><rect x="179.36" y="550.64" width="5.16" height="6.41" class="g"/><rect x="184.47" y="550.64" width="5.16" height="6.41" class="h"/><rect x="189.58" y="550.64" width="5.16" height="6.41" class="G"/><rect x="194.70" y="550.64" width="10.27" height="6.41" class="g"/><rect x="204.92" y="550.64" width="10.27" height="6.41" class="d"/><rect x="215.14" y="550.64" width="5.16" height="6.41" class="G"/><rect x="220.26" y="550.64" width="5.16" height="6.41" class="k"/><rect x="225.37" y="550.64" width="10.27" height="6.41" class="h"/><rect x="235.59" y="550.64" width="5.16" height="6.41" class="G"/><rect x="240.70" y="550.64" width="5.16" height="6.41" class="r"/><rect x="245.82" y="550.64" width="5.16" height="6.41" class="h"/><rect x="250.93" y="550.64" width="5.16" height="6.41" class="g"/><rect x="256.04" y="550.64" width="15.39" height="6.41" class="d"/><rect x="271.38" y="550.64" width="5.16" height="6.41" class="h"/><rect x="276.49" y="550.64" width="15.39" height="6.41" class="d"/><rect x="291.82" y="550.64" width="10.27" height="6.41" class="h"/><rect x="302.05" y="550.64" width="5.16" height="6.41" class="r"/><rect x="307.16" y="550.64" width="5.16" height="6.41" class="k"/><rect x="312.27" y="550.64" width="5.16" height="6.41" class="g"/><rect x="317.38" y="550.64" width="5.16" height="6.41" class="d"/><rect x="322.50" y="550.64" width="5.16" height="6.41" class="g"/><rect x="327.61" y="550.64" width="10.27" height="6.41" class="r"/><rect x="337.83" y="550.64" width="5.16" height="6.41" class="d"/><rect x="342.94" y="550.64" width="5.16" height="6.41" class="k"/><rect x="348.06" y="550.64" width="5.16" height="6.41" class="d"/><rect x="353.17" y="550.64" width="10.27" height="6.41" class="r"/><rect x="363.39" y="550.64" width="5.16" height="6.41" class="d"/><rect x="368.50" y="550.64" width="10.27" height="6.41" class="r"/><rect x="378.73" y="550.64" width="5.16" height="6.41" class="h"/><rect x="383.84" y="550.64" width="5.16" height="6.41" class="k"/><rect x="388.95" y="550.64" width="5.16" height="6.41" class="r"/><rect x="394.06" y="550.64" width="5.16" height="6.41" class="d"/><rect x="399.18" y="550.64" width="15.39" height="6.41" class="h"/><rect x="414.51" y="550.64" width="5.16" height="6.41" class="g"/><rect x="419.62" y="550.64" width="5.16" height="6.41" class="h"/><rect x="424.74" y="550.64" width="5.16" height="6.41" class="r"/><rect x="429.85" y="550.64" width="5.16" height="6.41" class="d"/><rect x="434.96" y="550.64" width="5.16" height="6.41" class="k"/><rect x="440.07" y="550.64" width="5.16" height="6.41" class="d"/><rect x="445.18" y="550.64" width="5.16" height="6.41" class="r"/><rect x="450.30" y="550.64" width="5.16" height="6.41" class="d"/><rect x="455.41" y="550.64" width="5.16" height="6.41" class="r"/><rect x="460.52" y="550.64" width="5.16" height="6.41" class="d"/><rect x="465.63" y="550.64" width="5.16" height="6.41" class="r"/><rect x="470.74" y="550.64" width="5.16" height="6.41" class="d"/><rect x="475.86" y="550.64" width="5.16" height="6.41" class="h"/><rect x="480.97" y="550.64" width="5.16" height="6.41" class="r"/><rect x="486.08" y="550.64" width="10.27" height="6.41" class="h"/><rect x="496.30" y="550.64" width="5.16" height="6.41" class="k"/><rect x="501.42" y="550.64" width="5.16" height="6.41" class="G"/><rect x="506.53" y="550.64" width="10.27" height="6.41" class="h"/><rect x="516.75" y="550.64" width="5.16" height="6.41" class="g"/><rect x="521.86" y="550.64" width="5.16" height="6.41" class="G"/><rect x="526.98" y="550.64" width="5.16" height="6.41" class="h"/><rect x="532.09" y="550.64" width="5.16" height="6.41" class="G"/><rect x="537.20" y="550.64" width="5.16" height="6.41" class="k"/><rect x="542.31" y="550.64" width="5.16" height="6.41" class="g"/><rect x="547.42" y="550.64" width="5.16" height="6.41" class="k"/><rect x="552.54" y="550.64" width="5.16" height="6.41" class="h"/><rect x="557.65" y="550.64" width="5.16" height="6.41" class="g"/><rect x="562.76" y="550.64" width="5.16" height="6.41" class="h"/><rect x="567.87" y="550.64" width="5.16" height="6.41" class="d"/><rect x="26.00" y="557.00" width="10.27" height="6.41" class="d"/><rect x="36.22" y="557.00" width="5.16" height="6.41" class="r"/><rect x="41.34" y="557.00" width="5.16" height="6.41" class="k"/><rect x="46.45" y="557.00" width="15.39" height="6.41" class="r"/><rect x="61.78" y="557.00" width="5.16" height="6.41" class="d"/><rect x="66.90" y="557.00" width="5.16" height="6.41" class="r"/><rect x="72.01" y="557.00" width="15.39" height="6.41" class="d"/><rect x="87.34" y="557.00" width="5.16" height="6.41" class="g"/><rect x="92.46" y="557.00" width="5.16" height="6.41" class="k"/><rect x="97.57" y="557.00" width="5.16" height="6.41" class="d"/><rect x="102.68" y="557.00" width="5.16" height="6.41" class="k"/><rect x="107.79" y="557.00" width="5.16" height="6.41" class="g"/><rect x="112.90" y="557.00" width="5.16" height="6.41" class="d"/><rect x="118.02" y="557.00" width="5.16" height="6.41" class="k"/><rect x="123.13" y="557.00" width="5.16" height="6.41" class="h"/><rect x="128.24" y="557.00" width="5.16" height="6.41" class="k"/><rect x="133.35" y="557.00" width="5.16" height="6.41" class="G"/><rect x="138.46" y="557.00" width="5.16" height="6.41" class="h"/><rect x="143.58" y="557.00" width="5.16" height="6.41" class="r"/><rect x="148.69" y="557.00" width="10.27" height="6.41" class="g"/><rect x="158.91" y="557.00" width="5.16" height="6.41" class="h"/><rect x="164.02" y="557.00" width="10.27" height="6.41" class="G"/><rect x="174.25" y="557.00" width="5.16" height="6.41" class="h"/><rect x="179.36" y="557.00" width="10.27" height="6.41" class="r"/><rect x="189.58" y="557.00" width="5.16" height="6.41" class="k"/><rect x="194.70" y="557.00" width="15.39" height="6.41" class="d"/><rect x="210.03" y="557.00" width="5.16" height="6.41" class="G"/><rect x="215.14" y="557.00" width="5.16" height="6.41" class="r"/><rect x="220.26" y="557.00" width="5.16" height="6.41" class="R"/><rect x="225.37" y="557.00" width="5.16" height="6.41" class="d"/><rect x="230.48" y="557.00" width="5.16" height="6.41" class="r"/><rect x="235.59" y="557.00" width="5.16" height="6.41" class="d"/><rect x="240.70" y="557.00" width="5.16" height="6.41" class="h"/><rect x="245.82" y="557.00" width="5.16" height="6.41" class="d"/><rect x="250.93" y="557.00" width="10.27" height="6.41" class="r"/><rect x="261.15" y="557.00" width="5.16" height="6.41" class="h"/><rect x="266.26" y="557.00" width="5.16" height="6.41" class="k"/><rect x="271.38" y="557.00" width="5.16" height="6.41" class="d"/><rect x="276.49" y="557.00" width="5.16" height="6.41" class="h"/><rect x="281.60" y="557.00" width="10.27" height="6.41" class="g"/><rect x="291.82" y="557.00" width="5.16" height="6.41" class="G"/><rect x="296.94" y="557.00" width="10.27" height="6.41" class="h"/><rect x="307.16" y="557.00" width="5.16" height="6.41" class="d"/><rect x="312.27" y="557.00" width="5.16" height="6.41" class="g"/><rect x="317.38" y="557.00" width="10.27" height="6.41" class="r"/><rect x="327.61" y="557.00" width="5.16" height="6.41" class="G"/><rect x="332.72" y="557.00" width="5.16" height="6.41" class="g"/><rect x="337.83" y="557.00" width="5.16" height="6.41" class="h"/><rect x="342.94" y="557.00" width="10.27" height="6.41" class="k"/><rect x="353.17" y="557.00" width="10.27" height="6.41" class="g"/><rect x="363.39" y="557.00" width="5.16" height="6.41" class="k"/><rect x="368.50" y="557.00" width="15.39" height="6.41" class="r"/><rect x="383.84" y="557.00" width="5.16" height="6.41" class="g"/><rect x="388.95" y="557.00" width="5.16" height="6.41" class="R"/><rect x="394.06" y="557.00" width="5.16" height="6.41" class="d"/><rect x="399.18" y="557.00" width="5.16" height="6.41" class="h"/><rect x="404.29" y="557.00" width="5.16" height="6.41" class="d"/><rect x="409.40" y="557.00" width="5.16" height="6.41" class="h"/><rect x="414.51" y="557.00" width="5.16" height="6.41" class="d"/><rect x="419.62" y="557.00" width="5.16" height="6.41" class="g"/><rect x="424.74" y="557.00" width="5.16" height="6.41" class="G"/><rect x="429.85" y="557.00" width="15.39" height="6.41" class="h"/><rect x="445.18" y="557.00" width="5.16" height="6.41" class="k"/><rect x="450.30" y="557.00" width="5.16" height="6.41" class="h"/><rect x="455.41" y="557.00" width="5.16" height="6.41" class="r"/><rect x="460.52" y="557.00" width="5.16" height="6.41" class="k"/><rect x="465.63" y="557.00" width="5.16" height="6.41" class="d"/><rect x="470.74" y="557.00" width="5.16" height="6.41" class="G"/><rect x="475.86" y="557.00" width="5.16" height="6.41" class="h"/><rect x="480.97" y="557.00" width="10.27" height="6.41" class="g"/><rect x="491.19" y="557.00" width="5.16" height="6.41" class="h"/><rect x="496.30" y="557.00" width="5.16" height="6.41" class="G"/><rect x="501.42" y="557.00" width="5.16" height="6.41" class="k"/><rect x="506.53" y="557.00" width="5.16" height="6.41" class="h"/><rect x="511.64" y="557.00" width="5.16" height="6.41" class="G"/><rect x="516.75" y="557.00" width="5.16" height="6.41" class="r"/><rect x="521.86" y="557.00" width="5.16" height="6.41" class="h"/><rect x="526.98" y="557.00" width="5.16" height="6.41" class="g"/><rect x="532.09" y="557.00" width="5.16" height="6.41" class="h"/><rect x="537.20" y="557.00" width="5.16" height="6.41" class="k"/><rect x="542.31" y="557.00" width="5.16" height="6.41" class="h"/><rect x="547.42" y="557.00" width="5.16" height="6.41" class="k"/><rect x="552.54" y="557.00" width="20.50" height="6.41" class="h"/><rect x="26.00" y="563.36" width="10.27" height="6.41" class="g"/><rect x="36.22" y="563.36" width="5.16" height="6.41" class="d"/><rect x="41.34" y="563.36" width="10.27" height="6.41" class="k"/><rect x="51.56" y="563.36" width="5.16" height="6.41" class="d"/><rect x="56.67" y="563.36" width="15.39" height="6.41" class="k"/><rect x="72.01" y="563.36" width="10.27" height="6.41" class="g"/><rect x="82.23" y="563.36" width="5.16" height="6.41" class="k"/><rect x="87.34" y="563.36" width="5.16" height="6.41" class="h"/><rect x="92.46" y="563.36" width="5.16" height="6.41" class="R"/><rect x="97.57" y="563.36" width="5.16" height="6.41" class="k"/><rect x="102.68" y="563.36" width="5.16" height="6.41" class="d"/><rect x="107.79" y="563.36" width="5.16" height="6.41" class="r"/><rect x="112.90" y="563.36" width="5.16" height="6.41" class="d"/><rect x="118.02" y="563.36" width="5.16" height="6.41" class="R"/><rect x="123.13" y="563.36" width="5.16" height="6.41" class="r"/><rect x="128.24" y="563.36" width="5.16" height="6.41" class="g"/><rect x="133.35" y="563.36" width="5.16" height="6.41" class="d"/><rect x="138.46" y="563.36" width="5.16" height="6.41" class="g"/><rect x="143.58" y="563.36" width="5.16" height="6.41" class="d"/><rect x="148.69" y="563.36" width="10.27" height="6.41" class="g"/><rect x="158.91" y="563.36" width="5.16" height="6.41" class="k"/><rect x="164.02" y="563.36" width="10.27" height="6.41" class="g"/><rect x="174.25" y="563.36" width="5.16" height="6.41" class="h"/><rect x="179.36" y="563.36" width="5.16" height="6.41" class="R"/><rect x="184.47" y="563.36" width="5.16" height="6.41" class="d"/><rect x="189.58" y="563.36" width="10.27" height="6.41" class="h"/><rect x="199.81" y="563.36" width="10.27" height="6.41" class="g"/><rect x="210.03" y="563.36" width="5.16" height="6.41" class="k"/><rect x="215.14" y="563.36" width="5.16" height="6.41" class="h"/><rect x="220.26" y="563.36" width="5.16" height="6.41" class="d"/><rect x="225.37" y="563.36" width="5.16" height="6.41" class="g"/><rect x="230.48" y="563.36" width="5.16" height="6.41" class="k"/><rect x="235.59" y="563.36" width="5.16" height="6.41" class="d"/><rect x="240.70" y="563.36" width="5.16" height="6.41" class="r"/><rect x="245.82" y="563.36" width="5.16" height="6.41" class="h"/><rect x="250.93" y="563.36" width="5.16" height="6.41" class="r"/><rect x="256.04" y="563.36" width="5.16" height="6.41" class="g"/><rect x="261.15" y="563.36" width="5.16" height="6.41" class="d"/><rect x="266.26" y="563.36" width="5.16" height="6.41" class="h"/><rect x="271.38" y="563.36" width="10.27" height="6.41" class="g"/><rect x="281.60" y="563.36" width="5.16" height="6.41" class="h"/><rect x="286.71" y="563.36" width="5.16" height="6.41" class="g"/><rect x="291.82" y="563.36" width="5.16" height="6.41" class="h"/><rect x="296.94" y="563.36" width="5.16" height="6.41" class="g"/><rect x="302.05" y="563.36" width="5.16" height="6.41" class="k"/><rect x="307.16" y="563.36" width="5.16" height="6.41" class="r"/><rect x="312.27" y="563.36" width="5.16" height="6.41" class="h"/><rect x="317.38" y="563.36" width="5.16" height="6.41" class="d"/><rect x="322.50" y="563.36" width="5.16" height="6.41" class="r"/><rect x="327.61" y="563.36" width="10.27" height="6.41" class="g"/><rect x="337.83" y="563.36" width="5.16" height="6.41" class="r"/><rect x="342.94" y="563.36" width="5.16" height="6.41" class="d"/><rect x="348.06" y="563.36" width="5.16" height="6.41" class="R"/><rect x="353.17" y="563.36" width="5.16" height="6.41" class="r"/><rect x="358.28" y="563.36" width="10.27" height="6.41" class="k"/><rect x="368.50" y="563.36" width="5.16" height="6.41" class="r"/><rect x="373.62" y="563.36" width="15.39" height="6.41" class="h"/><rect x="388.95" y="563.36" width="5.16" height="6.41" class="k"/><rect x="394.06" y="563.36" width="5.16" height="6.41" class="R"/><rect x="399.18" y="563.36" width="5.16" height="6.41" class="g"/><rect x="404.29" y="563.36" width="5.16" height="6.41" class="h"/><rect x="409.40" y="563.36" width="5.16" height="6.41" class="d"/><rect x="414.51" y="563.36" width="5.16" height="6.41" class="h"/><rect x="419.62" y="563.36" width="15.39" height="6.41" class="g"/><rect x="434.96" y="563.36" width="5.16" height="6.41" class="h"/><rect x="440.07" y="563.36" width="5.16" height="6.41" class="d"/><rect x="445.18" y="563.36" width="5.16" height="6.41" class="g"/><rect x="450.30" y="563.36" width="5.16" height="6.41" class="d"/><rect x="455.41" y="563.36" width="10.27" height="6.41" class="h"/><rect x="465.63" y="563.36" width="10.27" height="6.41" class="g"/><rect x="475.86" y="563.36" width="5.16" height="6.41" class="r"/><rect x="480.97" y="563.36" width="15.39" height="6.41" class="g"/><rect x="496.30" y="563.36" width="5.16" height="6.41" class="h"/><rect x="501.42" y="563.36" width="5.16" height="6.41" class="k"/><rect x="506.53" y="563.36" width="10.27" height="6.41" class="g"/><rect x="516.75" y="563.36" width="5.16" height="6.41" class="k"/><rect x="521.86" y="563.36" width="5.16" height="6.41" class="d"/><rect x="526.98" y="563.36" width="5.16" height="6.41" class="h"/><rect x="532.09" y="563.36" width="5.16" height="6.41" class="g"/><rect x="537.20" y="563.36" width="5.16" height="6.41" class="h"/><rect x="542.31" y="563.36" width="5.16" height="6.41" class="g"/><rect x="547.42" y="563.36" width="5.16" height="6.41" class="h"/><rect x="552.54" y="563.36" width="20.50" height="6.41" class="g"/><rect x="26.00" y="569.72" width="5.16" height="6.41" class="r"/><rect x="31.11" y="569.72" width="5.16" height="6.41" class="k"/><rect x="36.22" y="569.72" width="5.16" height="6.41" class="R"/><rect x="41.34" y="569.72" width="5.16" height="6.41" class="r"/><rect x="46.45" y="569.72" width="5.16" height="6.41" class="d"/><rect x="51.56" y="569.72" width="5.16" height="6.41" class="R"/><rect x="56.67" y="569.72" width="5.16" height="6.41" class="k"/><rect x="61.78" y="569.72" width="5.16" height="6.41" class="d"/><rect x="66.90" y="569.72" width="5.16" height="6.41" class="r"/><rect x="72.01" y="569.72" width="15.39" height="6.41" class="d"/><rect x="87.34" y="569.72" width="5.16" height="6.41" class="r"/><rect x="92.46" y="569.72" width="10.27" height="6.41" class="d"/><rect x="102.68" y="569.72" width="5.16" height="6.41" class="k"/><rect x="107.79" y="569.72" width="5.16" height="6.41" class="g"/><rect x="112.90" y="569.72" width="10.27" height="6.41" class="d"/><rect x="123.13" y="569.72" width="5.16" height="6.41" class="h"/><rect x="128.24" y="569.72" width="5.16" height="6.41" class="k"/><rect x="133.35" y="569.72" width="5.16" height="6.41" class="g"/><rect x="138.46" y="569.72" width="5.16" height="6.41" class="h"/><rect x="143.58" y="569.72" width="5.16" height="6.41" class="d"/><rect x="148.69" y="569.72" width="10.27" height="6.41" class="g"/><rect x="158.91" y="569.72" width="5.16" height="6.41" class="d"/><rect x="164.02" y="569.72" width="10.27" height="6.41" class="G"/><rect x="174.25" y="569.72" width="10.27" height="6.41" class="k"/><rect x="184.47" y="569.72" width="5.16" height="6.41" class="d"/><rect x="189.58" y="569.72" width="5.16" height="6.41" class="k"/><rect x="194.70" y="569.72" width="5.16" height="6.41" class="g"/><rect x="199.81" y="569.72" width="10.27" height="6.41" class="d"/><rect x="210.03" y="569.72" width="5.16" height="6.41" class="G"/><rect x="215.14" y="569.72" width="5.16" height="6.41" class="d"/><rect x="220.26" y="569.72" width="5.16" height="6.41" class="R"/><rect x="225.37" y="569.72" width="5.16" height="6.41" class="d"/><rect x="230.48" y="569.72" width="10.27" height="6.41" class="r"/><rect x="240.70" y="569.72" width="5.16" height="6.41" class="k"/><rect x="245.82" y="569.72" width="10.27" height="6.41" class="r"/><rect x="256.04" y="569.72" width="5.16" height="6.41" class="d"/><rect x="261.15" y="569.72" width="5.16" height="6.41" class="h"/><rect x="266.26" y="569.72" width="10.27" height="6.41" class="d"/><rect x="276.49" y="569.72" width="5.16" height="6.41" class="g"/><rect x="281.60" y="569.72" width="5.16" height="6.41" class="h"/><rect x="286.71" y="569.72" width="5.16" height="6.41" class="g"/><rect x="291.82" y="569.72" width="5.16" height="6.41" class="G"/><rect x="296.94" y="569.72" width="5.16" height="6.41" class="h"/><rect x="302.05" y="569.72" width="5.16" height="6.41" class="G"/><rect x="307.16" y="569.72" width="5.16" height="6.41" class="d"/><rect x="312.27" y="569.72" width="5.16" height="6.41" class="g"/><rect x="317.38" y="569.72" width="5.16" height="6.41" class="d"/><rect x="322.50" y="569.72" width="5.16" height="6.41" class="k"/><rect x="327.61" y="569.72" width="5.16" height="6.41" class="g"/><rect x="332.72" y="569.72" width="10.27" height="6.41" class="k"/><rect x="342.94" y="569.72" width="5.16" height="6.41" class="h"/><rect x="348.06" y="569.72" width="5.16" height="6.41" class="d"/><rect x="353.17" y="569.72" width="5.16" height="6.41" class="g"/><rect x="358.28" y="569.72" width="5.16" height="6.41" class="h"/><rect x="363.39" y="569.72" width="5.16" height="6.41" class="k"/><rect x="368.50" y="569.72" width="5.16" height="6.41" class="r"/><rect x="373.62" y="569.72" width="10.27" height="6.41" class="d"/><rect x="383.84" y="569.72" width="5.16" height="6.41" class="G"/><rect x="388.95" y="569.72" width="10.27" height="6.41" class="d"/><rect x="399.18" y="569.72" width="5.16" height="6.41" class="h"/><rect x="404.29" y="569.72" width="15.39" height="6.41" class="d"/><rect x="419.62" y="569.72" width="5.16" height="6.41" class="h"/><rect x="424.74" y="569.72" width="5.16" height="6.41" class="g"/><rect x="429.85" y="569.72" width="15.39" height="6.41" class="h"/><rect x="445.18" y="569.72" width="10.27" height="6.41" class="r"/><rect x="455.41" y="569.72" width="5.16" height="6.41" class="k"/><rect x="460.52" y="569.72" width="10.27" height="6.41" class="d"/><rect x="470.74" y="569.72" width="5.16" height="6.41" class="g"/><rect x="475.86" y="569.72" width="5.16" height="6.41" class="h"/><rect x="480.97" y="569.72" width="5.16" height="6.41" class="g"/><rect x="486.08" y="569.72" width="20.50" height="6.41" class="G"/><rect x="506.53" y="569.72" width="5.16" height="6.41" class="g"/><rect x="511.64" y="569.72" width="5.16" height="6.41" class="G"/><rect x="516.75" y="569.72" width="5.16" height="6.41" class="d"/><rect x="521.86" y="569.72" width="10.27" height="6.41" class="h"/><rect x="532.09" y="569.72" width="15.39" height="6.41" class="k"/><rect x="547.42" y="569.72" width="10.27" height="6.41" class="g"/><rect x="557.65" y="569.72" width="10.27" height="6.41" class="k"/><rect x="567.87" y="569.72" width="5.16" height="6.41" class="h"/><rect x="26.00" y="576.08" width="10.27" height="6.41" class="R"/><rect x="36.22" y="576.08" width="5.16" height="6.41" class="r"/><rect x="41.34" y="576.08" width="5.16" height="6.41" class="k"/><rect x="46.45" y="576.08" width="5.16" height="6.41" class="r"/><rect x="51.56" y="576.08" width="10.27" height="6.41" class="d"/><rect x="61.78" y="576.08" width="5.16" height="6.41" class="r"/><rect x="66.90" y="576.08" width="5.16" height="6.41" class="h"/><rect x="72.01" y="576.08" width="5.16" height="6.41" class="k"/><rect x="77.12" y="576.08" width="10.27" height="6.41" class="g"/><rect x="87.34" y="576.08" width="5.16" height="6.41" class="d"/><rect x="92.46" y="576.08" width="5.16" height="6.41" class="r"/><rect x="97.57" y="576.08" width="5.16" height="6.41" class="d"/><rect x="102.68" y="576.08" width="5.16" height="6.41" class="g"/><rect x="107.79" y="576.08" width="5.16" height="6.41" class="r"/><rect x="112.90" y="576.08" width="15.39" height="6.41" class="d"/><rect x="128.24" y="576.08" width="5.16" height="6.41" class="r"/><rect x="133.35" y="576.08" width="10.27" height="6.41" class="g"/><rect x="143.58" y="576.08" width="5.16" height="6.41" class="k"/><rect x="148.69" y="576.08" width="5.16" height="6.41" class="h"/><rect x="153.80" y="576.08" width="10.27" height="6.41" class="G"/><rect x="164.02" y="576.08" width="5.16" height="6.41" class="r"/><rect x="169.14" y="576.08" width="5.16" height="6.41" class="k"/><rect x="174.25" y="576.08" width="10.27" height="6.41" class="h"/><rect x="184.47" y="576.08" width="5.16" height="6.41" class="d"/><rect x="189.58" y="576.08" width="10.27" height="6.41" class="g"/><rect x="199.81" y="576.08" width="10.27" height="6.41" class="d"/><rect x="210.03" y="576.08" width="5.16" height="6.41" class="h"/><rect x="215.14" y="576.08" width="10.27" height="6.41" class="d"/><rect x="225.37" y="576.08" width="5.16" height="6.41" class="k"/><rect x="230.48" y="576.08" width="20.50" height="6.41" class="r"/><rect x="250.93" y="576.08" width="5.16" height="6.41" class="d"/><rect x="256.04" y="576.08" width="5.16" height="6.41" class="g"/><rect x="261.15" y="576.08" width="10.27" height="6.41" class="h"/><rect x="271.38" y="576.08" width="5.16" height="6.41" class="k"/><rect x="276.49" y="576.08" width="10.27" height="6.41" class="g"/><rect x="286.71" y="576.08" width="10.27" height="6.41" class="k"/><rect x="296.94" y="576.08" width="20.50" height="6.41" class="g"/><rect x="317.38" y="576.08" width="5.16" height="6.41" class="k"/><rect x="322.50" y="576.08" width="10.27" height="6.41" class="G"/><rect x="332.72" y="576.08" width="5.16" height="6.41" class="h"/><rect x="337.83" y="576.08" width="5.16" height="6.41" class="g"/><rect x="342.94" y="576.08" width="5.16" height="6.41" class="k"/><rect x="348.06" y="576.08" width="5.16" height="6.41" class="h"/><rect x="353.17" y="576.08" width="5.16" height="6.41" class="g"/><rect x="358.28" y="576.08" width="5.16" height="6.41" class="k"/><rect x="363.39" y="576.08" width="5.16" height="6.41" class="g"/><rect x="368.50" y="576.08" width="5.16" height="6.41" class="d"/><rect x="373.62" y="576.08" width="5.16" height="6.41" class="r"/><rect x="378.73" y="576.08" width="5.16" height="6.41" class="d"/><rect x="383.84" y="576.08" width="5.16" height="6.41" class="g"/><rect x="388.95" y="576.08" width="5.16" height="6.41" class="d"/><rect x="394.06" y="576.08" width="5.16" height="6.41" class="k"/><rect x="399.18" y="576.08" width="5.16" height="6.41" class="r"/><rect x="404.29" y="576.08" width="10.27" height="6.41" class="d"/><rect x="414.51" y="576.08" width="5.16" height="6.41" class="R"/><rect x="419.62" y="576.08" width="5.16" height="6.41" class="r"/><rect x="424.74" y="576.08" width="20.50" height="6.41" class="d"/><rect x="445.18" y="576.08" width="5.16" height="6.41" class="k"/><rect x="450.30" y="576.08" width="5.16" height="6.41" class="h"/><rect x="455.41" y="576.08" width="5.16" height="6.41" class="d"/><rect x="460.52" y="576.08" width="5.16" height="6.41" class="h"/><rect x="465.63" y="576.08" width="15.39" height="6.41" class="g"/><rect x="480.97" y="576.08" width="5.16" height="6.41" class="d"/><rect x="486.08" y="576.08" width="5.16" height="6.41" class="k"/><rect x="491.19" y="576.08" width="5.16" height="6.41" class="d"/><rect x="496.30" y="576.08" width="20.50" height="6.41" class="g"/><rect x="516.75" y="576.08" width="10.27" height="6.41" class="h"/><rect x="526.98" y="576.08" width="5.16" height="6.41" class="g"/><rect x="532.09" y="576.08" width="5.16" height="6.41" class="h"/><rect x="537.20" y="576.08" width="5.16" height="6.41" class="g"/><rect x="542.31" y="576.08" width="5.16" height="6.41" class="d"/><rect x="547.42" y="576.08" width="5.16" height="6.41" class="g"/><rect x="552.54" y="576.08" width="5.16" height="6.41" class="h"/><rect x="557.65" y="576.08" width="5.16" height="6.41" class="g"/><rect x="562.76" y="576.08" width="5.16" height="6.41" class="h"/><rect x="567.87" y="576.08" width="5.16" height="6.41" class="g"/><rect x="26.00" y="582.44" width="5.16" height="6.41" class="r"/><rect x="31.11" y="582.44" width="5.16" height="6.41" class="d"/><rect x="36.22" y="582.44" width="5.16" height="6.41" class="h"/><rect x="41.34" y="582.44" width="5.16" height="6.41" class="k"/><rect x="46.45" y="582.44" width="5.16" height="6.41" class="G"/><rect x="51.56" y="582.44" width="10.27" height="6.41" class="d"/><rect x="61.78" y="582.44" width="5.16" height="6.41" class="r"/><rect x="66.90" y="582.44" width="5.16" height="6.41" class="d"/><rect x="72.01" y="582.44" width="5.16" height="6.41" class="r"/><rect x="77.12" y="582.44" width="5.16" height="6.41" class="d"/><rect x="82.23" y="582.44" width="5.16" height="6.41" class="k"/><rect x="87.34" y="582.44" width="10.27" height="6.41" class="d"/><rect x="97.57" y="582.44" width="5.16" height="6.41" class="h"/><rect x="102.68" y="582.44" width="5.16" height="6.41" class="g"/><rect x="107.79" y="582.44" width="5.16" height="6.41" class="G"/><rect x="112.90" y="582.44" width="5.16" height="6.41" class="k"/><rect x="118.02" y="582.44" width="5.16" height="6.41" class="G"/><rect x="123.13" y="582.44" width="5.16" height="6.41" class="g"/><rect x="128.24" y="582.44" width="10.27" height="6.41" class="r"/><rect x="138.46" y="582.44" width="5.16" height="6.41" class="d"/><rect x="143.58" y="582.44" width="5.16" height="6.41" class="k"/><rect x="148.69" y="582.44" width="5.16" height="6.41" class="r"/><rect x="153.80" y="582.44" width="5.16" height="6.41" class="g"/><rect x="158.91" y="582.44" width="5.16" height="6.41" class="d"/><rect x="164.02" y="582.44" width="10.27" height="6.41" class="g"/><rect x="174.25" y="582.44" width="5.16" height="6.41" class="d"/><rect x="179.36" y="582.44" width="5.16" height="6.41" class="r"/><rect x="184.47" y="582.44" width="20.50" height="6.41" class="d"/><rect x="204.92" y="582.44" width="5.16" height="6.41" class="r"/><rect x="210.03" y="582.44" width="10.27" height="6.41" class="h"/><rect x="220.26" y="582.44" width="5.16" height="6.41" class="k"/><rect x="225.37" y="582.44" width="5.16" height="6.41" class="d"/><rect x="230.48" y="582.44" width="5.16" height="6.41" class="k"/><rect x="235.59" y="582.44" width="5.16" height="6.41" class="r"/><rect x="240.70" y="582.44" width="5.16" height="6.41" class="k"/><rect x="245.82" y="582.44" width="15.39" height="6.41" class="r"/><rect x="261.15" y="582.44" width="5.16" height="6.41" class="g"/><rect x="266.26" y="582.44" width="5.16" height="6.41" class="h"/><rect x="271.38" y="582.44" width="5.16" height="6.41" class="G"/><rect x="276.49" y="582.44" width="5.16" height="6.41" class="d"/><rect x="281.60" y="582.44" width="5.16" height="6.41" class="h"/><rect x="286.71" y="582.44" width="5.16" height="6.41" class="d"/><rect x="291.82" y="582.44" width="10.27" height="6.41" class="g"/><rect x="302.05" y="582.44" width="5.16" height="6.41" class="k"/><rect x="307.16" y="582.44" width="10.27" height="6.41" class="g"/><rect x="317.38" y="582.44" width="5.16" height="6.41" class="d"/><rect x="322.50" y="582.44" width="5.16" height="6.41" class="G"/><rect x="327.61" y="582.44" width="5.16" height="6.41" class="g"/><rect x="332.72" y="582.44" width="5.16" height="6.41" class="h"/><rect x="337.83" y="582.44" width="5.16" height="6.41" class="r"/><rect x="342.94" y="582.44" width="10.27" height="6.41" class="k"/><rect x="353.17" y="582.44" width="5.16" height="6.41" class="g"/><rect x="358.28" y="582.44" width="5.16" height="6.41" class="k"/><rect x="363.39" y="582.44" width="5.16" height="6.41" class="d"/><rect x="368.50" y="582.44" width="5.16" height="6.41" class="r"/><rect x="373.62" y="582.44" width="5.16" height="6.41" class="R"/><rect x="378.73" y="582.44" width="5.16" height="6.41" class="d"/><rect x="383.84" y="582.44" width="5.16" height="6.41" class="h"/><rect x="388.95" y="582.44" width="5.16" height="6.41" class="r"/><rect x="394.06" y="582.44" width="5.16" height="6.41" class="k"/><rect x="399.18" y="582.44" width="5.16" height="6.41" class="r"/><rect x="404.29" y="582.44" width="10.27" height="6.41" class="d"/><rect x="414.51" y="582.44" width="5.16" height="6.41" class="r"/><rect x="419.62" y="582.44" width="5.16" height="6.41" class="g"/><rect x="424.74" y="582.44" width="5.16" height="6.41" class="d"/><rect x="429.85" y="582.44" width="5.16" height="6.41" class="r"/><rect x="434.96" y="582.44" width="10.27" height="6.41" class="h"/><rect x="445.18" y="582.44" width="15.39" height="6.41" class="r"/><rect x="460.52" y="582.44" width="5.16" height="6.41" class="d"/><rect x="465.63" y="582.44" width="5.16" height="6.41" class="g"/><rect x="470.74" y="582.44" width="5.16" height="6.41" class="k"/><rect x="475.86" y="582.44" width="5.16" height="6.41" class="h"/><rect x="480.97" y="582.44" width="5.16" height="6.41" class="g"/><rect x="486.08" y="582.44" width="5.16" height="6.41" class="d"/><rect x="491.19" y="582.44" width="5.16" height="6.41" class="k"/><rect x="496.30" y="582.44" width="10.27" height="6.41" class="G"/><rect x="506.53" y="582.44" width="5.16" height="6.41" class="g"/><rect x="511.64" y="582.44" width="5.16" height="6.41" class="h"/><rect x="516.75" y="582.44" width="10.27" height="6.41" class="G"/><rect x="526.98" y="582.44" width="5.16" height="6.41" class="h"/><rect x="532.09" y="582.44" width="10.27" height="6.41" class="G"/><rect x="542.31" y="582.44" width="5.16" height="6.41" class="g"/><rect x="547.42" y="582.44" width="15.39" height="6.41" class="G"/><rect x="562.76" y="582.44" width="10.27" height="6.41" class="g"/></g>
<text x="5.0" y="265" font-size="20.8" text-anchor="start" fill="#000" font-weight="bold" >b</text>
<text x="0" y="0" font-size="8" transform="translate(596,404.00) scale(1,1.06)">NOVELM00290M</text>
<text x="0" y="0" font-size="8" transform="translate(596,410.35) scale(1,1.06)">hsa-mir-10392-5p</text>
<text x="0" y="0" font-size="8" transform="translate(596,416.69) scale(1,1.06)">NOVELM00288M</text>
<text x="0" y="0" font-size="8" transform="translate(596,423.04) scale(1,1.06)">hsa-mir-10397-5p</text>
<text x="0" y="0" font-size="8" transform="translate(596,429.38) scale(1,1.06)">NOVELM00113M</text>
<text x="0" y="0" font-size="8" transform="translate(596,435.73) scale(1,1.06)">NOVELM00146M</text>
<text x="0" y="0" font-size="8" transform="translate(596,442.07) scale(1,1.06)">NOVELM00203M</text>
<text x="0" y="0" font-size="8" transform="translate(596,448.42) scale(1,1.06)">hsa-mir-10401-5p</text>
<text x="0" y="0" font-size="8" transform="translate(596,454.76) scale(1,1.06)">hsa-mir-10394-3p</text>
<text x="0" y="0" font-size="8" transform="translate(596,461.11) scale(1,1.06)">hsa-mir-10398-3p</text>
<text x="0" y="0" font-size="8" transform="translate(596,467.45) scale(1,1.06)">NOVELM00149M</text>
<text x="0" y="0" font-size="8" transform="translate(596,473.80) scale(1,1.06)">hsa-mir-10396b-5p</text>
<text x="0" y="0" font-size="8" transform="translate(596,480.14) scale(1,1.06)">NOVELM00078S</text>
<text x="0" y="0" font-size="8" transform="translate(596,486.49) scale(1,1.06)">NOVELM00289M</text>
<text x="0" y="0" font-size="8" transform="translate(596,492.83) scale(1,1.06)">hsa-mir-10396a-5p</text>
<text x="0" y="0" font-size="8" transform="translate(596,499.18) scale(1,1.06)">NOVELM00294M</text>
<text x="0" y="0" font-size="8" transform="translate(596,505.52) scale(1,1.06)">NOVELM00060M</text>
<text x="0" y="0" font-size="8" transform="translate(596,511.87) scale(1,1.06)">NOVELM00156M</text>
<text x="0" y="0" font-size="8" transform="translate(596,518.21) scale(1,1.06)">NOVELM00222M</text>
<text x="0" y="0" font-size="8" transform="translate(596,524.55) scale(1,1.06)">NOVELM00295S</text>
<text x="0" y="0" font-size="8" transform="translate(596,530.90) scale(1,1.06)">hsa-mir-10399-3p</text>
<text x="0" y="0" font-size="8" transform="translate(596,537.25) scale(1,1.06)">NOVELM00295M</text>
<text x="0" y="0" font-size="8" transform="translate(596,543.59) scale(1,1.06)">NOVELM00010M</text>
<text x="0" y="0" font-size="8" transform="translate(596,549.93) scale(1,1.06)">hsa-mir-10395-3p</text>
<text x="0" y="0" font-size="8" transform="translate(596,556.28) scale(1,1.06)">hsa-mir-10399-5p</text>
<text x="0" y="0" font-size="8" transform="translate(596,562.62) scale(1,1.06)">hsa-mir-10396a-3p</text>
<text x="0" y="0" font-size="8" transform="translate(596,568.97) scale(1,1.06)">NOVELM00173M</text>
<text x="0" y="0" font-size="8" transform="translate(596,575.32) scale(1,1.06)">hsa-mir-10396b-3p</text>
<text x="0" y="0" font-size="8" transform="translate(596,581.66) scale(1,1.06)">hsa-mir-10400-5p</text>
<text x="0" y="0" font-size="8" transform="translate(596,588.00) scale(1,1.06)">hsa-mir-10393-3p</text>
<path d="M578.6,398.8L580.9,401.1L578.6,403.40000000000003L576.3000000000001,401.1Z" fill="#fff" stroke="#000" stroke-width="1.55"/>
<path d="M578.6,405.15000000000003L580.9,407.45000000000005L578.6,409.75000000000006L576.3000000000001,407.45000000000005Z" fill="#fff" stroke="#000" stroke-width="1.55"/>
<path d="M578.6,411.5L580.9,413.8L578.6,416.1L576.3000000000001,413.8Z" fill="#fff" stroke="#000" stroke-width="1.55"/>
<path d="M578.6,417.85L580.9,420.15000000000003L578.6,422.45000000000005L576.3000000000001,420.15000000000003Z" fill="#fff" stroke="#000" stroke-width="1.55"/>
<path d="M578.6,424.2L580.9,426.5L578.6,428.8L576.3000000000001,426.5Z" fill="#fff" stroke="#000" stroke-width="1.55"/>
<circle cx="589.8" cy="413.80" r="2.5" fill="#000"/>
<circle cx="589.8" cy="420.15" r="2.5" fill="#000"/>
<path d="M578.4,582.15L581.5,585.25L578.4,588.35L575.3,585.25Z" fill="#000" stroke="#000" stroke-width="0.5"/>
<text x="0" y="0" font-size="10.5" text-anchor="middle" transform="translate(673.6,472.8) rotate(-90)">miRNA</text>
<text x="294.4" y="602" font-size="10.6" text-anchor="middle" fill="#000" font-weight="normal" >miRNA-seq Library</text>
<line x1="630.5" y1="262.8" x2="650.5" y2="262.8" stroke="#2a5ab0" stroke-width="6.4" stroke-linecap="round"/>
<text x="657.3" y="266.7" font-size="11.3" text-anchor="start" fill="#000" font-weight="normal" >ABC−DLBCL</text>
<line x1="630.5" y1="275.1" x2="650.5" y2="275.1" stroke="#a9d7e6" stroke-width="6.4" stroke-linecap="round"/>
<text x="657.3" y="279.0" font-size="11.3" text-anchor="start" fill="#000" font-weight="normal" >GCB−DLBCL</text>
<line x1="630.5" y1="287.2" x2="650.5" y2="287.2" stroke="#bfbfc3" stroke-width="6.4" stroke-linecap="round"/>
<text x="657.3" y="291.09999999999997" font-size="11.3" text-anchor="start" fill="#000" font-weight="normal" >Unclass −DLBCL</text>
<line x1="630.5" y1="299.6" x2="650.5" y2="299.6" stroke="#fb9a1e" stroke-width="6.4" stroke-linecap="round"/>
<text x="657.3" y="303.5" font-size="11.3" text-anchor="start" fill="#000" font-weight="normal" >Centroblasts</text>
<text x="683.3" y="322.0" font-size="11.4" text-anchor="middle" fill="#000" font-weight="normal" >Significant at q-value &lt; 0.05</text>
<line x1="598" y1="325.8" x2="769" y2="325.8" stroke="#000" stroke-width="1"/>
<path d="M608.3,329.6L611.3,332.6L608.3,335.6L605.3,332.6Z" fill="#000" stroke="#000" stroke-width="0.5"/>
<text x="619" y="338.0" font-size="11.25" text-anchor="start" fill="#000" font-weight="normal" >Up in DLBCL vs Centroblasts</text>
<path d="M608.3,343.9L610.8,346.4L608.3,348.9L605.8,346.4Z" fill="#fff" stroke="#000" stroke-width="1.3"/>
<text x="619" y="351.8" font-size="11.25" text-anchor="start" fill="#000" font-weight="normal" >Up in Centroblasts vs DLBCL</text>
<circle cx="608.3" cy="359.6" r="2.4" fill="#000"/>
<text x="619" y="365.6" font-size="11.25" text-anchor="start" fill="#000" font-weight="normal" >Up in ABC vs GCB</text>
<defs><linearGradient id="cs" x1="0" y1="0" x2="0" y2="1"><stop offset="0" stop-color="#ff0000"/><stop offset="0.5" stop-color="#000000"/><stop offset="1" stop-color="#00ff00"/></linearGradient></defs>
<rect x="703.4" y="409.6" width="24.7" height="160.4" fill="url(#cs)" stroke="#000" stroke-width="0.8"/>
<line x1="728.1" y1="414.4" x2="730.5" y2="414.4" stroke="#000" stroke-width="0.8"/>
<text x="730.3" y="418.2" font-size="10.4" text-anchor="start" fill="#000" font-weight="normal" >3</text>
<line x1="728.1" y1="439.8" x2="730.5" y2="439.8" stroke="#000" stroke-width="0.8"/>
<text x="730.3" y="443.59999999999997" font-size="10.4" text-anchor="start" fill="#000" font-weight="normal" >2</text>
<line x1="728.1" y1="465.2" x2="730.5" y2="465.2" stroke="#000" stroke-width="0.8"/>
<text x="730.3" y="469.0" font-size="10.4" text-anchor="start" fill="#000" font-weight="normal" >1</text>
<line x1="728.1" y1="490.6" x2="730.5" y2="490.6" stroke="#000" stroke-width="0.8"/>
<text x="730.3" y="494.4" font-size="10.4" text-anchor="start" fill="#000" font-weight="normal" >0</text>
<line x1="728.1" y1="516.0" x2="730.5" y2="516.0" stroke="#000" stroke-width="0.8"/>
<text x="730.3" y="519.8" font-size="10.4" text-anchor="start" fill="#000" font-weight="normal" >-1</text>
<line x1="728.1" y1="541.4" x2="730.5" y2="541.4" stroke="#000" stroke-width="0.8"/>
<text x="730.3" y="545.1999999999999" font-size="10.4" text-anchor="start" fill="#000" font-weight="normal" >-2</text>
<line x1="728.1" y1="566.8" x2="730.5" y2="566.8" stroke="#000" stroke-width="0.8"/>
<text x="730.3" y="570.5999999999999" font-size="10.4" text-anchor="start" fill="#000" font-weight="normal" >-3</text>
<text x="0" y="0" font-size="12.1" text-anchor="middle" transform="translate(698,489.6) rotate(-90)">miRNA Exp (Z-score)</text>
<text x="0.2" y="654" font-size="17.5" text-anchor="start" fill="#000" font-weight="bold" >c</text>
<line x1="50.4" y1="724.20" x2="50.4" y2="659.80" stroke="#000" stroke-width="1"/>
<line x1="46.6" y1="724.20" x2="50.4" y2="724.20" stroke="#000" stroke-width="1"/>
<text x="0" y="0" font-size="7.7" text-anchor="middle" fill="#222" transform="translate(42.00,724.20) rotate(-90)">0</text>
<line x1="46.6" y1="711.32" x2="50.4" y2="711.32" stroke="#000" stroke-width="1"/>
<text x="0" y="0" font-size="7.7" text-anchor="middle" fill="#222" transform="translate(42.00,711.32) rotate(-90)">1</text>
<line x1="46.6" y1="698.44" x2="50.4" y2="698.44" stroke="#000" stroke-width="1"/>
<text x="0" y="0" font-size="7.7" text-anchor="middle" fill="#222" transform="translate(42.00,698.44) rotate(-90)">2</text>
<line x1="46.6" y1="685.56" x2="50.4" y2="685.56" stroke="#000" stroke-width="1"/>
<text x="0" y="0" font-size="7.7" text-anchor="middle" fill="#222" transform="translate(42.00,685.56) rotate(-90)">3</text>
<line x1="46.6" y1="672.68" x2="50.4" y2="672.68" stroke="#000" stroke-width="1"/>
<text x="0" y="0" font-size="7.7" text-anchor="middle" fill="#222" transform="translate(42.00,672.68) rotate(-90)">4</text>
<line x1="46.6" y1="659.80" x2="50.4" y2="659.80" stroke="#000" stroke-width="1"/>
<text x="0" y="0" font-size="7.7" text-anchor="middle" fill="#222" transform="translate(42.00,659.80) rotate(-90)">5</text>
<text x="0" y="0" font-size="10.6" text-anchor="middle" transform="translate(18.4,688.10) rotate(-90)">Expression</text>
<text x="0" y="0" font-size="10.6" text-anchor="middle" transform="translate(30.0,688.10) rotate(-90)">(log2 RPM)</text>
<text x="394" y="652.5" font-size="13.2" text-anchor="middle" fill="#000" font-weight="normal" >NOVELM00010M</text>
<line x1="81.30" y1="677.19" x2="81.30" y2="669.72" stroke="#000" stroke-width="1" stroke-dasharray="1.6,1.6"/>
<line x1="81.30" y1="704.62" x2="81.30" y2="724.20" stroke="#000" stroke-width="1" stroke-dasharray="1.6,1.6"/>
<line x1="75.70" y1="669.72" x2="86.90" y2="669.72" stroke="#000" stroke-width="1.1"/>
<line x1="75.70" y1="724.20" x2="86.90" y2="724.20" stroke="#000" stroke-width="1.1"/>
<rect x="70.30" y="677.19" width="22.0" height="27.43" fill="none" stroke="#000" stroke-width="1.1"/>
<line x1="70.30" y1="680.15" x2="92.30" y2="680.15" stroke="#000" stroke-width="2.5"/>
<line x1="108.60" y1="679.12" x2="108.60" y2="652.46" stroke="#000" stroke-width="1" stroke-dasharray="1.6,1.6"/>
<line x1="108.60" y1="706.04" x2="108.60" y2="724.20" stroke="#000" stroke-width="1" stroke-dasharray="1.6,1.6"/>
<line x1="103.00" y1="652.46" x2="114.20" y2="652.46" stroke="#000" stroke-width="1.1"/>
<line x1="103.00" y1="724.20" x2="114.20" y2="724.20" stroke="#000" stroke-width="1.1"/>
<rect x="97.60" y="679.12" width="22.0" height="26.92" fill="none" stroke="#000" stroke-width="1.1"/>
<line x1="97.60" y1="686.85" x2="119.60" y2="686.85" stroke="#000" stroke-width="2.5"/>
<line x1="125.00" y1="724.20" x2="147.00" y2="724.20" stroke="#000" stroke-width="2.6"/>
<line x1="151.84" y1="724.20" x2="173.84" y2="724.20" stroke="#000" stroke-width="2.6"/>
<line x1="179.02" y1="724.20" x2="201.02" y2="724.20" stroke="#000" stroke-width="2.6"/>
<line x1="206.20" y1="724.20" x2="228.20" y2="724.20" stroke="#000" stroke-width="2.6"/>
<line x1="233.38" y1="724.20" x2="255.38" y2="724.20" stroke="#000" stroke-width="2.6"/>
<line x1="260.56" y1="724.20" x2="282.56" y2="724.20" stroke="#000" stroke-width="2.6"/>
<line x1="287.74" y1="724.20" x2="309.74" y2="724.20" stroke="#000" stroke-width="2.6"/>
<line x1="314.92" y1="724.20" x2="336.92" y2="724.20" stroke="#000" stroke-width="2.6"/>
<line x1="342.10" y1="724.20" x2="364.10" y2="724.20" stroke="#000" stroke-width="2.6"/>
<line x1="369.28" y1="724.20" x2="391.28" y2="724.20" stroke="#000" stroke-width="2.6"/>
<line x1="396.46" y1="724.20" x2="418.46" y2="724.20" stroke="#000" stroke-width="2.6"/>
<line x1="423.64" y1="724.20" x2="445.64" y2="724.20" stroke="#000" stroke-width="2.6"/>
<line x1="450.82" y1="724.20" x2="472.82" y2="724.20" stroke="#000" stroke-width="2.6"/>
<line x1="478.00" y1="724.20" x2="500.00" y2="724.20" stroke="#000" stroke-width="2.6"/>
<line x1="505.18" y1="724.20" x2="527.18" y2="724.20" stroke="#000" stroke-width="2.6"/>
<line x1="532.36" y1="724.20" x2="554.36" y2="724.20" stroke="#000" stroke-width="2.6"/>
<line x1="559.54" y1="724.20" x2="581.54" y2="724.20" stroke="#000" stroke-width="2.6"/>
<line x1="586.72" y1="724.20" x2="608.72" y2="724.20" stroke="#000" stroke-width="2.6"/>
<line x1="613.90" y1="724.20" x2="635.90" y2="724.20" stroke="#000" stroke-width="2.6"/>
<line x1="641.08" y1="724.20" x2="663.08" y2="724.20" stroke="#000" stroke-width="2.6"/>
<line x1="668.26" y1="724.20" x2="690.26" y2="724.20" stroke="#000" stroke-width="2.6"/>
<line x1="695.44" y1="724.20" x2="717.44" y2="724.20" stroke="#000" stroke-width="2.6"/>
<g><circle cx="79.3" cy="724.2" r="1.35" fill="#f7950f"/><circle cx="81.0" cy="724.2" r="1.35" fill="#f7950f"/><circle cx="82.8" cy="724.2" r="1.35" fill="#f7950f"/><circle cx="82.5" cy="724.2" r="1.35" fill="#f7950f"/><circle cx="82.6" cy="684.3" r="1.35" fill="#f7950f"/><circle cx="80.9" cy="683.0" r="1.35" fill="#f7950f"/><circle cx="83.0" cy="681.7" r="1.35" fill="#f7950f"/><circle cx="81.5" cy="680.4" r="1.35" fill="#f7950f"/><circle cx="78.9" cy="680.2" r="1.35" fill="#f7950f"/><circle cx="81.1" cy="679.1" r="1.35" fill="#f7950f"/><circle cx="78.8" cy="677.8" r="1.35" fill="#f7950f"/><circle cx="83.7" cy="677.2" r="1.35" fill="#f7950f"/><circle cx="83.8" cy="675.3" r="1.35" fill="#f7950f"/><circle cx="80.4" cy="672.7" r="1.35" fill="#f7950f"/><circle cx="80.2" cy="669.7" r="1.35" fill="#f7950f"/><circle cx="106.6" cy="723.3" r="1.35" fill="#17589f"/><circle cx="106.3" cy="722.8" r="1.35" fill="#17589f"/><circle cx="111.0" cy="721.7" r="1.35" fill="#17589f"/><circle cx="108.1" cy="720.5" r="1.35" fill="#17589f"/><circle cx="108.8" cy="719.2" r="1.35" fill="#17589f"/><circle cx="108.5" cy="717.7" r="1.35" fill="#17589f"/><circle cx="107.8" cy="716.1" r="1.35" fill="#17589f"/><circle cx="108.4" cy="715.9" r="1.35" fill="#17589f"/><circle cx="106.9" cy="713.7" r="1.35" fill="#17589f"/><circle cx="109.0" cy="713.1" r="1.35" fill="#17589f"/><circle cx="107.3" cy="711.5" r="1.35" fill="#17589f"/><circle cx="106.7" cy="710.4" r="1.35" fill="#17589f"/><circle cx="107.0" cy="710.1" r="1.35" fill="#17589f"/><circle cx="108.1" cy="708.3" r="1.35" fill="#17589f"/><circle cx="110.9" cy="707.8" r="1.35" fill="#17589f"/><circle cx="109.1" cy="706.8" r="1.35" fill="#17589f"/><circle cx="111.2" cy="705.6" r="1.35" fill="#17589f"/><circle cx="108.1" cy="704.5" r="1.35" fill="#17589f"/><circle cx="107.3" cy="704.1" r="1.35" fill="#17589f"/><circle cx="109.7" cy="704.0" r="1.35" fill="#17589f"/><circle cx="106.9" cy="702.5" r="1.35" fill="#17589f"/><circle cx="111.3" cy="701.8" r="1.35" fill="#17589f"/><circle cx="108.0" cy="702.0" r="1.35" fill="#17589f"/><circle cx="107.4" cy="701.1" r="1.35" fill="#17589f"/><circle cx="107.4" cy="700.3" r="1.35" fill="#17589f"/><circle cx="107.5" cy="699.3" r="1.35" fill="#17589f"/><circle cx="111.0" cy="699.7" r="1.35" fill="#17589f"/><circle cx="111.3" cy="698.5" r="1.35" fill="#17589f"/><circle cx="108.9" cy="697.3" r="1.35" fill="#17589f"/><circle cx="107.2" cy="697.1" r="1.35" fill="#17589f"/><circle cx="106.0" cy="696.4" r="1.35" fill="#17589f"/><circle cx="106.3" cy="695.7" r="1.35" fill="#17589f"/><circle cx="107.5" cy="695.4" r="1.35" fill="#17589f"/><circle cx="109.4" cy="695.0" r="1.35" fill="#17589f"/><circle cx="109.3" cy="694.0" r="1.35" fill="#17589f"/><circle cx="110.5" cy="693.4" r="1.35" fill="#17589f"/><circle cx="110.3" cy="693.1" r="1.35" fill="#17589f"/><circle cx="107.8" cy="691.8" r="1.35" fill="#17589f"/><circle cx="109.5" cy="691.8" r="1.35" fill="#17589f"/><circle cx="108.3" cy="691.0" r="1.35" fill="#17589f"/><circle cx="109.8" cy="690.0" r="1.35" fill="#17589f"/><circle cx="106.9" cy="689.3" r="1.35" fill="#17589f"/><circle cx="111.2" cy="688.6" r="1.35" fill="#17589f"/><circle cx="106.0" cy="688.2" r="1.35" fill="#17589f"/><circle cx="109.2" cy="688.1" r="1.35" fill="#17589f"/><circle cx="107.8" cy="686.7" r="1.35" fill="#17589f"/><circle cx="110.2" cy="686.2" r="1.35" fill="#17589f"/><circle cx="106.7" cy="686.2" r="1.35" fill="#17589f"/><circle cx="110.7" cy="685.9" r="1.35" fill="#17589f"/><circle cx="105.9" cy="685.9" r="1.35" fill="#17589f"/><circle cx="109.9" cy="685.7" r="1.35" fill="#17589f"/><circle cx="109.7" cy="685.3" r="1.35" fill="#17589f"/><circle cx="108.6" cy="685.6" r="1.35" fill="#17589f"/><circle cx="106.8" cy="684.7" r="1.35" fill="#17589f"/><circle cx="108.0" cy="684.2" r="1.35" fill="#17589f"/><circle cx="108.3" cy="684.9" r="1.35" fill="#17589f"/><circle cx="107.0" cy="683.8" r="1.35" fill="#17589f"/><circle cx="106.8" cy="683.7" r="1.35" fill="#17589f"/><circle cx="110.4" cy="684.2" r="1.35" fill="#17589f"/><circle cx="108.9" cy="684.0" r="1.35" fill="#17589f"/><circle cx="107.4" cy="683.0" r="1.35" fill="#17589f"/><circle cx="109.3" cy="683.3" r="1.35" fill="#17589f"/><circle cx="109.3" cy="682.9" r="1.35" fill="#17589f"/><circle cx="106.6" cy="682.2" r="1.35" fill="#17589f"/><circle cx="109.1" cy="681.9" r="1.35" fill="#17589f"/><circle cx="109.1" cy="681.6" r="1.35" fill="#17589f"/><circle cx="106.5" cy="681.5" r="1.35" fill="#17589f"/><circle cx="107.5" cy="681.6" r="1.35" fill="#17589f"/><circle cx="110.6" cy="681.7" r="1.35" fill="#17589f"/><circle cx="109.0" cy="681.4" r="1.35" fill="#17589f"/><circle cx="107.1" cy="681.0" r="1.35" fill="#17589f"/><circle cx="108.0" cy="680.3" r="1.35" fill="#17589f"/><circle cx="108.4" cy="679.8" r="1.35" fill="#17589f"/><circle cx="109.7" cy="680.2" r="1.35" fill="#17589f"/><circle cx="110.5" cy="679.7" r="1.35" fill="#17589f"/><circle cx="106.4" cy="678.8" r="1.35" fill="#17589f"/><circle cx="106.2" cy="679.0" r="1.35" fill="#17589f"/><circle cx="108.3" cy="676.9" r="1.35" fill="#17589f"/><circle cx="106.0" cy="675.3" r="1.35" fill="#17589f"/><circle cx="106.7" cy="673.6" r="1.35" fill="#17589f"/><circle cx="106.5" cy="672.1" r="1.35" fill="#17589f"/><circle cx="106.4" cy="670.3" r="1.35" fill="#17589f"/><circle cx="109.3" cy="668.4" r="1.35" fill="#17589f"/><circle cx="106.4" cy="667.4" r="1.35" fill="#17589f"/><circle cx="109.0" cy="664.9" r="1.35" fill="#17589f"/><circle cx="111.1" cy="663.1" r="1.35" fill="#17589f"/><circle cx="106.7" cy="662.4" r="1.35" fill="#17589f"/><circle cx="110.0" cy="660.5" r="1.35" fill="#17589f"/><circle cx="109.1" cy="658.7" r="1.35" fill="#17589f"/><circle cx="106.8" cy="657.2" r="1.35" fill="#17589f"/><circle cx="111.0" cy="655.5" r="1.35" fill="#17589f"/><circle cx="109.9" cy="653.1" r="1.35" fill="#17589f"/><circle cx="135.2" cy="724.2" r="1.35" fill="#17589f"/><circle cx="138.5" cy="724.2" r="1.35" fill="#17589f"/><circle cx="133.5" cy="724.2" r="1.35" fill="#17589f"/><circle cx="138.1" cy="724.2" r="1.35" fill="#17589f"/><circle cx="138.2" cy="724.2" r="1.35" fill="#17589f"/><circle cx="133.5" cy="724.2" r="1.35" fill="#17589f"/><circle cx="138.7" cy="724.2" r="1.35" fill="#17589f"/><circle cx="137.8" cy="724.2" r="1.35" fill="#17589f"/><circle cx="138.7" cy="724.2" r="1.35" fill="#17589f"/><circle cx="134.6" cy="724.2" r="1.35" fill="#17589f"/><circle cx="137.5" cy="724.2" r="1.35" fill="#17589f"/><circle cx="137.8" cy="724.2" r="1.35" fill="#17589f"/><circle cx="135.0" cy="724.2" r="1.35" fill="#17589f"/><circle cx="133.0" cy="724.2" r="1.35" fill="#17589f"/><circle cx="132.9" cy="724.2" r="1.35" fill="#17589f"/><circle cx="136.0" cy="724.2" r="1.35" fill="#17589f"/><circle cx="136.3" cy="724.2" r="1.35" fill="#17589f"/><circle cx="160.4" cy="703.6" r="1.35" fill="#b9b9b9"/><circle cx="165.2" cy="708.4" r="1.35" fill="#b9b9b9"/><circle cx="160.6" cy="720.1" r="1.35" fill="#b9b9b9"/><circle cx="162.3" cy="720.8" r="1.35" fill="#b9b9b9"/><circle cx="163.7" cy="721.5" r="1.35" fill="#b9b9b9"/><circle cx="188.3" cy="684.6" r="1.35" fill="#b9b9b9"/><circle cx="190.9" cy="695.8" r="1.35" fill="#b9b9b9"/><circle cx="187.8" cy="700.4" r="1.35" fill="#b9b9b9"/><circle cx="189.2" cy="703.6" r="1.35" fill="#b9b9b9"/><circle cx="192.8" cy="704.4" r="1.35" fill="#b9b9b9"/><circle cx="192.6" cy="708.9" r="1.35" fill="#b9b9b9"/><circle cx="190.2" cy="712.9" r="1.35" fill="#b9b9b9"/><circle cx="189.0" cy="715.1" r="1.35" fill="#b9b9b9"/><circle cx="189.5" cy="717.2" r="1.35" fill="#b9b9b9"/><circle cx="188.0" cy="718.7" r="1.35" fill="#b9b9b9"/><circle cx="191.0" cy="720.1" r="1.35" fill="#b9b9b9"/><circle cx="189.0" cy="721.5" r="1.35" fill="#b9b9b9"/><circle cx="187.5" cy="722.0" r="1.35" fill="#b9b9b9"/><circle cx="190.0" cy="722.5" r="1.35" fill="#b9b9b9"/><circle cx="188.5" cy="711.0" r="1.35" fill="#b9b9b9"/><circle cx="191.5" cy="714.0" r="1.35" fill="#b9b9b9"/><circle cx="190.5" cy="719.0" r="1.35" fill="#b9b9b9"/><circle cx="217.1" cy="687.5" r="1.35" fill="#b9b9b9"/><circle cx="215.2" cy="704.6" r="1.35" fill="#b9b9b9"/><circle cx="215.8" cy="706.5" r="1.35" fill="#b9b9b9"/><circle cx="216.4" cy="708.4" r="1.35" fill="#b9b9b9"/><circle cx="219.8" cy="711.2" r="1.35" fill="#b9b9b9"/><circle cx="217.7" cy="719.7" r="1.35" fill="#b9b9b9"/><circle cx="215.0" cy="721.5" r="1.35" fill="#b9b9b9"/><circle cx="245.3" cy="658.6" r="1.35" fill="#b9b9b9"/><circle cx="245.6" cy="673.3" r="1.35" fill="#b9b9b9"/><circle cx="243.6" cy="688.6" r="1.35" fill="#b9b9b9"/><circle cx="244.7" cy="695.5" r="1.35" fill="#b9b9b9"/><circle cx="246.7" cy="700.1" r="1.35" fill="#b9b9b9"/><circle cx="243.9" cy="700.4" r="1.35" fill="#b9b9b9"/><circle cx="242.4" cy="704.4" r="1.35" fill="#b9b9b9"/><circle cx="243.1" cy="707.2" r="1.35" fill="#b9b9b9"/><circle cx="245.3" cy="710.1" r="1.35" fill="#b9b9b9"/><circle cx="244.0" cy="712.2" r="1.35" fill="#b9b9b9"/><circle cx="246.7" cy="712.9" r="1.35" fill="#b9b9b9"/><circle cx="243.1" cy="715.8" r="1.35" fill="#b9b9b9"/><circle cx="245.3" cy="718.0" r="1.35" fill="#b9b9b9"/><circle cx="242.4" cy="720.1" r="1.35" fill="#b9b9b9"/><circle cx="246.7" cy="720.8" r="1.35" fill="#b9b9b9"/><circle cx="244.0" cy="721.5" r="1.35" fill="#b9b9b9"/><circle cx="243.0" cy="702.0" r="1.35" fill="#b9b9b9"/><circle cx="245.5" cy="705.0" r="1.35" fill="#b9b9b9"/><circle cx="244.5" cy="709.0" r="1.35" fill="#b9b9b9"/><circle cx="242.8" cy="713.5" r="1.35" fill="#b9b9b9"/><circle cx="246.0" cy="716.5" r="1.35" fill="#b9b9b9"/><circle cx="244.2" cy="719.0" r="1.35" fill="#b9b9b9"/><circle cx="243.5" cy="722.5" r="1.35" fill="#b9b9b9"/><circle cx="245.8" cy="722.5" r="1.35" fill="#b9b9b9"/><circle cx="269.4" cy="651.4" r="1.35" fill="#b9b9b9"/><circle cx="269.4" cy="691.5" r="1.35" fill="#b9b9b9"/><circle cx="272.3" cy="695.5" r="1.35" fill="#b9b9b9"/><circle cx="271.6" cy="698.6" r="1.35" fill="#b9b9b9"/><circle cx="270.9" cy="699.5" r="1.35" fill="#b9b9b9"/><circle cx="271.6" cy="705.1" r="1.35" fill="#b9b9b9"/><circle cx="270.2" cy="708.7" r="1.35" fill="#b9b9b9"/><circle cx="271.6" cy="710.0" r="1.35" fill="#b9b9b9"/><circle cx="270.2" cy="714.4" r="1.35" fill="#b9b9b9"/><circle cx="272.3" cy="715.5" r="1.35" fill="#b9b9b9"/><circle cx="273.0" cy="717.2" r="1.35" fill="#b9b9b9"/><circle cx="271.6" cy="718.7" r="1.35" fill="#b9b9b9"/><circle cx="270.9" cy="720.1" r="1.35" fill="#b9b9b9"/><circle cx="269.4" cy="721.5" r="1.35" fill="#b9b9b9"/><circle cx="272.3" cy="720.8" r="1.35" fill="#b9b9b9"/><circle cx="300.9" cy="710.1" r="1.35" fill="#b9b9b9"/><circle cx="298.5" cy="717.7" r="1.35" fill="#b9b9b9"/><circle cx="300.9" cy="721.5" r="1.35" fill="#b9b9b9"/><circle cx="323.4" cy="704.4" r="1.35" fill="#b9b9b9"/><circle cx="324.8" cy="704.4" r="1.35" fill="#b9b9b9"/><circle cx="328.1" cy="704.4" r="1.35" fill="#b9b9b9"/><circle cx="323.8" cy="710.1" r="1.35" fill="#b9b9b9"/><circle cx="323.8" cy="715.5" r="1.35" fill="#b9b9b9"/><circle cx="323.4" cy="719.0" r="1.35" fill="#b9b9b9"/><circle cx="326.7" cy="721.2" r="1.35" fill="#b9b9b9"/><circle cx="325.2" cy="721.8" r="1.35" fill="#b9b9b9"/><circle cx="409.1" cy="672.2" r="1.35" fill="#b9b9b9"/><circle cx="409.9" cy="673.2" r="1.35" fill="#b9b9b9"/><circle cx="434.5" cy="694.6" r="1.35" fill="#b9b9b9"/><circle cx="434.8" cy="701.2" r="1.35" fill="#b9b9b9"/><circle cx="437.4" cy="700.4" r="1.35" fill="#b9b9b9"/><circle cx="433.1" cy="707.2" r="1.35" fill="#b9b9b9"/><circle cx="437.8" cy="707.5" r="1.35" fill="#b9b9b9"/><circle cx="434.1" cy="710.1" r="1.35" fill="#b9b9b9"/><circle cx="434.5" cy="713.7" r="1.35" fill="#b9b9b9"/><circle cx="433.8" cy="715.8" r="1.35" fill="#b9b9b9"/><circle cx="433.1" cy="718.0" r="1.35" fill="#b9b9b9"/><circle cx="435.2" cy="719.4" r="1.35" fill="#b9b9b9"/><circle cx="433.8" cy="720.8" r="1.35" fill="#b9b9b9"/><circle cx="436.7" cy="721.2" r="1.35" fill="#b9b9b9"/><circle cx="461.7" cy="698.6" r="1.35" fill="#b9b9b9"/><circle cx="461.7" cy="705.1" r="1.35" fill="#b9b9b9"/><circle cx="463.6" cy="705.1" r="1.35" fill="#b9b9b9"/><circle cx="459.6" cy="708.7" r="1.35" fill="#b9b9b9"/><circle cx="459.6" cy="712.9" r="1.35" fill="#b9b9b9"/><circle cx="461.7" cy="713.2" r="1.35" fill="#b9b9b9"/><circle cx="461.0" cy="718.0" r="1.35" fill="#b9b9b9"/><circle cx="462.4" cy="720.1" r="1.35" fill="#b9b9b9"/><circle cx="463.1" cy="721.5" r="1.35" fill="#b9b9b9"/><circle cx="490.9" cy="681.5" r="1.35" fill="#b9b9b9"/><circle cx="487.7" cy="694.6" r="1.35" fill="#b9b9b9"/><circle cx="487.3" cy="703.6" r="1.35" fill="#b9b9b9"/><circle cx="489.4" cy="704.1" r="1.35" fill="#b9b9b9"/><circle cx="491.6" cy="704.4" r="1.35" fill="#b9b9b9"/><circle cx="487.3" cy="707.2" r="1.35" fill="#b9b9b9"/><circle cx="490.9" cy="707.5" r="1.35" fill="#b9b9b9"/><circle cx="488.0" cy="710.8" r="1.35" fill="#b9b9b9"/><circle cx="490.2" cy="711.8" r="1.35" fill="#b9b9b9"/><circle cx="488.7" cy="714.4" r="1.35" fill="#b9b9b9"/><circle cx="491.6" cy="715.1" r="1.35" fill="#b9b9b9"/><circle cx="487.3" cy="717.2" r="1.35" fill="#b9b9b9"/><circle cx="490.2" cy="718.0" r="1.35" fill="#b9b9b9"/><circle cx="488.7" cy="720.1" r="1.35" fill="#b9b9b9"/><circle cx="491.6" cy="720.4" r="1.35" fill="#b9b9b9"/><circle cx="489.4" cy="721.5" r="1.35" fill="#b9b9b9"/><circle cx="542.4" cy="707.9" r="1.35" fill="#b9b9b9"/><circle cx="545.2" cy="706.9" r="1.35" fill="#b9b9b9"/><circle cx="545.5" cy="715.1" r="1.35" fill="#b9b9b9"/><circle cx="542.4" cy="720.8" r="1.35" fill="#b9b9b9"/><circle cx="544.1" cy="720.4" r="1.35" fill="#b9b9b9"/><circle cx="568.4" cy="680.0" r="1.35" fill="#b9b9b9"/><circle cx="569.6" cy="691.2" r="1.35" fill="#b9b9b9"/><circle cx="572.1" cy="704.1" r="1.35" fill="#b9b9b9"/><circle cx="572.7" cy="715.1" r="1.35" fill="#b9b9b9"/><circle cx="568.1" cy="719.4" r="1.35" fill="#b9b9b9"/><circle cx="569.6" cy="720.1" r="1.35" fill="#b9b9b9"/><circle cx="572.4" cy="719.4" r="1.35" fill="#b9b9b9"/><circle cx="571.0" cy="718.7" r="1.35" fill="#b9b9b9"/><circle cx="623.1" cy="703.1" r="1.35" fill="#b9b9b9"/><circle cx="626.8" cy="706.4" r="1.35" fill="#b9b9b9"/><circle cx="624.2" cy="719.8" r="1.35" fill="#b9b9b9"/><circle cx="652.1" cy="699.8" r="1.35" fill="#b9b9b9"/><circle cx="654.5" cy="706.4" r="1.35" fill="#b9b9b9"/><circle cx="654.9" cy="708.1" r="1.35" fill="#b9b9b9"/><circle cx="653.2" cy="715.8" r="1.35" fill="#b9b9b9"/><circle cx="651.0" cy="720.2" r="1.35" fill="#b9b9b9"/><circle cx="650.1" cy="721.3" r="1.35" fill="#b9b9b9"/><circle cx="651.6" cy="721.8" r="1.35" fill="#b9b9b9"/><circle cx="678.0" cy="708.6" r="1.35" fill="#b9b9b9"/><circle cx="678.7" cy="710.3" r="1.35" fill="#b9b9b9"/><circle cx="678.0" cy="715.8" r="1.35" fill="#b9b9b9"/><circle cx="681.3" cy="718.0" r="1.35" fill="#b9b9b9"/><circle cx="677.0" cy="720.9" r="1.35" fill="#b9b9b9"/><circle cx="679.1" cy="721.8" r="1.35" fill="#b9b9b9"/><circle cx="705.0" cy="677.8" r="1.35" fill="#b9b9b9"/><circle cx="708.8" cy="680.7" r="1.35" fill="#b9b9b9"/><circle cx="707.0" cy="682.9" r="1.35" fill="#b9b9b9"/><circle cx="707.0" cy="695.4" r="1.35" fill="#b9b9b9"/><circle cx="708.1" cy="698.2" r="1.35" fill="#b9b9b9"/><circle cx="706.2" cy="704.2" r="1.35" fill="#b9b9b9"/><circle cx="706.6" cy="705.5" r="1.35" fill="#b9b9b9"/><circle cx="705.0" cy="708.6" r="1.35" fill="#b9b9b9"/><circle cx="708.8" cy="709.2" r="1.35" fill="#b9b9b9"/><circle cx="705.5" cy="712.5" r="1.35" fill="#b9b9b9"/><circle cx="706.6" cy="718.0" r="1.35" fill="#b9b9b9"/><circle cx="708.1" cy="717.4" r="1.35" fill="#b9b9b9"/><circle cx="704.4" cy="719.6" r="1.35" fill="#b9b9b9"/><circle cx="705.5" cy="720.9" r="1.35" fill="#b9b9b9"/></g>
<line x1="49.2" y1="832.20" x2="49.2" y2="762.40" stroke="#000" stroke-width="1"/>
<line x1="45.400000000000006" y1="832.20" x2="49.2" y2="832.20" stroke="#000" stroke-width="1"/>
<text x="0" y="0" font-size="7.7" text-anchor="middle" fill="#222" transform="translate(40.50,832.20) rotate(-90)">0</text>
<line x1="45.400000000000006" y1="814.75" x2="49.2" y2="814.75" stroke="#000" stroke-width="1"/>
<text x="0" y="0" font-size="7.7" text-anchor="middle" fill="#222" transform="translate(40.50,814.75) rotate(-90)">1</text>
<line x1="45.400000000000006" y1="797.30" x2="49.2" y2="797.30" stroke="#000" stroke-width="1"/>
<text x="0" y="0" font-size="7.7" text-anchor="middle" fill="#222" transform="translate(40.50,797.30) rotate(-90)">2</text>
<line x1="45.400000000000006" y1="779.85" x2="49.2" y2="779.85" stroke="#000" stroke-width="1"/>
<text x="0" y="0" font-size="7.7" text-anchor="middle" fill="#222" transform="translate(40.50,779.85) rotate(-90)">3</text>
<line x1="45.400000000000006" y1="762.40" x2="49.2" y2="762.40" stroke="#000" stroke-width="1"/>
<text x="0" y="0" font-size="7.7" text-anchor="middle" fill="#222" transform="translate(40.50,762.40) rotate(-90)">4</text>
<text x="0" y="0" font-size="10.6" text-anchor="middle" transform="translate(18.7,798.00) rotate(-90)">Expression</text>
<text x="0" y="0" font-size="10.6" text-anchor="middle" transform="translate(30.0,798.00) rotate(-90)">(log2 RPM)</text>
<text x="394" y="760.5" font-size="13.2" text-anchor="middle" fill="#000" font-weight="normal" >hsa-mir-10398-3p</text>
<line x1="79.80" y1="769.73" x2="79.80" y2="768.16" stroke="#000" stroke-width="1" stroke-dasharray="1.6,1.6"/>
<line x1="79.80" y1="778.98" x2="79.80" y2="782.82" stroke="#000" stroke-width="1" stroke-dasharray="1.6,1.6"/>
<line x1="74.20" y1="768.16" x2="85.40" y2="768.16" stroke="#000" stroke-width="1.1"/>
<line x1="74.20" y1="782.82" x2="85.40" y2="782.82" stroke="#000" stroke-width="1.1"/>
<rect x="68.80" y="769.73" width="22.0" height="9.25" fill="none" stroke="#000" stroke-width="1.1"/>
<line x1="68.80" y1="770.78" x2="90.80" y2="770.78" stroke="#000" stroke-width="2.5"/>
<line x1="107.20" y1="785.43" x2="107.20" y2="758.74" stroke="#000" stroke-width="1" stroke-dasharray="1.6,1.6"/>
<line x1="107.20" y1="812.13" x2="107.20" y2="832.20" stroke="#000" stroke-width="1" stroke-dasharray="1.6,1.6"/>
<line x1="101.60" y1="758.74" x2="112.80" y2="758.74" stroke="#000" stroke-width="1.1"/>
<line x1="101.60" y1="832.20" x2="112.80" y2="832.20" stroke="#000" stroke-width="1.1"/>
<rect x="96.20" y="785.43" width="22.0" height="26.70" fill="none" stroke="#000" stroke-width="1.1"/>
<line x1="96.20" y1="796.78" x2="118.20" y2="796.78" stroke="#000" stroke-width="2.5"/>
<line x1="134.50" y1="771.82" x2="134.50" y2="766.41" stroke="#000" stroke-width="1" stroke-dasharray="1.6,1.6"/>
<line x1="134.50" y1="803.06" x2="134.50" y2="832.20" stroke="#000" stroke-width="1" stroke-dasharray="1.6,1.6"/>
<line x1="128.90" y1="766.41" x2="140.10" y2="766.41" stroke="#000" stroke-width="1.1"/>
<line x1="128.90" y1="832.20" x2="140.10" y2="832.20" stroke="#000" stroke-width="1.1"/>
<rect x="123.50" y="771.82" width="22.0" height="31.24" fill="none" stroke="#000" stroke-width="1.1"/>
<line x1="123.50" y1="793.98" x2="145.50" y2="793.98" stroke="#000" stroke-width="2.5"/>
<line x1="150.34" y1="832.20" x2="172.34" y2="832.20" stroke="#000" stroke-width="2.6"/>
<line x1="177.52" y1="832.20" x2="199.52" y2="832.20" stroke="#000" stroke-width="2.6"/>
<line x1="204.70" y1="832.20" x2="226.70" y2="832.20" stroke="#000" stroke-width="2.6"/>
<line x1="231.88" y1="832.20" x2="253.88" y2="832.20" stroke="#000" stroke-width="2.6"/>
<line x1="259.06" y1="832.20" x2="281.06" y2="832.20" stroke="#000" stroke-width="2.6"/>
<line x1="297.24" y1="821.38" x2="297.24" y2="806.37" stroke="#000" stroke-width="1" stroke-dasharray="1.6,1.6"/>
<line x1="291.64" y1="806.37" x2="302.84" y2="806.37" stroke="#000" stroke-width="1.1"/>
<line x1="291.64" y1="832.20" x2="302.84" y2="832.20" stroke="#000" stroke-width="1.1"/>
<rect x="286.24" y="821.38" width="22.0" height="10.82" fill="none" stroke="#000" stroke-width="1.1"/>
<line x1="286.24" y1="832.20" x2="308.24" y2="832.20" stroke="#000" stroke-width="2.5"/>
<line x1="313.42" y1="832.20" x2="335.42" y2="832.20" stroke="#000" stroke-width="2.6"/>
<line x1="340.60" y1="832.20" x2="362.60" y2="832.20" stroke="#000" stroke-width="2.6"/>
<line x1="367.78" y1="832.20" x2="389.78" y2="832.20" stroke="#000" stroke-width="2.6"/>
<line x1="394.96" y1="832.20" x2="416.96" y2="832.20" stroke="#000" stroke-width="2.6"/>
<line x1="422.14" y1="832.20" x2="444.14" y2="832.20" stroke="#000" stroke-width="2.6"/>
<line x1="449.32" y1="832.20" x2="471.32" y2="832.20" stroke="#000" stroke-width="2.6"/>
<line x1="476.50" y1="832.20" x2="498.50" y2="832.20" stroke="#000" stroke-width="2.6"/>
<line x1="503.68" y1="832.20" x2="525.68" y2="832.20" stroke="#000" stroke-width="2.6"/>
<line x1="530.86" y1="832.20" x2="552.86" y2="832.20" stroke="#000" stroke-width="2.6"/>
<line x1="558.04" y1="832.20" x2="580.04" y2="832.20" stroke="#000" stroke-width="2.6"/>
<line x1="585.22" y1="832.20" x2="607.22" y2="832.20" stroke="#000" stroke-width="2.6"/>
<line x1="612.40" y1="832.20" x2="634.40" y2="832.20" stroke="#000" stroke-width="2.6"/>
<line x1="639.58" y1="832.20" x2="661.58" y2="832.20" stroke="#000" stroke-width="2.6"/>
<line x1="666.76" y1="832.20" x2="688.76" y2="832.20" stroke="#000" stroke-width="2.6"/>
<line x1="693.94" y1="832.20" x2="715.94" y2="832.20" stroke="#000" stroke-width="2.6"/>
<g><circle cx="80.3" cy="801.8" r="1.35" fill="#f7950f"/><circle cx="78.1" cy="795.4" r="1.35" fill="#f7950f"/><circle cx="82.4" cy="782.8" r="1.35" fill="#f7950f"/><circle cx="82.2" cy="779.9" r="1.35" fill="#f7950f"/><circle cx="79.6" cy="779.0" r="1.35" fill="#f7950f"/><circle cx="80.7" cy="776.4" r="1.35" fill="#f7950f"/><circle cx="78.2" cy="772.9" r="1.35" fill="#f7950f"/><circle cx="78.2" cy="771.1" r="1.35" fill="#f7950f"/><circle cx="78.6" cy="770.8" r="1.35" fill="#f7950f"/><circle cx="80.9" cy="770.3" r="1.35" fill="#f7950f"/><circle cx="78.2" cy="769.7" r="1.35" fill="#f7950f"/><circle cx="82.4" cy="769.4" r="1.35" fill="#f7950f"/><circle cx="77.4" cy="769.0" r="1.35" fill="#f7950f"/><circle cx="78.1" cy="768.2" r="1.35" fill="#f7950f"/><circle cx="77.5" cy="767.6" r="1.35" fill="#f7950f"/><circle cx="108.1" cy="831.1" r="1.35" fill="#17589f"/><circle cx="107.5" cy="830.5" r="1.35" fill="#17589f"/><circle cx="107.4" cy="829.0" r="1.35" fill="#17589f"/><circle cx="106.3" cy="828.0" r="1.35" fill="#17589f"/><circle cx="109.6" cy="826.2" r="1.35" fill="#17589f"/><circle cx="106.1" cy="825.3" r="1.35" fill="#17589f"/><circle cx="108.2" cy="824.4" r="1.35" fill="#17589f"/><circle cx="109.3" cy="822.7" r="1.35" fill="#17589f"/><circle cx="106.7" cy="821.6" r="1.35" fill="#17589f"/><circle cx="104.8" cy="820.7" r="1.35" fill="#17589f"/><circle cx="105.7" cy="818.2" r="1.35" fill="#17589f"/><circle cx="104.9" cy="817.1" r="1.35" fill="#17589f"/><circle cx="105.3" cy="815.9" r="1.35" fill="#17589f"/><circle cx="105.2" cy="814.2" r="1.35" fill="#17589f"/><circle cx="106.3" cy="813.8" r="1.35" fill="#17589f"/><circle cx="106.5" cy="812.5" r="1.35" fill="#17589f"/><circle cx="106.9" cy="811.8" r="1.35" fill="#17589f"/><circle cx="108.1" cy="811.4" r="1.35" fill="#17589f"/><circle cx="108.2" cy="810.4" r="1.35" fill="#17589f"/><circle cx="108.2" cy="811.0" r="1.35" fill="#17589f"/><circle cx="106.5" cy="809.7" r="1.35" fill="#17589f"/><circle cx="108.1" cy="809.1" r="1.35" fill="#17589f"/><circle cx="107.5" cy="808.9" r="1.35" fill="#17589f"/><circle cx="105.2" cy="809.0" r="1.35" fill="#17589f"/><circle cx="107.4" cy="807.3" r="1.35" fill="#17589f"/><circle cx="106.2" cy="808.0" r="1.35" fill="#17589f"/><circle cx="108.1" cy="806.5" r="1.35" fill="#17589f"/><circle cx="108.5" cy="806.7" r="1.35" fill="#17589f"/><circle cx="105.8" cy="806.4" r="1.35" fill="#17589f"/><circle cx="106.8" cy="805.7" r="1.35" fill="#17589f"/><circle cx="107.0" cy="805.4" r="1.35" fill="#17589f"/><circle cx="106.1" cy="804.7" r="1.35" fill="#17589f"/><circle cx="104.7" cy="803.3" r="1.35" fill="#17589f"/><circle cx="104.8" cy="802.7" r="1.35" fill="#17589f"/><circle cx="109.9" cy="802.8" r="1.35" fill="#17589f"/><circle cx="108.5" cy="801.8" r="1.35" fill="#17589f"/><circle cx="106.9" cy="801.6" r="1.35" fill="#17589f"/><circle cx="108.1" cy="801.1" r="1.35" fill="#17589f"/><circle cx="106.0" cy="799.9" r="1.35" fill="#17589f"/><circle cx="108.3" cy="800.4" r="1.35" fill="#17589f"/><circle cx="109.6" cy="798.9" r="1.35" fill="#17589f"/><circle cx="108.7" cy="798.7" r="1.35" fill="#17589f"/><circle cx="107.0" cy="798.2" r="1.35" fill="#17589f"/><circle cx="109.8" cy="798.9" r="1.35" fill="#17589f"/><circle cx="109.5" cy="798.3" r="1.35" fill="#17589f"/><circle cx="104.8" cy="797.8" r="1.35" fill="#17589f"/><circle cx="106.7" cy="796.9" r="1.35" fill="#17589f"/><circle cx="106.9" cy="795.4" r="1.35" fill="#17589f"/><circle cx="106.0" cy="795.2" r="1.35" fill="#17589f"/><circle cx="107.8" cy="794.9" r="1.35" fill="#17589f"/><circle cx="105.3" cy="795.8" r="1.35" fill="#17589f"/><circle cx="108.5" cy="794.4" r="1.35" fill="#17589f"/><circle cx="109.1" cy="793.9" r="1.35" fill="#17589f"/><circle cx="104.8" cy="793.4" r="1.35" fill="#17589f"/><circle cx="108.2" cy="793.1" r="1.35" fill="#17589f"/><circle cx="105.9" cy="793.9" r="1.35" fill="#17589f"/><circle cx="107.9" cy="793.4" r="1.35" fill="#17589f"/><circle cx="108.2" cy="792.0" r="1.35" fill="#17589f"/><circle cx="109.8" cy="791.7" r="1.35" fill="#17589f"/><circle cx="108.8" cy="791.0" r="1.35" fill="#17589f"/><circle cx="106.3" cy="791.5" r="1.35" fill="#17589f"/><circle cx="108.4" cy="790.3" r="1.35" fill="#17589f"/><circle cx="105.3" cy="791.2" r="1.35" fill="#17589f"/><circle cx="108.4" cy="789.4" r="1.35" fill="#17589f"/><circle cx="106.8" cy="789.2" r="1.35" fill="#17589f"/><circle cx="105.9" cy="789.8" r="1.35" fill="#17589f"/><circle cx="105.8" cy="789.9" r="1.35" fill="#17589f"/><circle cx="105.7" cy="788.7" r="1.35" fill="#17589f"/><circle cx="108.8" cy="788.0" r="1.35" fill="#17589f"/><circle cx="105.0" cy="788.3" r="1.35" fill="#17589f"/><circle cx="105.8" cy="788.4" r="1.35" fill="#17589f"/><circle cx="105.5" cy="787.6" r="1.35" fill="#17589f"/><circle cx="105.4" cy="786.3" r="1.35" fill="#17589f"/><circle cx="108.4" cy="787.2" r="1.35" fill="#17589f"/><circle cx="107.7" cy="785.4" r="1.35" fill="#17589f"/><circle cx="108.1" cy="786.2" r="1.35" fill="#17589f"/><circle cx="109.4" cy="785.7" r="1.35" fill="#17589f"/><circle cx="106.9" cy="784.2" r="1.35" fill="#17589f"/><circle cx="104.7" cy="780.9" r="1.35" fill="#17589f"/><circle cx="105.5" cy="779.4" r="1.35" fill="#17589f"/><circle cx="107.3" cy="778.7" r="1.35" fill="#17589f"/><circle cx="108.4" cy="777.4" r="1.35" fill="#17589f"/><circle cx="109.5" cy="774.7" r="1.35" fill="#17589f"/><circle cx="107.3" cy="772.6" r="1.35" fill="#17589f"/><circle cx="105.7" cy="772.4" r="1.35" fill="#17589f"/><circle cx="107.7" cy="769.6" r="1.35" fill="#17589f"/><circle cx="109.5" cy="767.5" r="1.35" fill="#17589f"/><circle cx="106.3" cy="766.5" r="1.35" fill="#17589f"/><circle cx="109.5" cy="764.6" r="1.35" fill="#17589f"/><circle cx="109.4" cy="762.5" r="1.35" fill="#17589f"/><circle cx="107.6" cy="761.8" r="1.35" fill="#17589f"/><circle cx="107.1" cy="760.0" r="1.35" fill="#17589f"/><circle cx="132.1" cy="832.2" r="1.35" fill="#17589f"/><circle cx="132.0" cy="827.8" r="1.35" fill="#17589f"/><circle cx="131.6" cy="814.4" r="1.35" fill="#17589f"/><circle cx="135.2" cy="805.9" r="1.35" fill="#17589f"/><circle cx="135.9" cy="803.1" r="1.35" fill="#17589f"/><circle cx="137.7" cy="799.4" r="1.35" fill="#17589f"/><circle cx="135.2" cy="797.3" r="1.35" fill="#17589f"/><circle cx="137.7" cy="794.0" r="1.35" fill="#17589f"/><circle cx="133.9" cy="790.3" r="1.35" fill="#17589f"/><circle cx="132.2" cy="787.7" r="1.35" fill="#17589f"/><circle cx="131.7" cy="781.9" r="1.35" fill="#17589f"/><circle cx="133.1" cy="778.1" r="1.35" fill="#17589f"/><circle cx="134.7" cy="774.6" r="1.35" fill="#17589f"/><circle cx="137.6" cy="771.8" r="1.35" fill="#17589f"/><circle cx="133.2" cy="769.4" r="1.35" fill="#17589f"/><circle cx="132.8" cy="768.0" r="1.35" fill="#17589f"/><circle cx="135.9" cy="766.4" r="1.35" fill="#17589f"/><circle cx="159.7" cy="798.2" r="1.35" fill="#b9b9b9"/><circle cx="187.8" cy="796.5" r="1.35" fill="#b9b9b9"/><circle cx="186.6" cy="801.1" r="1.35" fill="#b9b9b9"/><circle cx="189.0" cy="800.0" r="1.35" fill="#b9b9b9"/><circle cx="189.5" cy="805.0" r="1.35" fill="#b9b9b9"/><circle cx="190.9" cy="808.6" r="1.35" fill="#b9b9b9"/><circle cx="217.4" cy="808.6" r="1.35" fill="#b9b9b9"/><circle cx="218.1" cy="816.5" r="1.35" fill="#b9b9b9"/><circle cx="213.8" cy="825.8" r="1.35" fill="#b9b9b9"/><circle cx="215.2" cy="826.5" r="1.35" fill="#b9b9b9"/><circle cx="218.1" cy="825.8" r="1.35" fill="#b9b9b9"/><circle cx="214.5" cy="828.7" r="1.35" fill="#b9b9b9"/><circle cx="216.0" cy="829.4" r="1.35" fill="#b9b9b9"/><circle cx="241.0" cy="811.0" r="1.35" fill="#b9b9b9"/><circle cx="243.1" cy="812.2" r="1.35" fill="#b9b9b9"/><circle cx="245.3" cy="813.4" r="1.35" fill="#b9b9b9"/><circle cx="269.2" cy="801.1" r="1.35" fill="#b9b9b9"/><circle cx="272.7" cy="806.5" r="1.35" fill="#b9b9b9"/><circle cx="271.6" cy="811.1" r="1.35" fill="#b9b9b9"/><circle cx="269.4" cy="811.5" r="1.35" fill="#b9b9b9"/><circle cx="272.6" cy="811.5" r="1.35" fill="#b9b9b9"/><circle cx="270.9" cy="816.5" r="1.35" fill="#b9b9b9"/><circle cx="268.7" cy="818.0" r="1.35" fill="#b9b9b9"/><circle cx="268.0" cy="820.1" r="1.35" fill="#b9b9b9"/><circle cx="271.6" cy="821.5" r="1.35" fill="#b9b9b9"/><circle cx="269.4" cy="823.7" r="1.35" fill="#b9b9b9"/><circle cx="272.3" cy="825.1" r="1.35" fill="#b9b9b9"/><circle cx="268.7" cy="826.5" r="1.35" fill="#b9b9b9"/><circle cx="270.9" cy="828.0" r="1.35" fill="#b9b9b9"/><circle cx="268.0" cy="829.4" r="1.35" fill="#b9b9b9"/><circle cx="272.3" cy="829.4" r="1.35" fill="#b9b9b9"/><circle cx="295.2" cy="797.6" r="1.35" fill="#b9b9b9"/><circle cx="299.5" cy="800.0" r="1.35" fill="#b9b9b9"/><circle cx="298.8" cy="802.2" r="1.35" fill="#b9b9b9"/><circle cx="298.0" cy="810.8" r="1.35" fill="#b9b9b9"/><circle cx="297.3" cy="813.0" r="1.35" fill="#b9b9b9"/><circle cx="298.8" cy="815.1" r="1.35" fill="#b9b9b9"/><circle cx="296.6" cy="818.0" r="1.35" fill="#b9b9b9"/><circle cx="297.3" cy="822.2" r="1.35" fill="#b9b9b9"/><circle cx="298.0" cy="825.1" r="1.35" fill="#b9b9b9"/><circle cx="298.8" cy="829.4" r="1.35" fill="#b9b9b9"/><circle cx="327.4" cy="771.9" r="1.35" fill="#b9b9b9"/><circle cx="323.1" cy="782.9" r="1.35" fill="#b9b9b9"/><circle cx="323.8" cy="787.9" r="1.35" fill="#b9b9b9"/><circle cx="324.5" cy="791.5" r="1.35" fill="#b9b9b9"/><circle cx="322.4" cy="797.6" r="1.35" fill="#b9b9b9"/><circle cx="326.0" cy="796.2" r="1.35" fill="#b9b9b9"/><circle cx="327.4" cy="801.1" r="1.35" fill="#b9b9b9"/><circle cx="352.1" cy="786.2" r="1.35" fill="#b9b9b9"/><circle cx="350.6" cy="803.6" r="1.35" fill="#b9b9b9"/><circle cx="351.0" cy="811.1" r="1.35" fill="#b9b9b9"/><circle cx="353.6" cy="815.1" r="1.35" fill="#b9b9b9"/><circle cx="349.6" cy="818.0" r="1.35" fill="#b9b9b9"/><circle cx="352.4" cy="818.7" r="1.35" fill="#b9b9b9"/><circle cx="351.0" cy="822.2" r="1.35" fill="#b9b9b9"/><circle cx="353.9" cy="825.1" r="1.35" fill="#b9b9b9"/><circle cx="351.7" cy="826.5" r="1.35" fill="#b9b9b9"/><circle cx="352.4" cy="828.7" r="1.35" fill="#b9b9b9"/><circle cx="350.3" cy="829.4" r="1.35" fill="#b9b9b9"/><circle cx="377.7" cy="801.5" r="1.35" fill="#b9b9b9"/><circle cx="381.6" cy="803.6" r="1.35" fill="#b9b9b9"/><circle cx="377.3" cy="806.5" r="1.35" fill="#b9b9b9"/><circle cx="378.0" cy="808.0" r="1.35" fill="#b9b9b9"/><circle cx="404.9" cy="825.1" r="1.35" fill="#b9b9b9"/><circle cx="406.9" cy="825.4" r="1.35" fill="#b9b9b9"/><circle cx="405.6" cy="829.1" r="1.35" fill="#b9b9b9"/><circle cx="435.0" cy="789.3" r="1.35" fill="#b9b9b9"/><circle cx="434.1" cy="790.5" r="1.35" fill="#b9b9b9"/><circle cx="435.0" cy="797.6" r="1.35" fill="#b9b9b9"/><circle cx="431.0" cy="814.4" r="1.35" fill="#b9b9b9"/><circle cx="436.0" cy="813.4" r="1.35" fill="#b9b9b9"/><circle cx="433.8" cy="815.1" r="1.35" fill="#b9b9b9"/><circle cx="433.1" cy="817.2" r="1.35" fill="#b9b9b9"/><circle cx="431.7" cy="819.4" r="1.35" fill="#b9b9b9"/><circle cx="489.4" cy="781.9" r="1.35" fill="#b9b9b9"/><circle cx="487.3" cy="791.9" r="1.35" fill="#b9b9b9"/><circle cx="488.3" cy="791.5" r="1.35" fill="#b9b9b9"/><circle cx="488.0" cy="800.1" r="1.35" fill="#b9b9b9"/><circle cx="490.6" cy="799.6" r="1.35" fill="#b9b9b9"/><circle cx="488.3" cy="804.4" r="1.35" fill="#b9b9b9"/><circle cx="489.4" cy="803.6" r="1.35" fill="#b9b9b9"/><circle cx="486.9" cy="809.1" r="1.35" fill="#b9b9b9"/><circle cx="490.2" cy="810.1" r="1.35" fill="#b9b9b9"/><circle cx="485.2" cy="813.0" r="1.35" fill="#b9b9b9"/><circle cx="485.9" cy="815.1" r="1.35" fill="#b9b9b9"/><circle cx="514.9" cy="813.4" r="1.35" fill="#b9b9b9"/><circle cx="516.6" cy="816.2" r="1.35" fill="#b9b9b9"/><circle cx="515.2" cy="824.0" r="1.35" fill="#b9b9b9"/><circle cx="515.5" cy="830.5" r="1.35" fill="#b9b9b9"/><circle cx="539.8" cy="804.8" r="1.35" fill="#b9b9b9"/><circle cx="542.4" cy="819.6" r="1.35" fill="#b9b9b9"/><circle cx="544.5" cy="820.0" r="1.35" fill="#b9b9b9"/><circle cx="543.1" cy="824.4" r="1.35" fill="#b9b9b9"/><circle cx="542.1" cy="825.4" r="1.35" fill="#b9b9b9"/><circle cx="540.9" cy="827.2" r="1.35" fill="#b9b9b9"/><circle cx="539.5" cy="829.4" r="1.35" fill="#b9b9b9"/><circle cx="567.8" cy="805.1" r="1.35" fill="#b9b9b9"/><circle cx="567.4" cy="822.0" r="1.35" fill="#b9b9b9"/><circle cx="572.1" cy="824.0" r="1.35" fill="#b9b9b9"/><circle cx="568.4" cy="827.2" r="1.35" fill="#b9b9b9"/><circle cx="570.3" cy="827.2" r="1.35" fill="#b9b9b9"/><circle cx="571.7" cy="829.1" r="1.35" fill="#b9b9b9"/><circle cx="621.3" cy="772.0" r="1.35" fill="#b9b9b9"/><circle cx="625.9" cy="781.9" r="1.35" fill="#b9b9b9"/><circle cx="625.3" cy="790.7" r="1.35" fill="#b9b9b9"/><circle cx="623.1" cy="796.8" r="1.35" fill="#b9b9b9"/><circle cx="623.7" cy="801.6" r="1.35" fill="#b9b9b9"/><circle cx="625.9" cy="806.7" r="1.35" fill="#b9b9b9"/><circle cx="650.5" cy="806.0" r="1.35" fill="#b9b9b9"/><circle cx="651.2" cy="809.8" r="1.35" fill="#b9b9b9"/><circle cx="651.6" cy="813.7" r="1.35" fill="#b9b9b9"/><circle cx="679.6" cy="788.5" r="1.35" fill="#b9b9b9"/><circle cx="676.5" cy="797.9" r="1.35" fill="#b9b9b9"/><circle cx="675.8" cy="802.7" r="1.35" fill="#b9b9b9"/><circle cx="678.7" cy="806.7" r="1.35" fill="#b9b9b9"/><circle cx="679.1" cy="809.3" r="1.35" fill="#b9b9b9"/><circle cx="703.3" cy="790.7" r="1.35" fill="#b9b9b9"/><circle cx="704.4" cy="799.5" r="1.35" fill="#b9b9b9"/><circle cx="703.7" cy="806.0" r="1.35" fill="#b9b9b9"/><circle cx="705.5" cy="814.8" r="1.35" fill="#b9b9b9"/><circle cx="704.4" cy="815.9" r="1.35" fill="#b9b9b9"/><circle cx="707.3" cy="819.9" r="1.35" fill="#b9b9b9"/><circle cx="703.3" cy="822.5" r="1.35" fill="#b9b9b9"/><circle cx="706.6" cy="826.9" r="1.35" fill="#b9b9b9"/><circle cx="703.3" cy="825.8" r="1.35" fill="#b9b9b9"/><circle cx="705.5" cy="830.2" r="1.35" fill="#b9b9b9"/><circle cx="189.3" cy="824.4" r="1.35" fill="#b9b9b9"/><circle cx="191.3" cy="829.0" r="1.35" fill="#b9b9b9"/><circle cx="190.6" cy="811.6" r="1.35" fill="#b9b9b9"/><circle cx="187.8" cy="811.1" r="1.35" fill="#b9b9b9"/><circle cx="187.6" cy="830.7" r="1.35" fill="#b9b9b9"/><circle cx="188.7" cy="812.1" r="1.35" fill="#b9b9b9"/><circle cx="186.5" cy="828.1" r="1.35" fill="#b9b9b9"/><circle cx="188.5" cy="828.7" r="1.35" fill="#b9b9b9"/><circle cx="191.5" cy="811.4" r="1.35" fill="#b9b9b9"/><circle cx="190.6" cy="815.7" r="1.35" fill="#b9b9b9"/><circle cx="190.8" cy="828.3" r="1.35" fill="#b9b9b9"/><circle cx="189.1" cy="827.7" r="1.35" fill="#b9b9b9"/><circle cx="191.6" cy="830.7" r="1.35" fill="#b9b9b9"/><circle cx="189.5" cy="829.3" r="1.35" fill="#b9b9b9"/><circle cx="189.9" cy="818.1" r="1.35" fill="#b9b9b9"/><circle cx="188.0" cy="817.6" r="1.35" fill="#b9b9b9"/><circle cx="191.9" cy="814.9" r="1.35" fill="#b9b9b9"/><circle cx="192.2" cy="819.2" r="1.35" fill="#b9b9b9"/><circle cx="185.9" cy="813.4" r="1.35" fill="#b9b9b9"/><circle cx="186.1" cy="817.9" r="1.35" fill="#b9b9b9"/><circle cx="188.0" cy="818.1" r="1.35" fill="#b9b9b9"/><circle cx="185.8" cy="813.3" r="1.35" fill="#b9b9b9"/><circle cx="185.8" cy="810.8" r="1.35" fill="#b9b9b9"/><circle cx="185.5" cy="830.4" r="1.35" fill="#b9b9b9"/><circle cx="192.2" cy="829.4" r="1.35" fill="#b9b9b9"/><circle cx="191.7" cy="813.8" r="1.35" fill="#b9b9b9"/><circle cx="190.2" cy="828.4" r="1.35" fill="#b9b9b9"/><circle cx="190.4" cy="814.8" r="1.35" fill="#b9b9b9"/><circle cx="192.1" cy="826.8" r="1.35" fill="#b9b9b9"/><circle cx="190.2" cy="816.5" r="1.35" fill="#b9b9b9"/><circle cx="188.2" cy="826.5" r="1.35" fill="#b9b9b9"/><circle cx="189.0" cy="815.7" r="1.35" fill="#b9b9b9"/><circle cx="191.8" cy="822.2" r="1.35" fill="#b9b9b9"/><circle cx="191.3" cy="823.7" r="1.35" fill="#b9b9b9"/><circle cx="189.1" cy="830.5" r="1.35" fill="#b9b9b9"/><circle cx="185.6" cy="816.8" r="1.35" fill="#b9b9b9"/><circle cx="187.4" cy="817.3" r="1.35" fill="#b9b9b9"/><circle cx="189.7" cy="819.0" r="1.35" fill="#b9b9b9"/><circle cx="191.9" cy="829.2" r="1.35" fill="#b9b9b9"/><circle cx="186.4" cy="827.3" r="1.35" fill="#b9b9b9"/><circle cx="185.9" cy="823.2" r="1.35" fill="#b9b9b9"/><circle cx="190.7" cy="829.8" r="1.35" fill="#b9b9b9"/><circle cx="189.2" cy="829.8" r="1.35" fill="#b9b9b9"/><circle cx="188.6" cy="812.4" r="1.35" fill="#b9b9b9"/><circle cx="191.1" cy="814.3" r="1.35" fill="#b9b9b9"/><circle cx="186.0" cy="828.7" r="1.35" fill="#b9b9b9"/><circle cx="191.4" cy="815.1" r="1.35" fill="#b9b9b9"/><circle cx="190.4" cy="813.3" r="1.35" fill="#b9b9b9"/><circle cx="192.0" cy="821.7" r="1.35" fill="#b9b9b9"/><circle cx="190.7" cy="816.2" r="1.35" fill="#b9b9b9"/><circle cx="185.9" cy="811.8" r="1.35" fill="#b9b9b9"/><circle cx="189.5" cy="816.1" r="1.35" fill="#b9b9b9"/><circle cx="187.2" cy="830.9" r="1.35" fill="#b9b9b9"/><circle cx="189.1" cy="816.8" r="1.35" fill="#b9b9b9"/><circle cx="187.5" cy="820.5" r="1.35" fill="#b9b9b9"/><circle cx="191.5" cy="820.4" r="1.35" fill="#b9b9b9"/><circle cx="189.3" cy="809.9" r="1.35" fill="#b9b9b9"/><circle cx="186.1" cy="816.4" r="1.35" fill="#b9b9b9"/><circle cx="189.3" cy="829.1" r="1.35" fill="#b9b9b9"/><circle cx="186.3" cy="814.0" r="1.35" fill="#b9b9b9"/><circle cx="188.9" cy="829.0" r="1.35" fill="#b9b9b9"/><circle cx="186.5" cy="826.1" r="1.35" fill="#b9b9b9"/><circle cx="188.4" cy="828.8" r="1.35" fill="#b9b9b9"/><circle cx="186.7" cy="814.8" r="1.35" fill="#b9b9b9"/><circle cx="186.0" cy="814.5" r="1.35" fill="#b9b9b9"/><circle cx="190.0" cy="827.2" r="1.35" fill="#b9b9b9"/><circle cx="187.7" cy="831.0" r="1.35" fill="#b9b9b9"/><circle cx="187.1" cy="828.9" r="1.35" fill="#b9b9b9"/><circle cx="186.6" cy="812.4" r="1.35" fill="#b9b9b9"/><circle cx="191.7" cy="816.7" r="1.35" fill="#b9b9b9"/><circle cx="191.4" cy="827.3" r="1.35" fill="#b9b9b9"/><circle cx="190.8" cy="825.8" r="1.35" fill="#b9b9b9"/><circle cx="187.9" cy="820.0" r="1.35" fill="#b9b9b9"/><circle cx="190.2" cy="812.4" r="1.35" fill="#b9b9b9"/><circle cx="189.4" cy="825.8" r="1.35" fill="#b9b9b9"/><circle cx="187.4" cy="826.3" r="1.35" fill="#b9b9b9"/><circle cx="192.1" cy="811.1" r="1.35" fill="#b9b9b9"/><circle cx="191.7" cy="828.9" r="1.35" fill="#b9b9b9"/><circle cx="185.6" cy="816.8" r="1.35" fill="#b9b9b9"/><circle cx="188.5" cy="829.7" r="1.35" fill="#b9b9b9"/><circle cx="191.4" cy="812.4" r="1.35" fill="#b9b9b9"/><circle cx="188.5" cy="827.2" r="1.35" fill="#b9b9b9"/><circle cx="186.9" cy="811.4" r="1.35" fill="#b9b9b9"/><circle cx="188.3" cy="829.7" r="1.35" fill="#b9b9b9"/><circle cx="191.4" cy="817.6" r="1.35" fill="#b9b9b9"/><circle cx="185.6" cy="812.7" r="1.35" fill="#b9b9b9"/><circle cx="186.4" cy="828.5" r="1.35" fill="#b9b9b9"/><circle cx="188.3" cy="819.7" r="1.35" fill="#b9b9b9"/><circle cx="189.7" cy="811.5" r="1.35" fill="#b9b9b9"/><circle cx="190.2" cy="819.2" r="1.35" fill="#b9b9b9"/><circle cx="191.6" cy="828.0" r="1.35" fill="#b9b9b9"/><circle cx="191.1" cy="813.1" r="1.35" fill="#b9b9b9"/><circle cx="186.7" cy="815.1" r="1.35" fill="#b9b9b9"/><circle cx="188.0" cy="830.4" r="1.35" fill="#b9b9b9"/><circle cx="186.9" cy="816.8" r="1.35" fill="#b9b9b9"/><circle cx="191.3" cy="812.9" r="1.35" fill="#b9b9b9"/><circle cx="188.8" cy="817.3" r="1.35" fill="#b9b9b9"/><circle cx="191.0" cy="829.0" r="1.35" fill="#b9b9b9"/><circle cx="188.9" cy="828.6" r="1.35" fill="#b9b9b9"/><circle cx="189.8" cy="815.7" r="1.35" fill="#b9b9b9"/><circle cx="191.5" cy="827.4" r="1.35" fill="#b9b9b9"/><circle cx="188.4" cy="825.8" r="1.35" fill="#b9b9b9"/><circle cx="190.3" cy="823.3" r="1.35" fill="#b9b9b9"/><circle cx="189.8" cy="830.6" r="1.35" fill="#b9b9b9"/><circle cx="190.9" cy="822.2" r="1.35" fill="#b9b9b9"/><circle cx="189.4" cy="824.9" r="1.35" fill="#b9b9b9"/><circle cx="185.9" cy="810.3" r="1.35" fill="#b9b9b9"/><circle cx="188.7" cy="814.9" r="1.35" fill="#b9b9b9"/><circle cx="187.4" cy="826.2" r="1.35" fill="#b9b9b9"/><circle cx="191.2" cy="827.8" r="1.35" fill="#b9b9b9"/><circle cx="192.0" cy="828.1" r="1.35" fill="#b9b9b9"/><circle cx="187.4" cy="821.5" r="1.35" fill="#b9b9b9"/><circle cx="189.5" cy="815.1" r="1.35" fill="#b9b9b9"/><circle cx="186.5" cy="812.5" r="1.35" fill="#b9b9b9"/><circle cx="185.7" cy="817.4" r="1.35" fill="#b9b9b9"/><circle cx="188.3" cy="828.4" r="1.35" fill="#b9b9b9"/><circle cx="187.4" cy="825.9" r="1.35" fill="#b9b9b9"/><circle cx="190.6" cy="820.3" r="1.35" fill="#b9b9b9"/><circle cx="189.0" cy="823.8" r="1.35" fill="#b9b9b9"/><circle cx="187.0" cy="815.1" r="1.35" fill="#b9b9b9"/><circle cx="185.7" cy="809.5" r="1.35" fill="#b9b9b9"/><circle cx="191.1" cy="824.7" r="1.35" fill="#b9b9b9"/><circle cx="187.7" cy="827.5" r="1.35" fill="#b9b9b9"/><circle cx="192.1" cy="828.6" r="1.35" fill="#b9b9b9"/><circle cx="186.1" cy="812.7" r="1.35" fill="#b9b9b9"/><circle cx="186.5" cy="821.0" r="1.35" fill="#b9b9b9"/><circle cx="187.0" cy="830.9" r="1.35" fill="#b9b9b9"/><circle cx="189.1" cy="817.1" r="1.35" fill="#b9b9b9"/><circle cx="189.4" cy="826.5" r="1.35" fill="#b9b9b9"/><circle cx="187.8" cy="830.0" r="1.35" fill="#b9b9b9"/><circle cx="191.1" cy="829.8" r="1.35" fill="#b9b9b9"/><circle cx="190.4" cy="824.5" r="1.35" fill="#b9b9b9"/><circle cx="188.3" cy="825.5" r="1.35" fill="#b9b9b9"/><circle cx="187.3" cy="820.2" r="1.35" fill="#b9b9b9"/><circle cx="190.8" cy="820.8" r="1.35" fill="#b9b9b9"/><circle cx="186.9" cy="830.2" r="1.35" fill="#b9b9b9"/><circle cx="188.8" cy="830.8" r="1.35" fill="#b9b9b9"/><circle cx="189.0" cy="829.6" r="1.35" fill="#b9b9b9"/><circle cx="189.1" cy="828.8" r="1.35" fill="#b9b9b9"/><circle cx="190.6" cy="826.6" r="1.35" fill="#b9b9b9"/><circle cx="192.0" cy="814.3" r="1.35" fill="#b9b9b9"/><circle cx="191.5" cy="822.7" r="1.35" fill="#b9b9b9"/><circle cx="187.8" cy="813.1" r="1.35" fill="#b9b9b9"/><circle cx="192.0" cy="809.9" r="1.35" fill="#b9b9b9"/><circle cx="190.6" cy="828.9" r="1.35" fill="#b9b9b9"/><circle cx="189.7" cy="817.5" r="1.35" fill="#b9b9b9"/><circle cx="187.4" cy="816.9" r="1.35" fill="#b9b9b9"/><circle cx="190.4" cy="813.8" r="1.35" fill="#b9b9b9"/><circle cx="192.1" cy="828.4" r="1.35" fill="#b9b9b9"/><circle cx="185.9" cy="816.3" r="1.35" fill="#b9b9b9"/><circle cx="186.7" cy="830.7" r="1.35" fill="#b9b9b9"/><circle cx="190.4" cy="818.1" r="1.35" fill="#b9b9b9"/><circle cx="191.5" cy="811.2" r="1.35" fill="#b9b9b9"/><circle cx="241.5" cy="829.1" r="1.35" fill="#b9b9b9"/><circle cx="242.8" cy="830.4" r="1.35" fill="#b9b9b9"/><circle cx="242.7" cy="826.3" r="1.35" fill="#b9b9b9"/><circle cx="244.2" cy="820.2" r="1.35" fill="#b9b9b9"/><circle cx="245.8" cy="820.5" r="1.35" fill="#b9b9b9"/><circle cx="243.6" cy="821.1" r="1.35" fill="#b9b9b9"/><circle cx="243.7" cy="826.5" r="1.35" fill="#b9b9b9"/><circle cx="244.6" cy="825.8" r="1.35" fill="#b9b9b9"/><circle cx="244.6" cy="819.7" r="1.35" fill="#b9b9b9"/><circle cx="243.9" cy="828.5" r="1.35" fill="#b9b9b9"/><circle cx="241.1" cy="825.8" r="1.35" fill="#b9b9b9"/><circle cx="243.2" cy="830.2" r="1.35" fill="#b9b9b9"/><circle cx="244.8" cy="818.2" r="1.35" fill="#b9b9b9"/><circle cx="246.2" cy="830.6" r="1.35" fill="#b9b9b9"/><circle cx="244.2" cy="821.8" r="1.35" fill="#b9b9b9"/><circle cx="242.3" cy="831.0" r="1.35" fill="#b9b9b9"/><circle cx="243.4" cy="827.5" r="1.35" fill="#b9b9b9"/><circle cx="244.3" cy="830.0" r="1.35" fill="#b9b9b9"/><circle cx="244.4" cy="823.5" r="1.35" fill="#b9b9b9"/><circle cx="243.9" cy="825.3" r="1.35" fill="#b9b9b9"/><circle cx="245.6" cy="830.1" r="1.35" fill="#b9b9b9"/><circle cx="245.7" cy="819.4" r="1.35" fill="#b9b9b9"/><circle cx="241.9" cy="821.1" r="1.35" fill="#b9b9b9"/><circle cx="240.6" cy="828.0" r="1.35" fill="#b9b9b9"/><circle cx="245.8" cy="820.8" r="1.35" fill="#b9b9b9"/><circle cx="244.1" cy="818.3" r="1.35" fill="#b9b9b9"/><circle cx="245.7" cy="820.6" r="1.35" fill="#b9b9b9"/><circle cx="240.7" cy="830.0" r="1.35" fill="#b9b9b9"/><circle cx="246.5" cy="819.3" r="1.35" fill="#b9b9b9"/><circle cx="244.3" cy="821.9" r="1.35" fill="#b9b9b9"/><circle cx="245.8" cy="826.7" r="1.35" fill="#b9b9b9"/><circle cx="240.6" cy="828.1" r="1.35" fill="#b9b9b9"/><circle cx="240.7" cy="820.5" r="1.35" fill="#b9b9b9"/><circle cx="244.5" cy="821.9" r="1.35" fill="#b9b9b9"/><circle cx="243.1" cy="830.1" r="1.35" fill="#b9b9b9"/><circle cx="245.5" cy="828.3" r="1.35" fill="#b9b9b9"/><circle cx="242.4" cy="820.9" r="1.35" fill="#b9b9b9"/><circle cx="242.5" cy="829.7" r="1.35" fill="#b9b9b9"/><circle cx="244.2" cy="826.1" r="1.35" fill="#b9b9b9"/><circle cx="242.4" cy="818.1" r="1.35" fill="#b9b9b9"/><circle cx="244.3" cy="829.7" r="1.35" fill="#b9b9b9"/><circle cx="245.0" cy="826.3" r="1.35" fill="#b9b9b9"/><circle cx="243.8" cy="822.8" r="1.35" fill="#b9b9b9"/><circle cx="241.6" cy="820.3" r="1.35" fill="#b9b9b9"/><circle cx="241.5" cy="820.8" r="1.35" fill="#b9b9b9"/><circle cx="243.9" cy="825.5" r="1.35" fill="#b9b9b9"/><circle cx="241.0" cy="824.6" r="1.35" fill="#b9b9b9"/><circle cx="242.1" cy="825.8" r="1.35" fill="#b9b9b9"/><circle cx="243.0" cy="828.2" r="1.35" fill="#b9b9b9"/><circle cx="241.6" cy="826.4" r="1.35" fill="#b9b9b9"/><circle cx="246.3" cy="822.4" r="1.35" fill="#b9b9b9"/><circle cx="322.3" cy="804.1" r="1.35" fill="#b9b9b9"/><circle cx="324.0" cy="826.4" r="1.35" fill="#b9b9b9"/><circle cx="326.1" cy="816.0" r="1.35" fill="#b9b9b9"/><circle cx="324.6" cy="816.1" r="1.35" fill="#b9b9b9"/><circle cx="328.1" cy="802.2" r="1.35" fill="#b9b9b9"/><circle cx="322.9" cy="809.1" r="1.35" fill="#b9b9b9"/><circle cx="321.3" cy="810.3" r="1.35" fill="#b9b9b9"/><circle cx="326.2" cy="804.1" r="1.35" fill="#b9b9b9"/><circle cx="324.1" cy="804.9" r="1.35" fill="#b9b9b9"/><circle cx="322.9" cy="812.2" r="1.35" fill="#b9b9b9"/><circle cx="322.3" cy="804.9" r="1.35" fill="#b9b9b9"/><circle cx="323.1" cy="830.9" r="1.35" fill="#b9b9b9"/><circle cx="325.0" cy="813.7" r="1.35" fill="#b9b9b9"/><circle cx="326.1" cy="809.0" r="1.35" fill="#b9b9b9"/><circle cx="328.0" cy="809.9" r="1.35" fill="#b9b9b9"/><circle cx="321.8" cy="830.0" r="1.35" fill="#b9b9b9"/><circle cx="322.0" cy="824.9" r="1.35" fill="#b9b9b9"/><circle cx="326.3" cy="817.3" r="1.35" fill="#b9b9b9"/><circle cx="324.7" cy="827.6" r="1.35" fill="#b9b9b9"/><circle cx="321.1" cy="826.0" r="1.35" fill="#b9b9b9"/><circle cx="323.0" cy="825.5" r="1.35" fill="#b9b9b9"/><circle cx="328.2" cy="813.0" r="1.35" fill="#b9b9b9"/><circle cx="324.6" cy="830.0" r="1.35" fill="#b9b9b9"/><circle cx="325.6" cy="820.0" r="1.35" fill="#b9b9b9"/><circle cx="328.1" cy="828.3" r="1.35" fill="#b9b9b9"/><circle cx="325.3" cy="825.3" r="1.35" fill="#b9b9b9"/><circle cx="325.2" cy="821.6" r="1.35" fill="#b9b9b9"/><circle cx="325.6" cy="806.4" r="1.35" fill="#b9b9b9"/><circle cx="328.0" cy="823.5" r="1.35" fill="#b9b9b9"/><circle cx="328.1" cy="827.7" r="1.35" fill="#b9b9b9"/><circle cx="322.8" cy="813.4" r="1.35" fill="#b9b9b9"/><circle cx="327.4" cy="802.7" r="1.35" fill="#b9b9b9"/><circle cx="327.0" cy="818.6" r="1.35" fill="#b9b9b9"/><circle cx="323.0" cy="829.5" r="1.35" fill="#b9b9b9"/><circle cx="328.0" cy="819.5" r="1.35" fill="#b9b9b9"/><circle cx="328.3" cy="822.7" r="1.35" fill="#b9b9b9"/><circle cx="326.3" cy="816.4" r="1.35" fill="#b9b9b9"/><circle cx="322.0" cy="809.8" r="1.35" fill="#b9b9b9"/><circle cx="325.4" cy="805.1" r="1.35" fill="#b9b9b9"/><circle cx="322.1" cy="828.9" r="1.35" fill="#b9b9b9"/><circle cx="325.2" cy="809.2" r="1.35" fill="#b9b9b9"/><circle cx="327.4" cy="804.8" r="1.35" fill="#b9b9b9"/><circle cx="324.1" cy="817.4" r="1.35" fill="#b9b9b9"/><circle cx="328.2" cy="810.5" r="1.35" fill="#b9b9b9"/><circle cx="324.8" cy="824.4" r="1.35" fill="#b9b9b9"/><circle cx="321.3" cy="829.0" r="1.35" fill="#b9b9b9"/><circle cx="323.8" cy="830.1" r="1.35" fill="#b9b9b9"/><circle cx="327.4" cy="815.2" r="1.35" fill="#b9b9b9"/><circle cx="328.1" cy="810.9" r="1.35" fill="#b9b9b9"/><circle cx="327.3" cy="825.8" r="1.35" fill="#b9b9b9"/><circle cx="323.8" cy="824.0" r="1.35" fill="#b9b9b9"/><circle cx="328.4" cy="817.6" r="1.35" fill="#b9b9b9"/><circle cx="321.4" cy="820.0" r="1.35" fill="#b9b9b9"/><circle cx="325.2" cy="822.8" r="1.35" fill="#b9b9b9"/><circle cx="322.1" cy="813.1" r="1.35" fill="#b9b9b9"/><circle cx="322.2" cy="825.0" r="1.35" fill="#b9b9b9"/><circle cx="323.9" cy="818.5" r="1.35" fill="#b9b9b9"/><circle cx="324.8" cy="824.1" r="1.35" fill="#b9b9b9"/><circle cx="325.6" cy="810.8" r="1.35" fill="#b9b9b9"/><circle cx="324.0" cy="811.4" r="1.35" fill="#b9b9b9"/><circle cx="321.9" cy="804.8" r="1.35" fill="#b9b9b9"/><circle cx="321.7" cy="829.9" r="1.35" fill="#b9b9b9"/><circle cx="323.4" cy="819.5" r="1.35" fill="#b9b9b9"/><circle cx="321.1" cy="827.2" r="1.35" fill="#b9b9b9"/><circle cx="321.4" cy="809.6" r="1.35" fill="#b9b9b9"/><circle cx="328.1" cy="814.8" r="1.35" fill="#b9b9b9"/><circle cx="325.4" cy="825.9" r="1.35" fill="#b9b9b9"/><circle cx="324.2" cy="806.3" r="1.35" fill="#b9b9b9"/><circle cx="321.3" cy="805.1" r="1.35" fill="#b9b9b9"/><circle cx="326.8" cy="816.7" r="1.35" fill="#b9b9b9"/><circle cx="327.1" cy="819.1" r="1.35" fill="#b9b9b9"/><circle cx="327.2" cy="802.9" r="1.35" fill="#b9b9b9"/><circle cx="326.1" cy="819.5" r="1.35" fill="#b9b9b9"/><circle cx="325.6" cy="806.8" r="1.35" fill="#b9b9b9"/><circle cx="322.5" cy="830.4" r="1.35" fill="#b9b9b9"/><circle cx="321.9" cy="815.5" r="1.35" fill="#b9b9b9"/><circle cx="328.2" cy="828.1" r="1.35" fill="#b9b9b9"/><circle cx="328.3" cy="818.8" r="1.35" fill="#b9b9b9"/><circle cx="326.8" cy="807.9" r="1.35" fill="#b9b9b9"/><circle cx="322.7" cy="821.3" r="1.35" fill="#b9b9b9"/><circle cx="322.6" cy="830.0" r="1.35" fill="#b9b9b9"/><circle cx="325.5" cy="819.0" r="1.35" fill="#b9b9b9"/><circle cx="324.4" cy="828.3" r="1.35" fill="#b9b9b9"/><circle cx="327.5" cy="822.7" r="1.35" fill="#b9b9b9"/><circle cx="327.2" cy="824.6" r="1.35" fill="#b9b9b9"/><circle cx="327.9" cy="814.4" r="1.35" fill="#b9b9b9"/><circle cx="323.0" cy="825.1" r="1.35" fill="#b9b9b9"/><circle cx="322.9" cy="819.3" r="1.35" fill="#b9b9b9"/><circle cx="328.1" cy="815.7" r="1.35" fill="#b9b9b9"/><circle cx="322.4" cy="817.9" r="1.35" fill="#b9b9b9"/><circle cx="325.7" cy="830.3" r="1.35" fill="#b9b9b9"/><circle cx="321.1" cy="820.5" r="1.35" fill="#b9b9b9"/><circle cx="326.9" cy="822.7" r="1.35" fill="#b9b9b9"/><circle cx="378.0" cy="819.7" r="1.35" fill="#b9b9b9"/><circle cx="382.2" cy="811.8" r="1.35" fill="#b9b9b9"/><circle cx="377.4" cy="830.8" r="1.35" fill="#b9b9b9"/><circle cx="378.1" cy="820.1" r="1.35" fill="#b9b9b9"/><circle cx="381.0" cy="828.1" r="1.35" fill="#b9b9b9"/><circle cx="379.1" cy="813.2" r="1.35" fill="#b9b9b9"/><circle cx="379.6" cy="811.7" r="1.35" fill="#b9b9b9"/><circle cx="379.2" cy="819.7" r="1.35" fill="#b9b9b9"/><circle cx="381.7" cy="815.8" r="1.35" fill="#b9b9b9"/><circle cx="379.0" cy="822.5" r="1.35" fill="#b9b9b9"/><circle cx="381.3" cy="815.9" r="1.35" fill="#b9b9b9"/><circle cx="376.9" cy="819.0" r="1.35" fill="#b9b9b9"/><circle cx="378.2" cy="829.4" r="1.35" fill="#b9b9b9"/><circle cx="378.2" cy="830.6" r="1.35" fill="#b9b9b9"/><circle cx="376.7" cy="825.3" r="1.35" fill="#b9b9b9"/><circle cx="380.0" cy="829.2" r="1.35" fill="#b9b9b9"/><circle cx="377.3" cy="813.5" r="1.35" fill="#b9b9b9"/><circle cx="378.5" cy="817.5" r="1.35" fill="#b9b9b9"/><circle cx="381.9" cy="830.9" r="1.35" fill="#b9b9b9"/><circle cx="379.0" cy="829.7" r="1.35" fill="#b9b9b9"/><circle cx="377.7" cy="830.9" r="1.35" fill="#b9b9b9"/><circle cx="378.3" cy="825.5" r="1.35" fill="#b9b9b9"/><circle cx="382.1" cy="822.1" r="1.35" fill="#b9b9b9"/><circle cx="378.8" cy="820.0" r="1.35" fill="#b9b9b9"/><circle cx="378.8" cy="814.9" r="1.35" fill="#b9b9b9"/><circle cx="378.8" cy="818.1" r="1.35" fill="#b9b9b9"/><circle cx="376.5" cy="817.0" r="1.35" fill="#b9b9b9"/><circle cx="380.4" cy="828.7" r="1.35" fill="#b9b9b9"/><circle cx="378.2" cy="817.1" r="1.35" fill="#b9b9b9"/><circle cx="379.8" cy="830.6" r="1.35" fill="#b9b9b9"/><circle cx="378.4" cy="829.8" r="1.35" fill="#b9b9b9"/><circle cx="381.0" cy="815.5" r="1.35" fill="#b9b9b9"/><circle cx="376.6" cy="815.2" r="1.35" fill="#b9b9b9"/><circle cx="376.1" cy="817.3" r="1.35" fill="#b9b9b9"/><circle cx="380.7" cy="811.2" r="1.35" fill="#b9b9b9"/><circle cx="381.4" cy="816.4" r="1.35" fill="#b9b9b9"/><circle cx="380.8" cy="815.2" r="1.35" fill="#b9b9b9"/><circle cx="376.3" cy="812.5" r="1.35" fill="#b9b9b9"/><circle cx="380.4" cy="830.1" r="1.35" fill="#b9b9b9"/><circle cx="381.0" cy="829.6" r="1.35" fill="#b9b9b9"/><circle cx="380.7" cy="824.3" r="1.35" fill="#b9b9b9"/><circle cx="379.4" cy="829.8" r="1.35" fill="#b9b9b9"/><circle cx="380.6" cy="817.6" r="1.35" fill="#b9b9b9"/><circle cx="377.4" cy="828.6" r="1.35" fill="#b9b9b9"/><circle cx="381.0" cy="814.6" r="1.35" fill="#b9b9b9"/><circle cx="376.0" cy="822.3" r="1.35" fill="#b9b9b9"/><circle cx="380.7" cy="817.6" r="1.35" fill="#b9b9b9"/><circle cx="382.1" cy="819.3" r="1.35" fill="#b9b9b9"/><circle cx="381.1" cy="819.6" r="1.35" fill="#b9b9b9"/><circle cx="377.7" cy="827.5" r="1.35" fill="#b9b9b9"/><circle cx="382.3" cy="811.3" r="1.35" fill="#b9b9b9"/><circle cx="379.9" cy="829.8" r="1.35" fill="#b9b9b9"/><circle cx="379.8" cy="818.4" r="1.35" fill="#b9b9b9"/><circle cx="378.2" cy="824.8" r="1.35" fill="#b9b9b9"/><circle cx="376.8" cy="812.7" r="1.35" fill="#b9b9b9"/><circle cx="380.7" cy="830.0" r="1.35" fill="#b9b9b9"/><circle cx="378.4" cy="830.9" r="1.35" fill="#b9b9b9"/><circle cx="380.2" cy="821.2" r="1.35" fill="#b9b9b9"/><circle cx="380.0" cy="827.3" r="1.35" fill="#b9b9b9"/><circle cx="435.1" cy="824.1" r="1.35" fill="#b9b9b9"/><circle cx="435.7" cy="826.5" r="1.35" fill="#b9b9b9"/><circle cx="435.6" cy="826.7" r="1.35" fill="#b9b9b9"/><circle cx="434.6" cy="827.3" r="1.35" fill="#b9b9b9"/><circle cx="434.1" cy="828.5" r="1.35" fill="#b9b9b9"/><circle cx="431.3" cy="822.9" r="1.35" fill="#b9b9b9"/><circle cx="431.4" cy="822.6" r="1.35" fill="#b9b9b9"/><circle cx="431.7" cy="822.4" r="1.35" fill="#b9b9b9"/><circle cx="432.6" cy="829.1" r="1.35" fill="#b9b9b9"/><circle cx="434.0" cy="828.8" r="1.35" fill="#b9b9b9"/><circle cx="435.1" cy="827.9" r="1.35" fill="#b9b9b9"/><circle cx="434.9" cy="827.5" r="1.35" fill="#b9b9b9"/><circle cx="433.7" cy="828.3" r="1.35" fill="#b9b9b9"/><circle cx="432.8" cy="825.0" r="1.35" fill="#b9b9b9"/><circle cx="434.1" cy="822.4" r="1.35" fill="#b9b9b9"/><circle cx="434.3" cy="825.5" r="1.35" fill="#b9b9b9"/><circle cx="432.6" cy="829.2" r="1.35" fill="#b9b9b9"/><circle cx="434.5" cy="821.2" r="1.35" fill="#b9b9b9"/><circle cx="436.0" cy="826.5" r="1.35" fill="#b9b9b9"/><circle cx="434.5" cy="820.2" r="1.35" fill="#b9b9b9"/><circle cx="459.9" cy="829.8" r="1.35" fill="#b9b9b9"/><circle cx="461.0" cy="825.6" r="1.35" fill="#b9b9b9"/><circle cx="460.4" cy="827.2" r="1.35" fill="#b9b9b9"/><circle cx="458.1" cy="816.1" r="1.35" fill="#b9b9b9"/><circle cx="460.8" cy="830.2" r="1.35" fill="#b9b9b9"/><circle cx="459.8" cy="830.9" r="1.35" fill="#b9b9b9"/><circle cx="462.4" cy="828.0" r="1.35" fill="#b9b9b9"/><circle cx="460.8" cy="828.9" r="1.35" fill="#b9b9b9"/><circle cx="461.8" cy="816.5" r="1.35" fill="#b9b9b9"/><circle cx="458.6" cy="825.6" r="1.35" fill="#b9b9b9"/><circle cx="462.4" cy="814.9" r="1.35" fill="#b9b9b9"/><circle cx="459.1" cy="820.1" r="1.35" fill="#b9b9b9"/><circle cx="463.1" cy="828.1" r="1.35" fill="#b9b9b9"/><circle cx="462.8" cy="817.3" r="1.35" fill="#b9b9b9"/><circle cx="462.1" cy="827.1" r="1.35" fill="#b9b9b9"/><circle cx="463.2" cy="817.6" r="1.35" fill="#b9b9b9"/><circle cx="457.8" cy="819.7" r="1.35" fill="#b9b9b9"/><circle cx="459.2" cy="830.6" r="1.35" fill="#b9b9b9"/><circle cx="459.6" cy="817.9" r="1.35" fill="#b9b9b9"/><circle cx="460.4" cy="830.6" r="1.35" fill="#b9b9b9"/><circle cx="460.1" cy="829.2" r="1.35" fill="#b9b9b9"/><circle cx="460.7" cy="819.8" r="1.35" fill="#b9b9b9"/><circle cx="460.7" cy="823.0" r="1.35" fill="#b9b9b9"/><circle cx="463.4" cy="814.5" r="1.35" fill="#b9b9b9"/><circle cx="458.2" cy="823.5" r="1.35" fill="#b9b9b9"/><circle cx="458.3" cy="820.0" r="1.35" fill="#b9b9b9"/><circle cx="458.0" cy="830.9" r="1.35" fill="#b9b9b9"/><circle cx="463.0" cy="824.8" r="1.35" fill="#b9b9b9"/><circle cx="462.5" cy="823.8" r="1.35" fill="#b9b9b9"/><circle cx="462.1" cy="823.2" r="1.35" fill="#b9b9b9"/><circle cx="462.2" cy="823.4" r="1.35" fill="#b9b9b9"/><circle cx="459.1" cy="826.2" r="1.35" fill="#b9b9b9"/><circle cx="462.5" cy="818.0" r="1.35" fill="#b9b9b9"/><circle cx="461.8" cy="818.1" r="1.35" fill="#b9b9b9"/><circle cx="461.1" cy="818.0" r="1.35" fill="#b9b9b9"/><circle cx="461.9" cy="820.6" r="1.35" fill="#b9b9b9"/><circle cx="457.6" cy="825.5" r="1.35" fill="#b9b9b9"/><circle cx="463.1" cy="816.5" r="1.35" fill="#b9b9b9"/><circle cx="460.2" cy="826.8" r="1.35" fill="#b9b9b9"/><circle cx="463.5" cy="829.9" r="1.35" fill="#b9b9b9"/><circle cx="460.2" cy="830.3" r="1.35" fill="#b9b9b9"/><circle cx="463.0" cy="830.8" r="1.35" fill="#b9b9b9"/><circle cx="489.9" cy="820.9" r="1.35" fill="#b9b9b9"/><circle cx="489.3" cy="823.0" r="1.35" fill="#b9b9b9"/><circle cx="485.0" cy="817.0" r="1.35" fill="#b9b9b9"/><circle cx="485.2" cy="827.9" r="1.35" fill="#b9b9b9"/><circle cx="484.9" cy="824.8" r="1.35" fill="#b9b9b9"/><circle cx="488.8" cy="821.9" r="1.35" fill="#b9b9b9"/><circle cx="490.4" cy="820.5" r="1.35" fill="#b9b9b9"/><circle cx="484.7" cy="830.5" r="1.35" fill="#b9b9b9"/><circle cx="488.1" cy="825.2" r="1.35" fill="#b9b9b9"/><circle cx="486.8" cy="820.6" r="1.35" fill="#b9b9b9"/><circle cx="488.2" cy="816.3" r="1.35" fill="#b9b9b9"/><circle cx="489.3" cy="824.5" r="1.35" fill="#b9b9b9"/><circle cx="489.7" cy="816.9" r="1.35" fill="#b9b9b9"/><circle cx="485.7" cy="817.3" r="1.35" fill="#b9b9b9"/><circle cx="484.6" cy="830.0" r="1.35" fill="#b9b9b9"/><circle cx="489.6" cy="822.6" r="1.35" fill="#b9b9b9"/><circle cx="488.7" cy="828.9" r="1.35" fill="#b9b9b9"/><circle cx="488.7" cy="828.8" r="1.35" fill="#b9b9b9"/><circle cx="490.7" cy="815.5" r="1.35" fill="#b9b9b9"/><circle cx="484.8" cy="827.8" r="1.35" fill="#b9b9b9"/><circle cx="488.3" cy="828.3" r="1.35" fill="#b9b9b9"/><circle cx="487.6" cy="826.9" r="1.35" fill="#b9b9b9"/><circle cx="491.0" cy="824.1" r="1.35" fill="#b9b9b9"/><circle cx="487.3" cy="826.7" r="1.35" fill="#b9b9b9"/><circle cx="488.4" cy="827.2" r="1.35" fill="#b9b9b9"/><circle cx="488.1" cy="829.4" r="1.35" fill="#b9b9b9"/><circle cx="490.2" cy="824.0" r="1.35" fill="#b9b9b9"/><circle cx="491.0" cy="823.5" r="1.35" fill="#b9b9b9"/><circle cx="487.8" cy="826.9" r="1.35" fill="#b9b9b9"/><circle cx="484.4" cy="826.7" r="1.35" fill="#b9b9b9"/><circle cx="489.4" cy="820.4" r="1.35" fill="#b9b9b9"/><circle cx="484.8" cy="815.8" r="1.35" fill="#b9b9b9"/><circle cx="490.0" cy="817.9" r="1.35" fill="#b9b9b9"/><circle cx="485.4" cy="817.1" r="1.35" fill="#b9b9b9"/><circle cx="489.7" cy="828.0" r="1.35" fill="#b9b9b9"/><circle cx="485.1" cy="821.3" r="1.35" fill="#b9b9b9"/><circle cx="491.4" cy="830.7" r="1.35" fill="#b9b9b9"/><circle cx="487.1" cy="820.4" r="1.35" fill="#b9b9b9"/><circle cx="485.6" cy="824.8" r="1.35" fill="#b9b9b9"/><circle cx="491.3" cy="827.6" r="1.35" fill="#b9b9b9"/><circle cx="491.1" cy="830.2" r="1.35" fill="#b9b9b9"/><circle cx="487.1" cy="819.4" r="1.35" fill="#b9b9b9"/><circle cx="488.3" cy="819.7" r="1.35" fill="#b9b9b9"/><circle cx="488.5" cy="821.9" r="1.35" fill="#b9b9b9"/><circle cx="491.2" cy="825.6" r="1.35" fill="#b9b9b9"/><circle cx="487.3" cy="819.6" r="1.35" fill="#b9b9b9"/><circle cx="486.4" cy="823.7" r="1.35" fill="#b9b9b9"/><circle cx="486.4" cy="829.8" r="1.35" fill="#b9b9b9"/><circle cx="486.0" cy="817.9" r="1.35" fill="#b9b9b9"/><circle cx="484.7" cy="827.9" r="1.35" fill="#b9b9b9"/><circle cx="486.3" cy="815.5" r="1.35" fill="#b9b9b9"/><circle cx="625.4" cy="828.7" r="1.35" fill="#b9b9b9"/><circle cx="626.1" cy="830.1" r="1.35" fill="#b9b9b9"/><circle cx="620.5" cy="818.8" r="1.35" fill="#b9b9b9"/><circle cx="621.8" cy="817.3" r="1.35" fill="#b9b9b9"/><circle cx="625.7" cy="830.0" r="1.35" fill="#b9b9b9"/><circle cx="622.8" cy="814.2" r="1.35" fill="#b9b9b9"/><circle cx="623.9" cy="827.1" r="1.35" fill="#b9b9b9"/><circle cx="627.3" cy="817.4" r="1.35" fill="#b9b9b9"/><circle cx="623.0" cy="819.7" r="1.35" fill="#b9b9b9"/><circle cx="626.5" cy="823.9" r="1.35" fill="#b9b9b9"/><circle cx="622.9" cy="827.4" r="1.35" fill="#b9b9b9"/><circle cx="627.4" cy="828.7" r="1.35" fill="#b9b9b9"/><circle cx="621.9" cy="817.3" r="1.35" fill="#b9b9b9"/><circle cx="627.1" cy="817.6" r="1.35" fill="#b9b9b9"/><circle cx="622.6" cy="826.8" r="1.35" fill="#b9b9b9"/><circle cx="626.4" cy="827.2" r="1.35" fill="#b9b9b9"/><circle cx="626.4" cy="824.2" r="1.35" fill="#b9b9b9"/><circle cx="625.7" cy="825.3" r="1.35" fill="#b9b9b9"/><circle cx="623.7" cy="813.6" r="1.35" fill="#b9b9b9"/><circle cx="626.6" cy="828.8" r="1.35" fill="#b9b9b9"/><circle cx="623.2" cy="813.5" r="1.35" fill="#b9b9b9"/><circle cx="627.5" cy="815.3" r="1.35" fill="#b9b9b9"/><circle cx="626.7" cy="813.3" r="1.35" fill="#b9b9b9"/><circle cx="622.6" cy="824.1" r="1.35" fill="#b9b9b9"/><circle cx="622.1" cy="828.0" r="1.35" fill="#b9b9b9"/><circle cx="621.4" cy="827.3" r="1.35" fill="#b9b9b9"/><circle cx="622.5" cy="831.0" r="1.35" fill="#b9b9b9"/><circle cx="625.7" cy="829.7" r="1.35" fill="#b9b9b9"/><circle cx="627.4" cy="825.0" r="1.35" fill="#b9b9b9"/><circle cx="622.0" cy="819.5" r="1.35" fill="#b9b9b9"/><circle cx="624.6" cy="819.4" r="1.35" fill="#b9b9b9"/><circle cx="625.4" cy="813.2" r="1.35" fill="#b9b9b9"/><circle cx="621.5" cy="827.4" r="1.35" fill="#b9b9b9"/><circle cx="622.6" cy="824.8" r="1.35" fill="#b9b9b9"/><circle cx="626.0" cy="828.1" r="1.35" fill="#b9b9b9"/><circle cx="624.0" cy="826.9" r="1.35" fill="#b9b9b9"/><circle cx="624.8" cy="825.8" r="1.35" fill="#b9b9b9"/><circle cx="622.8" cy="828.9" r="1.35" fill="#b9b9b9"/><circle cx="624.4" cy="827.3" r="1.35" fill="#b9b9b9"/><circle cx="626.5" cy="821.8" r="1.35" fill="#b9b9b9"/><circle cx="620.2" cy="820.0" r="1.35" fill="#b9b9b9"/><circle cx="626.4" cy="818.1" r="1.35" fill="#b9b9b9"/><circle cx="621.9" cy="814.3" r="1.35" fill="#b9b9b9"/><circle cx="621.5" cy="821.6" r="1.35" fill="#b9b9b9"/><circle cx="625.5" cy="820.8" r="1.35" fill="#b9b9b9"/><circle cx="624.0" cy="815.6" r="1.35" fill="#b9b9b9"/><circle cx="622.4" cy="822.0" r="1.35" fill="#b9b9b9"/><circle cx="623.3" cy="830.0" r="1.35" fill="#b9b9b9"/><circle cx="625.2" cy="828.8" r="1.35" fill="#b9b9b9"/><circle cx="623.0" cy="828.0" r="1.35" fill="#b9b9b9"/><circle cx="622.5" cy="830.9" r="1.35" fill="#b9b9b9"/><circle cx="649.1" cy="821.4" r="1.35" fill="#b9b9b9"/><circle cx="652.9" cy="826.0" r="1.35" fill="#b9b9b9"/><circle cx="652.3" cy="820.0" r="1.35" fill="#b9b9b9"/><circle cx="653.0" cy="830.7" r="1.35" fill="#b9b9b9"/><circle cx="653.5" cy="821.4" r="1.35" fill="#b9b9b9"/><circle cx="652.8" cy="822.2" r="1.35" fill="#b9b9b9"/><circle cx="651.0" cy="822.7" r="1.35" fill="#b9b9b9"/><circle cx="649.7" cy="830.7" r="1.35" fill="#b9b9b9"/><circle cx="651.5" cy="826.4" r="1.35" fill="#b9b9b9"/><circle cx="650.6" cy="819.3" r="1.35" fill="#b9b9b9"/><circle cx="653.0" cy="826.8" r="1.35" fill="#b9b9b9"/><circle cx="650.7" cy="828.5" r="1.35" fill="#b9b9b9"/><circle cx="651.4" cy="829.7" r="1.35" fill="#b9b9b9"/><circle cx="652.1" cy="829.9" r="1.35" fill="#b9b9b9"/><circle cx="649.6" cy="826.7" r="1.35" fill="#b9b9b9"/><circle cx="652.0" cy="828.8" r="1.35" fill="#b9b9b9"/><circle cx="654.4" cy="828.2" r="1.35" fill="#b9b9b9"/><circle cx="650.8" cy="819.7" r="1.35" fill="#b9b9b9"/><circle cx="649.9" cy="823.6" r="1.35" fill="#b9b9b9"/><circle cx="653.2" cy="829.7" r="1.35" fill="#b9b9b9"/><circle cx="676.4" cy="815.1" r="1.35" fill="#b9b9b9"/><circle cx="679.2" cy="827.1" r="1.35" fill="#b9b9b9"/><circle cx="676.2" cy="829.4" r="1.35" fill="#b9b9b9"/><circle cx="677.8" cy="823.9" r="1.35" fill="#b9b9b9"/><circle cx="678.2" cy="827.6" r="1.35" fill="#b9b9b9"/><circle cx="677.6" cy="827.5" r="1.35" fill="#b9b9b9"/><circle cx="678.9" cy="818.3" r="1.35" fill="#b9b9b9"/><circle cx="677.9" cy="824.8" r="1.35" fill="#b9b9b9"/><circle cx="681.6" cy="814.4" r="1.35" fill="#b9b9b9"/><circle cx="680.1" cy="816.3" r="1.35" fill="#b9b9b9"/><circle cx="678.4" cy="825.0" r="1.35" fill="#b9b9b9"/><circle cx="681.5" cy="829.7" r="1.35" fill="#b9b9b9"/><circle cx="675.2" cy="829.0" r="1.35" fill="#b9b9b9"/><circle cx="675.5" cy="821.4" r="1.35" fill="#b9b9b9"/><circle cx="676.9" cy="819.0" r="1.35" fill="#b9b9b9"/><circle cx="678.6" cy="819.2" r="1.35" fill="#b9b9b9"/><circle cx="678.4" cy="829.6" r="1.35" fill="#b9b9b9"/><circle cx="674.7" cy="820.6" r="1.35" fill="#b9b9b9"/><circle cx="677.4" cy="829.6" r="1.35" fill="#b9b9b9"/><circle cx="677.6" cy="822.0" r="1.35" fill="#b9b9b9"/><circle cx="679.4" cy="825.4" r="1.35" fill="#b9b9b9"/><circle cx="676.8" cy="828.1" r="1.35" fill="#b9b9b9"/><circle cx="681.3" cy="824.3" r="1.35" fill="#b9b9b9"/><circle cx="675.2" cy="825.4" r="1.35" fill="#b9b9b9"/><circle cx="678.4" cy="828.2" r="1.35" fill="#b9b9b9"/><circle cx="679.3" cy="814.2" r="1.35" fill="#b9b9b9"/><circle cx="676.4" cy="823.1" r="1.35" fill="#b9b9b9"/><circle cx="680.9" cy="826.6" r="1.35" fill="#b9b9b9"/><circle cx="677.3" cy="814.1" r="1.35" fill="#b9b9b9"/><circle cx="679.6" cy="821.0" r="1.35" fill="#b9b9b9"/></g>
<line x1="47.9" y1="938.90" x2="47.9" y2="866.40" stroke="#000" stroke-width="1"/>
<line x1="44.1" y1="938.90" x2="47.9" y2="938.90" stroke="#000" stroke-width="1"/>
<text x="0" y="0" font-size="7.7" text-anchor="middle" fill="#222" transform="translate(40.00,938.90) rotate(-90)">0</text>
<line x1="44.1" y1="924.40" x2="47.9" y2="924.40" stroke="#000" stroke-width="1"/>
<text x="0" y="0" font-size="7.7" text-anchor="middle" fill="#222" transform="translate(40.00,924.40) rotate(-90)">1</text>
<line x1="44.1" y1="909.90" x2="47.9" y2="909.90" stroke="#000" stroke-width="1"/>
<text x="0" y="0" font-size="7.7" text-anchor="middle" fill="#222" transform="translate(40.00,909.90) rotate(-90)">2</text>
<line x1="44.1" y1="895.40" x2="47.9" y2="895.40" stroke="#000" stroke-width="1"/>
<text x="0" y="0" font-size="7.7" text-anchor="middle" fill="#222" transform="translate(40.00,895.40) rotate(-90)">3</text>
<line x1="44.1" y1="880.90" x2="47.9" y2="880.90" stroke="#000" stroke-width="1"/>
<text x="0" y="0" font-size="7.7" text-anchor="middle" fill="#222" transform="translate(40.00,880.90) rotate(-90)">4</text>
<line x1="44.1" y1="866.40" x2="47.9" y2="866.40" stroke="#000" stroke-width="1"/>
<text x="0" y="0" font-size="7.7" text-anchor="middle" fill="#222" transform="translate(40.00,866.40) rotate(-90)">5</text>
<text x="0" y="0" font-size="10.6" text-anchor="middle" transform="translate(16.4,902.20) rotate(-90)">Expression</text>
<text x="0" y="0" font-size="10.6" text-anchor="middle" transform="translate(29.3,902.20) rotate(-90)">(log2 RPM)</text>
<text x="394" y="864" font-size="13.2" text-anchor="middle" fill="#000" font-weight="normal" >NOVELM00260M</text>
<line x1="79.20" y1="887.86" x2="79.20" y2="877.86" stroke="#000" stroke-width="1" stroke-dasharray="1.6,1.6"/>
<line x1="79.20" y1="901.35" x2="79.20" y2="914.39" stroke="#000" stroke-width="1" stroke-dasharray="1.6,1.6"/>
<line x1="73.60" y1="877.86" x2="84.80" y2="877.86" stroke="#000" stroke-width="1.1"/>
<line x1="73.60" y1="914.39" x2="84.80" y2="914.39" stroke="#000" stroke-width="1.1"/>
<rect x="68.20" y="887.86" width="22.0" height="13.49" fill="none" stroke="#000" stroke-width="1.1"/>
<line x1="68.20" y1="893.08" x2="90.20" y2="893.08" stroke="#000" stroke-width="2.5"/>
<line x1="105.00" y1="902.22" x2="105.00" y2="866.98" stroke="#000" stroke-width="1" stroke-dasharray="1.6,1.6"/>
<line x1="99.40" y1="866.98" x2="110.60" y2="866.98" stroke="#000" stroke-width="1.1"/>
<line x1="99.40" y1="938.90" x2="110.60" y2="938.90" stroke="#000" stroke-width="1.1"/>
<rect x="94.00" y="902.22" width="22.0" height="36.68" fill="none" stroke="#000" stroke-width="1.1"/>
<line x1="94.00" y1="924.11" x2="116.00" y2="924.11" stroke="#000" stroke-width="2.5"/>
<line x1="133.50" y1="899.61" x2="133.50" y2="865.67" stroke="#000" stroke-width="1" stroke-dasharray="1.6,1.6"/>
<line x1="133.50" y1="927.30" x2="133.50" y2="938.90" stroke="#000" stroke-width="1" stroke-dasharray="1.6,1.6"/>
<line x1="127.90" y1="865.67" x2="139.10" y2="865.67" stroke="#000" stroke-width="1.1"/>
<line x1="127.90" y1="938.90" x2="139.10" y2="938.90" stroke="#000" stroke-width="1.1"/>
<rect x="122.50" y="899.61" width="22.0" height="27.69" fill="none" stroke="#000" stroke-width="1.1"/>
<line x1="122.50" y1="906.86" x2="144.50" y2="906.86" stroke="#000" stroke-width="2.5"/>
<line x1="149.84" y1="938.90" x2="171.84" y2="938.90" stroke="#000" stroke-width="2.6"/>
<line x1="177.02" y1="938.90" x2="199.02" y2="938.90" stroke="#000" stroke-width="2.6"/>
<line x1="204.20" y1="938.90" x2="226.20" y2="938.90" stroke="#000" stroke-width="2.6"/>
<line x1="231.38" y1="938.90" x2="253.38" y2="938.90" stroke="#000" stroke-width="2.6"/>
<line x1="258.56" y1="938.90" x2="280.56" y2="938.90" stroke="#000" stroke-width="2.6"/>
<line x1="285.74" y1="938.90" x2="307.74" y2="938.90" stroke="#000" stroke-width="2.6"/>
<line x1="312.92" y1="938.90" x2="334.92" y2="938.90" stroke="#000" stroke-width="2.6"/>
<line x1="340.10" y1="938.90" x2="362.10" y2="938.90" stroke="#000" stroke-width="2.6"/>
<line x1="367.28" y1="938.90" x2="389.28" y2="938.90" stroke="#000" stroke-width="2.6"/>
<line x1="394.46" y1="938.90" x2="416.46" y2="938.90" stroke="#000" stroke-width="2.6"/>
<line x1="421.64" y1="938.90" x2="443.64" y2="938.90" stroke="#000" stroke-width="2.6"/>
<line x1="448.82" y1="938.90" x2="470.82" y2="938.90" stroke="#000" stroke-width="2.6"/>
<line x1="476.00" y1="938.90" x2="498.00" y2="938.90" stroke="#000" stroke-width="2.6"/>
<line x1="503.18" y1="938.90" x2="525.18" y2="938.90" stroke="#000" stroke-width="2.6"/>
<line x1="530.36" y1="938.90" x2="552.36" y2="938.90" stroke="#000" stroke-width="2.6"/>
<line x1="557.54" y1="938.90" x2="579.54" y2="938.90" stroke="#000" stroke-width="2.6"/>
<line x1="584.72" y1="938.90" x2="606.72" y2="938.90" stroke="#000" stroke-width="2.6"/>
<line x1="611.90" y1="938.90" x2="633.90" y2="938.90" stroke="#000" stroke-width="2.6"/>
<line x1="639.08" y1="938.90" x2="661.08" y2="938.90" stroke="#000" stroke-width="2.6"/>
<line x1="666.26" y1="938.90" x2="688.26" y2="938.90" stroke="#000" stroke-width="2.6"/>
<line x1="693.44" y1="938.90" x2="715.44" y2="938.90" stroke="#000" stroke-width="2.6"/>
<g><circle cx="77.2" cy="914.4" r="1.35" fill="#f7950f"/><circle cx="79.8" cy="909.9" r="1.35" fill="#f7950f"/><circle cx="77.4" cy="905.5" r="1.35" fill="#f7950f"/><circle cx="80.4" cy="901.3" r="1.35" fill="#f7950f"/><circle cx="79.8" cy="899.8" r="1.35" fill="#f7950f"/><circle cx="78.6" cy="896.9" r="1.35" fill="#f7950f"/><circle cx="79.9" cy="895.4" r="1.35" fill="#f7950f"/><circle cx="79.6" cy="893.1" r="1.35" fill="#f7950f"/><circle cx="76.6" cy="892.5" r="1.35" fill="#f7950f"/><circle cx="79.4" cy="891.0" r="1.35" fill="#f7950f"/><circle cx="79.9" cy="889.6" r="1.35" fill="#f7950f"/><circle cx="79.3" cy="887.9" r="1.35" fill="#f7950f"/><circle cx="81.3" cy="883.8" r="1.35" fill="#f7950f"/><circle cx="80.5" cy="880.9" r="1.35" fill="#f7950f"/><circle cx="78.5" cy="877.9" r="1.35" fill="#f7950f"/><circle cx="107.5" cy="938.9" r="1.35" fill="#17589f"/><circle cx="107.3" cy="938.9" r="1.35" fill="#17589f"/><circle cx="104.8" cy="938.5" r="1.35" fill="#17589f"/><circle cx="102.3" cy="938.6" r="1.35" fill="#17589f"/><circle cx="103.8" cy="938.7" r="1.35" fill="#17589f"/><circle cx="103.5" cy="938.9" r="1.35" fill="#17589f"/><circle cx="105.8" cy="938.9" r="1.35" fill="#17589f"/><circle cx="106.1" cy="938.9" r="1.35" fill="#17589f"/><circle cx="107.3" cy="938.9" r="1.35" fill="#17589f"/><circle cx="106.1" cy="938.9" r="1.35" fill="#17589f"/><circle cx="107.5" cy="938.7" r="1.35" fill="#17589f"/><circle cx="105.7" cy="938.7" r="1.35" fill="#17589f"/><circle cx="104.9" cy="938.7" r="1.35" fill="#17589f"/><circle cx="106.8" cy="938.9" r="1.35" fill="#17589f"/><circle cx="103.8" cy="938.9" r="1.35" fill="#17589f"/><circle cx="106.5" cy="938.9" r="1.35" fill="#17589f"/><circle cx="106.2" cy="938.2" r="1.35" fill="#17589f"/><circle cx="107.0" cy="938.0" r="1.35" fill="#17589f"/><circle cx="102.6" cy="937.1" r="1.35" fill="#17589f"/><circle cx="103.3" cy="937.1" r="1.35" fill="#17589f"/><circle cx="107.4" cy="936.7" r="1.35" fill="#17589f"/><circle cx="103.1" cy="935.5" r="1.35" fill="#17589f"/><circle cx="104.7" cy="936.0" r="1.35" fill="#17589f"/><circle cx="105.5" cy="935.5" r="1.35" fill="#17589f"/><circle cx="104.9" cy="934.5" r="1.35" fill="#17589f"/><circle cx="107.0" cy="933.9" r="1.35" fill="#17589f"/><circle cx="107.5" cy="933.7" r="1.35" fill="#17589f"/><circle cx="104.1" cy="933.0" r="1.35" fill="#17589f"/><circle cx="103.0" cy="932.7" r="1.35" fill="#17589f"/><circle cx="107.2" cy="931.9" r="1.35" fill="#17589f"/><circle cx="104.7" cy="931.1" r="1.35" fill="#17589f"/><circle cx="103.6" cy="930.7" r="1.35" fill="#17589f"/><circle cx="103.0" cy="930.5" r="1.35" fill="#17589f"/><circle cx="102.3" cy="930.2" r="1.35" fill="#17589f"/><circle cx="105.4" cy="929.1" r="1.35" fill="#17589f"/><circle cx="103.8" cy="929.3" r="1.35" fill="#17589f"/><circle cx="105.3" cy="928.6" r="1.35" fill="#17589f"/><circle cx="107.3" cy="927.7" r="1.35" fill="#17589f"/><circle cx="104.9" cy="927.5" r="1.35" fill="#17589f"/><circle cx="107.4" cy="927.4" r="1.35" fill="#17589f"/><circle cx="102.7" cy="926.4" r="1.35" fill="#17589f"/><circle cx="106.4" cy="926.2" r="1.35" fill="#17589f"/><circle cx="106.4" cy="925.2" r="1.35" fill="#17589f"/><circle cx="107.5" cy="925.1" r="1.35" fill="#17589f"/><circle cx="102.5" cy="924.8" r="1.35" fill="#17589f"/><circle cx="105.0" cy="923.7" r="1.35" fill="#17589f"/><circle cx="105.3" cy="923.7" r="1.35" fill="#17589f"/><circle cx="105.5" cy="923.2" r="1.35" fill="#17589f"/><circle cx="104.8" cy="921.7" r="1.35" fill="#17589f"/><circle cx="103.8" cy="920.9" r="1.35" fill="#17589f"/><circle cx="107.2" cy="921.3" r="1.35" fill="#17589f"/><circle cx="107.0" cy="920.8" r="1.35" fill="#17589f"/><circle cx="106.1" cy="918.9" r="1.35" fill="#17589f"/><circle cx="107.5" cy="918.1" r="1.35" fill="#17589f"/><circle cx="105.3" cy="918.1" r="1.35" fill="#17589f"/><circle cx="102.7" cy="917.6" r="1.35" fill="#17589f"/><circle cx="106.0" cy="916.3" r="1.35" fill="#17589f"/><circle cx="102.9" cy="915.2" r="1.35" fill="#17589f"/><circle cx="106.4" cy="915.5" r="1.35" fill="#17589f"/><circle cx="105.8" cy="914.4" r="1.35" fill="#17589f"/><circle cx="103.4" cy="913.4" r="1.35" fill="#17589f"/><circle cx="103.1" cy="913.3" r="1.35" fill="#17589f"/><circle cx="102.7" cy="912.3" r="1.35" fill="#17589f"/><circle cx="103.3" cy="912.0" r="1.35" fill="#17589f"/><circle cx="107.6" cy="910.8" r="1.35" fill="#17589f"/><circle cx="103.5" cy="910.4" r="1.35" fill="#17589f"/><circle cx="107.1" cy="909.9" r="1.35" fill="#17589f"/><circle cx="103.0" cy="908.8" r="1.35" fill="#17589f"/><circle cx="104.1" cy="908.4" r="1.35" fill="#17589f"/><circle cx="104.9" cy="907.7" r="1.35" fill="#17589f"/><circle cx="104.2" cy="906.9" r="1.35" fill="#17589f"/><circle cx="107.5" cy="905.8" r="1.35" fill="#17589f"/><circle cx="103.6" cy="905.3" r="1.35" fill="#17589f"/><circle cx="104.9" cy="903.9" r="1.35" fill="#17589f"/><circle cx="103.4" cy="903.7" r="1.35" fill="#17589f"/><circle cx="102.9" cy="903.2" r="1.35" fill="#17589f"/><circle cx="106.0" cy="902.4" r="1.35" fill="#17589f"/><circle cx="104.1" cy="899.9" r="1.35" fill="#17589f"/><circle cx="104.9" cy="897.0" r="1.35" fill="#17589f"/><circle cx="106.0" cy="895.6" r="1.35" fill="#17589f"/><circle cx="102.8" cy="892.9" r="1.35" fill="#17589f"/><circle cx="102.6" cy="890.2" r="1.35" fill="#17589f"/><circle cx="106.0" cy="887.9" r="1.35" fill="#17589f"/><circle cx="107.7" cy="886.2" r="1.35" fill="#17589f"/><circle cx="102.4" cy="883.4" r="1.35" fill="#17589f"/><circle cx="104.7" cy="881.4" r="1.35" fill="#17589f"/><circle cx="107.7" cy="879.8" r="1.35" fill="#17589f"/><circle cx="106.8" cy="877.7" r="1.35" fill="#17589f"/><circle cx="107.6" cy="875.3" r="1.35" fill="#17589f"/><circle cx="105.2" cy="872.2" r="1.35" fill="#17589f"/><circle cx="107.5" cy="870.5" r="1.35" fill="#17589f"/><circle cx="102.6" cy="867.6" r="1.35" fill="#17589f"/><circle cx="133.3" cy="938.9" r="1.35" fill="#17589f"/><circle cx="135.7" cy="934.5" r="1.35" fill="#17589f"/><circle cx="132.8" cy="930.2" r="1.35" fill="#17589f"/><circle cx="133.1" cy="927.3" r="1.35" fill="#17589f"/><circle cx="133.2" cy="922.9" r="1.35" fill="#17589f"/><circle cx="132.7" cy="915.7" r="1.35" fill="#17589f"/><circle cx="135.5" cy="909.9" r="1.35" fill="#17589f"/><circle cx="136.5" cy="906.9" r="1.35" fill="#17589f"/><circle cx="131.8" cy="905.5" r="1.35" fill="#17589f"/><circle cx="132.4" cy="902.6" r="1.35" fill="#17589f"/><circle cx="135.4" cy="899.6" r="1.35" fill="#17589f"/><circle cx="135.1" cy="896.9" r="1.35" fill="#17589f"/><circle cx="135.5" cy="895.4" r="1.35" fill="#17589f"/><circle cx="134.7" cy="889.6" r="1.35" fill="#17589f"/><circle cx="136.2" cy="879.4" r="1.35" fill="#17589f"/><circle cx="135.7" cy="873.6" r="1.35" fill="#17589f"/><circle cx="134.4" cy="865.7" r="1.35" fill="#17589f"/><circle cx="162.0" cy="926.1" r="1.35" fill="#b9b9b9"/><circle cx="159.4" cy="935.8" r="1.35" fill="#b9b9b9"/><circle cx="188.3" cy="886.0" r="1.35" fill="#b9b9b9"/><circle cx="189.9" cy="908.4" r="1.35" fill="#b9b9b9"/><circle cx="185.5" cy="910.4" r="1.35" fill="#b9b9b9"/><circle cx="188.8" cy="913.0" r="1.35" fill="#b9b9b9"/><circle cx="188.1" cy="915.1" r="1.35" fill="#b9b9b9"/><circle cx="243.6" cy="910.4" r="1.35" fill="#b9b9b9"/><circle cx="242.4" cy="915.1" r="1.35" fill="#b9b9b9"/><circle cx="243.1" cy="918.7" r="1.35" fill="#b9b9b9"/><circle cx="241.0" cy="920.8" r="1.35" fill="#b9b9b9"/><circle cx="243.9" cy="923.0" r="1.35" fill="#b9b9b9"/><circle cx="270.0" cy="933.7" r="1.35" fill="#b9b9b9"/><circle cx="271.6" cy="932.2" r="1.35" fill="#b9b9b9"/><circle cx="269.4" cy="935.1" r="1.35" fill="#b9b9b9"/><circle cx="348.1" cy="934.7" r="1.35" fill="#b9b9b9"/><circle cx="349.6" cy="935.8" r="1.35" fill="#b9b9b9"/><circle cx="352.4" cy="935.5" r="1.35" fill="#b9b9b9"/><circle cx="377.7" cy="907.5" r="1.35" fill="#b9b9b9"/><circle cx="379.7" cy="917.7" r="1.35" fill="#b9b9b9"/><circle cx="376.3" cy="922.7" r="1.35" fill="#b9b9b9"/><circle cx="378.3" cy="923.0" r="1.35" fill="#b9b9b9"/><circle cx="378.0" cy="932.2" r="1.35" fill="#b9b9b9"/><circle cx="380.2" cy="934.1" r="1.35" fill="#b9b9b9"/><circle cx="376.9" cy="935.1" r="1.35" fill="#b9b9b9"/><circle cx="378.7" cy="935.8" r="1.35" fill="#b9b9b9"/><circle cx="406.3" cy="911.9" r="1.35" fill="#b9b9b9"/><circle cx="405.6" cy="927.2" r="1.35" fill="#b9b9b9"/><circle cx="406.6" cy="933.2" r="1.35" fill="#b9b9b9"/><circle cx="433.1" cy="906.6" r="1.35" fill="#b9b9b9"/><circle cx="434.5" cy="905.1" r="1.35" fill="#b9b9b9"/><circle cx="460.0" cy="898.3" r="1.35" fill="#b9b9b9"/><circle cx="458.8" cy="902.2" r="1.35" fill="#b9b9b9"/><circle cx="457.4" cy="907.0" r="1.35" fill="#b9b9b9"/><circle cx="459.6" cy="910.4" r="1.35" fill="#b9b9b9"/><circle cx="457.8" cy="920.1" r="1.35" fill="#b9b9b9"/><circle cx="460.3" cy="922.2" r="1.35" fill="#b9b9b9"/><circle cx="457.4" cy="925.8" r="1.35" fill="#b9b9b9"/><circle cx="462.4" cy="926.5" r="1.35" fill="#b9b9b9"/><circle cx="458.1" cy="930.1" r="1.35" fill="#b9b9b9"/><circle cx="461.0" cy="930.8" r="1.35" fill="#b9b9b9"/><circle cx="459.6" cy="933.7" r="1.35" fill="#b9b9b9"/><circle cx="457.4" cy="935.8" r="1.35" fill="#b9b9b9"/><circle cx="484.9" cy="895.5" r="1.35" fill="#b9b9b9"/><circle cx="488.0" cy="898.6" r="1.35" fill="#b9b9b9"/><circle cx="489.4" cy="901.5" r="1.35" fill="#b9b9b9"/><circle cx="485.9" cy="902.9" r="1.35" fill="#b9b9b9"/><circle cx="486.6" cy="904.3" r="1.35" fill="#b9b9b9"/><circle cx="543.8" cy="932.7" r="1.35" fill="#b9b9b9"/><circle cx="568.7" cy="908.0" r="1.35" fill="#b9b9b9"/><circle cx="570.3" cy="933.8" r="1.35" fill="#b9b9b9"/><circle cx="570.5" cy="936.5" r="1.35" fill="#b9b9b9"/><circle cx="594.8" cy="928.3" r="1.35" fill="#b9b9b9"/><circle cx="594.0" cy="933.8" r="1.35" fill="#b9b9b9"/><circle cx="625.2" cy="902.0" r="1.35" fill="#b9b9b9"/><circle cx="624.7" cy="917.5" r="1.35" fill="#b9b9b9"/><circle cx="649.2" cy="913.9" r="1.35" fill="#b9b9b9"/><circle cx="651.9" cy="917.5" r="1.35" fill="#b9b9b9"/><circle cx="650.1" cy="928.3" r="1.35" fill="#b9b9b9"/><circle cx="650.9" cy="931.0" r="1.35" fill="#b9b9b9"/><circle cx="651.9" cy="933.8" r="1.35" fill="#b9b9b9"/><circle cx="649.2" cy="935.1" r="1.35" fill="#b9b9b9"/><circle cx="677.7" cy="926.4" r="1.35" fill="#b9b9b9"/><circle cx="676.4" cy="933.8" r="1.35" fill="#b9b9b9"/><circle cx="679.1" cy="933.8" r="1.35" fill="#b9b9b9"/><circle cx="675.5" cy="936.5" r="1.35" fill="#b9b9b9"/><circle cx="706.2" cy="878.9" r="1.35" fill="#b9b9b9"/><circle cx="702.7" cy="894.4" r="1.35" fill="#b9b9b9"/><circle cx="706.8" cy="896.5" r="1.35" fill="#b9b9b9"/><circle cx="706.8" cy="902.5" r="1.35" fill="#b9b9b9"/><circle cx="704.1" cy="909.3" r="1.35" fill="#b9b9b9"/><circle cx="703.5" cy="913.9" r="1.35" fill="#b9b9b9"/><circle cx="706.2" cy="918.8" r="1.35" fill="#b9b9b9"/><circle cx="702.7" cy="921.5" r="1.35" fill="#b9b9b9"/><circle cx="704.6" cy="925.6" r="1.35" fill="#b9b9b9"/><circle cx="706.8" cy="927.0" r="1.35" fill="#b9b9b9"/><circle cx="702.7" cy="929.7" r="1.35" fill="#b9b9b9"/><circle cx="705.4" cy="932.4" r="1.35" fill="#b9b9b9"/><circle cx="703.5" cy="935.1" r="1.35" fill="#b9b9b9"/><circle cx="706.8" cy="935.1" r="1.35" fill="#b9b9b9"/><circle cx="185.1" cy="933.7" r="1.35" fill="#b9b9b9"/><circle cx="190.6" cy="920.8" r="1.35" fill="#b9b9b9"/><circle cx="186.4" cy="920.0" r="1.35" fill="#b9b9b9"/><circle cx="191.1" cy="923.8" r="1.35" fill="#b9b9b9"/><circle cx="184.7" cy="935.1" r="1.35" fill="#b9b9b9"/><circle cx="186.1" cy="935.7" r="1.35" fill="#b9b9b9"/><circle cx="190.3" cy="925.2" r="1.35" fill="#b9b9b9"/><circle cx="189.4" cy="921.8" r="1.35" fill="#b9b9b9"/><circle cx="191.4" cy="917.8" r="1.35" fill="#b9b9b9"/><circle cx="191.0" cy="930.6" r="1.35" fill="#b9b9b9"/><circle cx="186.2" cy="924.2" r="1.35" fill="#b9b9b9"/><circle cx="185.7" cy="927.4" r="1.35" fill="#b9b9b9"/><circle cx="190.3" cy="931.4" r="1.35" fill="#b9b9b9"/><circle cx="188.3" cy="937.9" r="1.35" fill="#b9b9b9"/><circle cx="186.5" cy="930.6" r="1.35" fill="#b9b9b9"/><circle cx="188.2" cy="937.3" r="1.35" fill="#b9b9b9"/><circle cx="185.2" cy="932.7" r="1.35" fill="#b9b9b9"/><circle cx="189.3" cy="931.4" r="1.35" fill="#b9b9b9"/><circle cx="190.1" cy="937.1" r="1.35" fill="#b9b9b9"/><circle cx="187.8" cy="937.1" r="1.35" fill="#b9b9b9"/><circle cx="190.6" cy="932.1" r="1.35" fill="#b9b9b9"/><circle cx="189.7" cy="919.9" r="1.35" fill="#b9b9b9"/><circle cx="186.8" cy="933.5" r="1.35" fill="#b9b9b9"/><circle cx="188.1" cy="921.7" r="1.35" fill="#b9b9b9"/><circle cx="189.6" cy="926.2" r="1.35" fill="#b9b9b9"/><circle cx="187.2" cy="935.4" r="1.35" fill="#b9b9b9"/><circle cx="186.9" cy="918.4" r="1.35" fill="#b9b9b9"/><circle cx="185.6" cy="921.1" r="1.35" fill="#b9b9b9"/><circle cx="188.1" cy="937.9" r="1.35" fill="#b9b9b9"/><circle cx="188.7" cy="933.7" r="1.35" fill="#b9b9b9"/><circle cx="184.8" cy="923.0" r="1.35" fill="#b9b9b9"/><circle cx="187.2" cy="929.3" r="1.35" fill="#b9b9b9"/><circle cx="190.5" cy="919.6" r="1.35" fill="#b9b9b9"/><circle cx="189.8" cy="920.2" r="1.35" fill="#b9b9b9"/><circle cx="188.9" cy="932.5" r="1.35" fill="#b9b9b9"/><circle cx="187.1" cy="928.3" r="1.35" fill="#b9b9b9"/><circle cx="189.1" cy="933.6" r="1.35" fill="#b9b9b9"/><circle cx="186.2" cy="919.9" r="1.35" fill="#b9b9b9"/><circle cx="185.6" cy="932.3" r="1.35" fill="#b9b9b9"/><circle cx="187.3" cy="932.1" r="1.35" fill="#b9b9b9"/><circle cx="189.1" cy="936.9" r="1.35" fill="#b9b9b9"/><circle cx="190.2" cy="932.5" r="1.35" fill="#b9b9b9"/><circle cx="189.7" cy="934.5" r="1.35" fill="#b9b9b9"/><circle cx="185.7" cy="917.7" r="1.35" fill="#b9b9b9"/><circle cx="191.4" cy="932.0" r="1.35" fill="#b9b9b9"/><circle cx="186.8" cy="931.3" r="1.35" fill="#b9b9b9"/><circle cx="190.4" cy="936.0" r="1.35" fill="#b9b9b9"/><circle cx="190.7" cy="932.9" r="1.35" fill="#b9b9b9"/><circle cx="185.8" cy="928.0" r="1.35" fill="#b9b9b9"/><circle cx="190.9" cy="917.4" r="1.35" fill="#b9b9b9"/><circle cx="188.8" cy="923.5" r="1.35" fill="#b9b9b9"/><circle cx="191.2" cy="923.4" r="1.35" fill="#b9b9b9"/><circle cx="186.2" cy="935.3" r="1.35" fill="#b9b9b9"/><circle cx="187.5" cy="923.2" r="1.35" fill="#b9b9b9"/><circle cx="190.4" cy="917.6" r="1.35" fill="#b9b9b9"/><circle cx="185.6" cy="928.8" r="1.35" fill="#b9b9b9"/><circle cx="188.8" cy="926.7" r="1.35" fill="#b9b9b9"/><circle cx="190.0" cy="927.5" r="1.35" fill="#b9b9b9"/><circle cx="190.8" cy="929.7" r="1.35" fill="#b9b9b9"/><circle cx="185.6" cy="927.1" r="1.35" fill="#b9b9b9"/><circle cx="185.7" cy="921.7" r="1.35" fill="#b9b9b9"/><circle cx="191.1" cy="919.6" r="1.35" fill="#b9b9b9"/><circle cx="185.9" cy="935.3" r="1.35" fill="#b9b9b9"/><circle cx="187.7" cy="924.6" r="1.35" fill="#b9b9b9"/><circle cx="189.8" cy="931.9" r="1.35" fill="#b9b9b9"/><circle cx="185.4" cy="932.7" r="1.35" fill="#b9b9b9"/><circle cx="190.7" cy="928.1" r="1.35" fill="#b9b9b9"/><circle cx="185.3" cy="918.2" r="1.35" fill="#b9b9b9"/><circle cx="186.8" cy="923.6" r="1.35" fill="#b9b9b9"/><circle cx="187.3" cy="918.0" r="1.35" fill="#b9b9b9"/><circle cx="186.8" cy="936.8" r="1.35" fill="#b9b9b9"/><circle cx="185.7" cy="928.9" r="1.35" fill="#b9b9b9"/><circle cx="186.8" cy="923.0" r="1.35" fill="#b9b9b9"/><circle cx="186.2" cy="923.7" r="1.35" fill="#b9b9b9"/><circle cx="189.2" cy="929.4" r="1.35" fill="#b9b9b9"/><circle cx="186.6" cy="935.1" r="1.35" fill="#b9b9b9"/><circle cx="187.3" cy="921.3" r="1.35" fill="#b9b9b9"/><circle cx="188.9" cy="932.4" r="1.35" fill="#b9b9b9"/><circle cx="190.6" cy="924.9" r="1.35" fill="#b9b9b9"/><circle cx="190.6" cy="927.8" r="1.35" fill="#b9b9b9"/><circle cx="191.1" cy="919.9" r="1.35" fill="#b9b9b9"/><circle cx="189.4" cy="919.3" r="1.35" fill="#b9b9b9"/><circle cx="187.3" cy="924.8" r="1.35" fill="#b9b9b9"/><circle cx="191.0" cy="936.7" r="1.35" fill="#b9b9b9"/><circle cx="186.9" cy="931.1" r="1.35" fill="#b9b9b9"/><circle cx="189.9" cy="928.2" r="1.35" fill="#b9b9b9"/><circle cx="185.3" cy="921.5" r="1.35" fill="#b9b9b9"/><circle cx="191.2" cy="922.7" r="1.35" fill="#b9b9b9"/><circle cx="191.2" cy="917.8" r="1.35" fill="#b9b9b9"/><circle cx="190.8" cy="927.7" r="1.35" fill="#b9b9b9"/><circle cx="190.5" cy="927.2" r="1.35" fill="#b9b9b9"/><circle cx="187.2" cy="917.5" r="1.35" fill="#b9b9b9"/><circle cx="189.8" cy="936.5" r="1.35" fill="#b9b9b9"/><circle cx="190.9" cy="918.8" r="1.35" fill="#b9b9b9"/><circle cx="187.7" cy="930.1" r="1.35" fill="#b9b9b9"/><circle cx="190.5" cy="936.5" r="1.35" fill="#b9b9b9"/><circle cx="185.4" cy="933.9" r="1.35" fill="#b9b9b9"/><circle cx="191.1" cy="936.8" r="1.35" fill="#b9b9b9"/><circle cx="190.1" cy="931.1" r="1.35" fill="#b9b9b9"/><circle cx="187.9" cy="937.2" r="1.35" fill="#b9b9b9"/><circle cx="190.0" cy="923.6" r="1.35" fill="#b9b9b9"/><circle cx="187.9" cy="935.4" r="1.35" fill="#b9b9b9"/><circle cx="245.4" cy="926.3" r="1.35" fill="#b9b9b9"/><circle cx="243.0" cy="936.7" r="1.35" fill="#b9b9b9"/><circle cx="243.3" cy="925.0" r="1.35" fill="#b9b9b9"/><circle cx="240.9" cy="926.8" r="1.35" fill="#b9b9b9"/><circle cx="238.9" cy="931.5" r="1.35" fill="#b9b9b9"/><circle cx="242.9" cy="926.6" r="1.35" fill="#b9b9b9"/><circle cx="245.6" cy="935.8" r="1.35" fill="#b9b9b9"/><circle cx="239.0" cy="935.4" r="1.35" fill="#b9b9b9"/><circle cx="239.4" cy="927.8" r="1.35" fill="#b9b9b9"/><circle cx="239.8" cy="928.9" r="1.35" fill="#b9b9b9"/><circle cx="244.1" cy="937.4" r="1.35" fill="#b9b9b9"/><circle cx="243.5" cy="929.6" r="1.35" fill="#b9b9b9"/><circle cx="244.0" cy="928.1" r="1.35" fill="#b9b9b9"/><circle cx="241.9" cy="935.8" r="1.35" fill="#b9b9b9"/><circle cx="245.0" cy="930.0" r="1.35" fill="#b9b9b9"/><circle cx="242.3" cy="929.1" r="1.35" fill="#b9b9b9"/><circle cx="244.9" cy="926.2" r="1.35" fill="#b9b9b9"/><circle cx="240.1" cy="934.9" r="1.35" fill="#b9b9b9"/><circle cx="245.1" cy="937.5" r="1.35" fill="#b9b9b9"/><circle cx="243.0" cy="935.4" r="1.35" fill="#b9b9b9"/><circle cx="243.5" cy="931.0" r="1.35" fill="#b9b9b9"/><circle cx="243.5" cy="924.1" r="1.35" fill="#b9b9b9"/><circle cx="241.9" cy="935.9" r="1.35" fill="#b9b9b9"/><circle cx="241.6" cy="935.7" r="1.35" fill="#b9b9b9"/><circle cx="243.5" cy="927.5" r="1.35" fill="#b9b9b9"/><circle cx="245.0" cy="929.4" r="1.35" fill="#b9b9b9"/><circle cx="240.6" cy="923.0" r="1.35" fill="#b9b9b9"/><circle cx="243.5" cy="928.2" r="1.35" fill="#b9b9b9"/><circle cx="245.9" cy="937.3" r="1.35" fill="#b9b9b9"/><circle cx="243.6" cy="932.9" r="1.35" fill="#b9b9b9"/><circle cx="241.8" cy="935.2" r="1.35" fill="#b9b9b9"/><circle cx="245.8" cy="936.5" r="1.35" fill="#b9b9b9"/><circle cx="239.3" cy="937.2" r="1.35" fill="#b9b9b9"/><circle cx="242.9" cy="927.8" r="1.35" fill="#b9b9b9"/><circle cx="245.6" cy="934.0" r="1.35" fill="#b9b9b9"/><circle cx="242.0" cy="928.2" r="1.35" fill="#b9b9b9"/><circle cx="245.5" cy="928.0" r="1.35" fill="#b9b9b9"/><circle cx="241.4" cy="925.3" r="1.35" fill="#b9b9b9"/><circle cx="240.4" cy="927.0" r="1.35" fill="#b9b9b9"/><circle cx="245.9" cy="933.1" r="1.35" fill="#b9b9b9"/><circle cx="241.7" cy="927.6" r="1.35" fill="#b9b9b9"/><circle cx="241.9" cy="930.7" r="1.35" fill="#b9b9b9"/><circle cx="323.6" cy="922.0" r="1.35" fill="#b9b9b9"/><circle cx="323.1" cy="928.6" r="1.35" fill="#b9b9b9"/><circle cx="325.1" cy="917.1" r="1.35" fill="#b9b9b9"/><circle cx="323.0" cy="933.4" r="1.35" fill="#b9b9b9"/><circle cx="324.6" cy="916.5" r="1.35" fill="#b9b9b9"/><circle cx="324.1" cy="924.8" r="1.35" fill="#b9b9b9"/><circle cx="323.8" cy="934.3" r="1.35" fill="#b9b9b9"/><circle cx="323.2" cy="920.9" r="1.35" fill="#b9b9b9"/><circle cx="323.2" cy="929.7" r="1.35" fill="#b9b9b9"/><circle cx="322.1" cy="924.9" r="1.35" fill="#b9b9b9"/><circle cx="321.3" cy="918.8" r="1.35" fill="#b9b9b9"/><circle cx="323.6" cy="920.2" r="1.35" fill="#b9b9b9"/><circle cx="322.3" cy="933.3" r="1.35" fill="#b9b9b9"/><circle cx="321.8" cy="932.9" r="1.35" fill="#b9b9b9"/><circle cx="322.4" cy="913.8" r="1.35" fill="#b9b9b9"/><circle cx="324.3" cy="936.4" r="1.35" fill="#b9b9b9"/><circle cx="322.4" cy="914.3" r="1.35" fill="#b9b9b9"/><circle cx="323.9" cy="933.7" r="1.35" fill="#b9b9b9"/><circle cx="323.3" cy="931.6" r="1.35" fill="#b9b9b9"/><circle cx="326.0" cy="925.6" r="1.35" fill="#b9b9b9"/><circle cx="322.8" cy="930.4" r="1.35" fill="#b9b9b9"/><circle cx="323.9" cy="922.0" r="1.35" fill="#b9b9b9"/><circle cx="323.2" cy="917.2" r="1.35" fill="#b9b9b9"/><circle cx="323.5" cy="923.9" r="1.35" fill="#b9b9b9"/><circle cx="323.4" cy="924.8" r="1.35" fill="#b9b9b9"/><circle cx="321.6" cy="935.0" r="1.35" fill="#b9b9b9"/><circle cx="326.0" cy="930.0" r="1.35" fill="#b9b9b9"/><circle cx="323.5" cy="927.2" r="1.35" fill="#b9b9b9"/><circle cx="324.9" cy="928.7" r="1.35" fill="#b9b9b9"/><circle cx="323.0" cy="931.0" r="1.35" fill="#b9b9b9"/><circle cx="433.5" cy="932.0" r="1.35" fill="#b9b9b9"/><circle cx="433.7" cy="929.4" r="1.35" fill="#b9b9b9"/><circle cx="432.2" cy="920.1" r="1.35" fill="#b9b9b9"/><circle cx="436.0" cy="926.6" r="1.35" fill="#b9b9b9"/><circle cx="435.1" cy="924.2" r="1.35" fill="#b9b9b9"/><circle cx="431.3" cy="922.8" r="1.35" fill="#b9b9b9"/><circle cx="432.2" cy="926.4" r="1.35" fill="#b9b9b9"/><circle cx="430.9" cy="931.6" r="1.35" fill="#b9b9b9"/><circle cx="435.6" cy="923.4" r="1.35" fill="#b9b9b9"/><circle cx="432.7" cy="921.7" r="1.35" fill="#b9b9b9"/><circle cx="434.9" cy="920.5" r="1.35" fill="#b9b9b9"/><circle cx="434.9" cy="926.8" r="1.35" fill="#b9b9b9"/><circle cx="430.3" cy="923.5" r="1.35" fill="#b9b9b9"/><circle cx="434.0" cy="926.7" r="1.35" fill="#b9b9b9"/><circle cx="434.9" cy="931.6" r="1.35" fill="#b9b9b9"/><circle cx="430.7" cy="924.3" r="1.35" fill="#b9b9b9"/><circle cx="430.3" cy="931.1" r="1.35" fill="#b9b9b9"/><circle cx="430.8" cy="931.3" r="1.35" fill="#b9b9b9"/><circle cx="431.9" cy="936.5" r="1.35" fill="#b9b9b9"/><circle cx="431.2" cy="924.8" r="1.35" fill="#b9b9b9"/><circle cx="431.3" cy="919.4" r="1.35" fill="#b9b9b9"/><circle cx="431.8" cy="922.4" r="1.35" fill="#b9b9b9"/><circle cx="433.1" cy="921.4" r="1.35" fill="#b9b9b9"/><circle cx="432.8" cy="922.2" r="1.35" fill="#b9b9b9"/><circle cx="435.3" cy="932.9" r="1.35" fill="#b9b9b9"/><circle cx="430.9" cy="936.4" r="1.35" fill="#b9b9b9"/><circle cx="433.4" cy="935.0" r="1.35" fill="#b9b9b9"/><circle cx="431.6" cy="923.9" r="1.35" fill="#b9b9b9"/><circle cx="435.1" cy="927.5" r="1.35" fill="#b9b9b9"/><circle cx="434.6" cy="936.5" r="1.35" fill="#b9b9b9"/><circle cx="430.4" cy="935.0" r="1.35" fill="#b9b9b9"/><circle cx="432.4" cy="929.1" r="1.35" fill="#b9b9b9"/><circle cx="433.9" cy="930.9" r="1.35" fill="#b9b9b9"/><circle cx="433.7" cy="936.4" r="1.35" fill="#b9b9b9"/><circle cx="435.7" cy="934.9" r="1.35" fill="#b9b9b9"/><circle cx="431.4" cy="929.5" r="1.35" fill="#b9b9b9"/><circle cx="432.6" cy="928.6" r="1.35" fill="#b9b9b9"/><circle cx="489.2" cy="935.9" r="1.35" fill="#b9b9b9"/><circle cx="489.8" cy="926.9" r="1.35" fill="#b9b9b9"/><circle cx="489.6" cy="916.5" r="1.35" fill="#b9b9b9"/><circle cx="485.8" cy="909.7" r="1.35" fill="#b9b9b9"/><circle cx="487.8" cy="922.8" r="1.35" fill="#b9b9b9"/><circle cx="489.1" cy="921.1" r="1.35" fill="#b9b9b9"/><circle cx="488.4" cy="916.3" r="1.35" fill="#b9b9b9"/><circle cx="487.6" cy="921.6" r="1.35" fill="#b9b9b9"/><circle cx="485.7" cy="934.5" r="1.35" fill="#b9b9b9"/><circle cx="488.0" cy="935.0" r="1.35" fill="#b9b9b9"/><circle cx="485.3" cy="921.5" r="1.35" fill="#b9b9b9"/><circle cx="489.9" cy="928.4" r="1.35" fill="#b9b9b9"/><circle cx="487.6" cy="934.2" r="1.35" fill="#b9b9b9"/><circle cx="487.1" cy="924.4" r="1.35" fill="#b9b9b9"/><circle cx="490.6" cy="931.0" r="1.35" fill="#b9b9b9"/><circle cx="487.3" cy="922.9" r="1.35" fill="#b9b9b9"/><circle cx="484.0" cy="935.8" r="1.35" fill="#b9b9b9"/><circle cx="485.6" cy="925.7" r="1.35" fill="#b9b9b9"/><circle cx="488.8" cy="919.0" r="1.35" fill="#b9b9b9"/><circle cx="486.4" cy="936.1" r="1.35" fill="#b9b9b9"/><circle cx="488.4" cy="930.3" r="1.35" fill="#b9b9b9"/><circle cx="489.9" cy="922.7" r="1.35" fill="#b9b9b9"/><circle cx="487.1" cy="936.5" r="1.35" fill="#b9b9b9"/><circle cx="484.9" cy="917.5" r="1.35" fill="#b9b9b9"/><circle cx="486.9" cy="936.5" r="1.35" fill="#b9b9b9"/><circle cx="484.0" cy="932.3" r="1.35" fill="#b9b9b9"/><circle cx="489.0" cy="913.4" r="1.35" fill="#b9b9b9"/><circle cx="490.0" cy="919.4" r="1.35" fill="#b9b9b9"/><circle cx="486.9" cy="917.3" r="1.35" fill="#b9b9b9"/><circle cx="490.4" cy="916.3" r="1.35" fill="#b9b9b9"/><circle cx="490.0" cy="910.0" r="1.35" fill="#b9b9b9"/><circle cx="490.7" cy="915.4" r="1.35" fill="#b9b9b9"/><circle cx="488.2" cy="910.0" r="1.35" fill="#b9b9b9"/><circle cx="488.7" cy="927.2" r="1.35" fill="#b9b9b9"/><circle cx="484.4" cy="908.9" r="1.35" fill="#b9b9b9"/><circle cx="484.7" cy="926.8" r="1.35" fill="#b9b9b9"/><circle cx="487.8" cy="935.3" r="1.35" fill="#b9b9b9"/><circle cx="484.4" cy="933.4" r="1.35" fill="#b9b9b9"/><circle cx="487.7" cy="922.3" r="1.35" fill="#b9b9b9"/><circle cx="483.9" cy="924.9" r="1.35" fill="#b9b9b9"/><circle cx="487.6" cy="934.6" r="1.35" fill="#b9b9b9"/><circle cx="484.5" cy="936.1" r="1.35" fill="#b9b9b9"/><circle cx="490.5" cy="929.4" r="1.35" fill="#b9b9b9"/><circle cx="490.1" cy="916.2" r="1.35" fill="#b9b9b9"/><circle cx="484.4" cy="915.7" r="1.35" fill="#b9b9b9"/><circle cx="488.5" cy="917.7" r="1.35" fill="#b9b9b9"/><circle cx="484.1" cy="910.8" r="1.35" fill="#b9b9b9"/><circle cx="621.8" cy="934.3" r="1.35" fill="#b9b9b9"/><circle cx="623.0" cy="929.8" r="1.35" fill="#b9b9b9"/><circle cx="625.6" cy="932.7" r="1.35" fill="#b9b9b9"/><circle cx="626.6" cy="918.5" r="1.35" fill="#b9b9b9"/><circle cx="622.0" cy="935.7" r="1.35" fill="#b9b9b9"/><circle cx="625.6" cy="929.4" r="1.35" fill="#b9b9b9"/><circle cx="626.0" cy="922.6" r="1.35" fill="#b9b9b9"/><circle cx="624.3" cy="935.1" r="1.35" fill="#b9b9b9"/><circle cx="625.1" cy="936.0" r="1.35" fill="#b9b9b9"/><circle cx="622.9" cy="921.1" r="1.35" fill="#b9b9b9"/><circle cx="621.4" cy="930.7" r="1.35" fill="#b9b9b9"/><circle cx="623.0" cy="919.9" r="1.35" fill="#b9b9b9"/><circle cx="623.3" cy="932.5" r="1.35" fill="#b9b9b9"/><circle cx="626.9" cy="934.6" r="1.35" fill="#b9b9b9"/><circle cx="624.3" cy="918.5" r="1.35" fill="#b9b9b9"/><circle cx="623.9" cy="930.3" r="1.35" fill="#b9b9b9"/><circle cx="621.2" cy="918.5" r="1.35" fill="#b9b9b9"/></g>
<text x="77.4" y="956.9" font-size="7.7" text-anchor="middle" fill="#333" font-weight="normal" >Centro</text>
<text x="78.5" y="975.3" font-size="11.2" text-anchor="middle" fill="#000" font-weight="normal" >15</text>
<text x="104.1" y="956.9" font-size="7.7" text-anchor="middle" fill="#333" font-weight="normal" >DLBCL</text>
<text x="105.0" y="975.3" font-size="11.2" text-anchor="middle" fill="#000" font-weight="normal" >92</text>
<text x="133.0" y="953.7" font-size="7.6" text-anchor="middle" fill="#000" font-weight="bold" >DLBCL</text>
<text x="133.0" y="962.8" font-size="7.9" text-anchor="middle" fill="#222" font-weight="normal" >(TCGA)</text>
<text x="133.0" y="975.3" font-size="11.2" text-anchor="middle" fill="#000" font-weight="normal" >17</text>
<text x="161.8" y="956.9" font-size="7.7" text-anchor="middle" fill="#333" font-weight="normal" >BLCA</text>
<text x="162.0" y="975.3" font-size="11.2" text-anchor="middle" fill="#000" font-weight="normal" >174</text>
<text x="189.05" y="956.9" font-size="7.7" text-anchor="middle" fill="#333" font-weight="normal" >BRCA</text>
<text x="189.2" y="975.3" font-size="11.2" text-anchor="middle" fill="#000" font-weight="normal" >1104</text>
<text x="216.3" y="956.9" font-size="7.7" text-anchor="middle" fill="#333" font-weight="normal" >CESC</text>
<text x="216.4" y="975.3" font-size="11.2" text-anchor="middle" fill="#000" font-weight="normal" >136</text>
<text x="243.55" y="956.9" font-size="7.7" text-anchor="middle" fill="#333" font-weight="normal" >COAD</text>
<text x="243.6" y="975.3" font-size="11.2" text-anchor="middle" fill="#000" font-weight="normal" >486</text>
<text x="270.8" y="956.9" font-size="7.7" text-anchor="middle" fill="#333" font-weight="normal" >HNSC</text>
<text x="270.8" y="975.3" font-size="11.2" text-anchor="middle" fill="#000" font-weight="normal" >399</text>
<text x="298.05" y="956.9" font-size="7.7" text-anchor="middle" fill="#333" font-weight="normal" >KICH</text>
<text x="298.0" y="975.3" font-size="11.2" text-anchor="middle" fill="#000" font-weight="normal" >91</text>
<text x="325.3" y="956.9" font-size="7.7" text-anchor="middle" fill="#333" font-weight="normal" >KIRC</text>
<text x="325.2" y="975.3" font-size="11.2" text-anchor="middle" fill="#000" font-weight="normal" >584</text>
<text x="352.55" y="956.9" font-size="7.7" text-anchor="middle" fill="#333" font-weight="normal" >KIRP</text>
<text x="352.4" y="975.3" font-size="11.2" text-anchor="middle" fill="#000" font-weight="normal" >153</text>
<text x="379.8" y="956.9" font-size="7.7" text-anchor="middle" fill="#333" font-weight="normal" >LGG</text>
<text x="379.6" y="975.3" font-size="11.2" text-anchor="middle" fill="#000" font-weight="normal" >221</text>
<text x="407.05" y="956.9" font-size="7.7" text-anchor="middle" fill="#333" font-weight="normal" >LIHC</text>
<text x="406.79999999999995" y="975.3" font-size="11.2" text-anchor="middle" fill="#000" font-weight="normal" >149</text>
<text x="434.3" y="956.9" font-size="7.7" text-anchor="middle" fill="#333" font-weight="normal" >LUAD</text>
<text x="434.0" y="975.3" font-size="11.2" text-anchor="middle" fill="#000" font-weight="normal" >535</text>
<text x="461.55" y="956.9" font-size="7.7" text-anchor="middle" fill="#333" font-weight="normal" >LUSC</text>
<text x="461.2" y="975.3" font-size="11.2" text-anchor="middle" fill="#000" font-weight="normal" >435</text>
<text x="488.8" y="956.9" font-size="7.7" text-anchor="middle" fill="#333" font-weight="normal" >OV</text>
<text x="488.4" y="975.3" font-size="11.2" text-anchor="middle" fill="#000" font-weight="normal" >525</text>
<text x="516.05" y="956.9" font-size="7.7" text-anchor="middle" fill="#333" font-weight="normal" >PAAD</text>
<text x="515.5999999999999" y="975.3" font-size="11.2" text-anchor="middle" fill="#000" font-weight="normal" >44</text>
<text x="543.3" y="956.9" font-size="7.7" text-anchor="middle" fill="#333" font-weight="normal" >PRAD</text>
<text x="542.8" y="975.3" font-size="11.2" text-anchor="middle" fill="#000" font-weight="normal" >248</text>
<text x="570.55" y="956.9" font-size="7.7" text-anchor="middle" fill="#333" font-weight="normal" >READ</text>
<text x="570.0" y="975.3" font-size="11.2" text-anchor="middle" fill="#000" font-weight="normal" >176</text>
<text x="597.8" y="956.9" font-size="7.7" text-anchor="middle" fill="#333" font-weight="normal" >SARC</text>
<text x="597.2" y="975.3" font-size="11.2" text-anchor="middle" fill="#000" font-weight="normal" >30</text>
<text x="625.05" y="956.9" font-size="7.7" text-anchor="middle" fill="#333" font-weight="normal" >SKCM</text>
<text x="624.4" y="975.3" font-size="11.2" text-anchor="middle" fill="#000" font-weight="normal" >303</text>
<text x="652.3" y="956.9" font-size="7.7" text-anchor="middle" fill="#333" font-weight="normal" >STAD</text>
<text x="651.5999999999999" y="975.3" font-size="11.2" text-anchor="middle" fill="#000" font-weight="normal" >334</text>
<text x="679.55" y="956.9" font-size="7.7" text-anchor="middle" fill="#333" font-weight="normal" >THCA</text>
<text x="678.8" y="975.3" font-size="11.2" text-anchor="middle" fill="#000" font-weight="normal" >572</text>
<text x="706.8" y="956.9" font-size="7.7" text-anchor="middle" fill="#333" font-weight="normal" >UCEC</text>
<text x="706.0" y="975.3" font-size="11.2" text-anchor="middle" fill="#000" font-weight="normal" >550</text>
<text x="45.8" y="975.3" font-size="11.2" text-anchor="middle" fill="#000" font-weight="normal" >n</text>
<text x="383" y="989.2" font-size="10.8" text-anchor="middle" fill="#000" font-weight="normal" >miRNA-seq Data Set</text>
</svg>
</body></html>
